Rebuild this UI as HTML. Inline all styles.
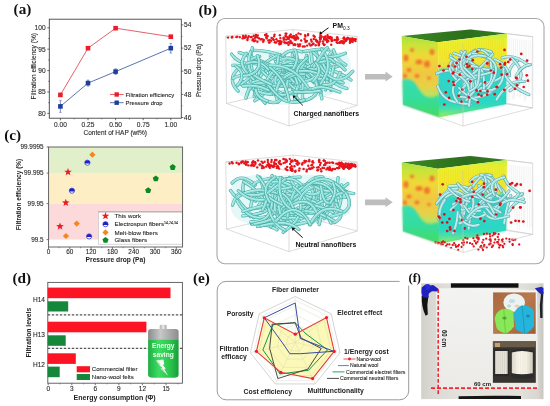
<!DOCTYPE html>
<html><head><meta charset="utf-8"><style>
html,body{margin:0;padding:0;background:#fff;}
svg{display:block;}
</style></head><body>
<svg width="550" height="406" viewBox="0 0 550 406">
<rect width="550" height="406" fill="#fff"/>
<text x="0.0" y="0.0" font-size="14" text-anchor="start" font-weight="700" fill="#111" font-family="'Liberation Serif', 'Times New Roman', serif" transform="translate(13.6,14.2) scale(1.09,1)">(a)</text>
<text x="0.0" y="0.0" font-size="14" text-anchor="start" font-weight="700" fill="#111" font-family="'Liberation Serif', 'Times New Roman', serif" transform="translate(198.5,15.2) scale(1.09,1)">(b)</text>
<text x="0.0" y="0.0" font-size="14" text-anchor="start" font-weight="700" fill="#111" font-family="'Liberation Serif', 'Times New Roman', serif" transform="translate(4.2,139.9) scale(1.09,1)">(c)</text>
<text x="0.0" y="0.0" font-size="14" text-anchor="start" font-weight="700" fill="#111" font-family="'Liberation Serif', 'Times New Roman', serif" transform="translate(12.5,282.6) scale(1.09,1)">(d)</text>
<text x="0.0" y="0.0" font-size="14" text-anchor="start" font-weight="700" fill="#111" font-family="'Liberation Serif', 'Times New Roman', serif" transform="translate(193,282.8) scale(1.09,1)">(e)</text>
<text x="408.5" y="281.6" font-size="12.5" text-anchor="start" font-weight="700" fill="#111" font-family="'Liberation Serif', 'Times New Roman', serif" >(f)</text>
<rect x="49.3" y="19.2" width="132.0" height="99.0" fill="none" stroke="#444" stroke-width="0.9"/>
<line x1="47.3" y1="113.4" x2="49.3" y2="113.4" stroke="#444" stroke-width="0.8" />
<text x="45.6" y="115.7" font-size="6.6" text-anchor="end" font-weight="400" fill="#262626" font-family="'Liberation Sans', Arial, sans-serif" stroke="#262626" stroke-width="0.1" >80</text>
<line x1="47.3" y1="92.0" x2="49.3" y2="92.0" stroke="#444" stroke-width="0.8" />
<text x="45.6" y="94.3" font-size="6.6" text-anchor="end" font-weight="400" fill="#262626" font-family="'Liberation Sans', Arial, sans-serif" stroke="#262626" stroke-width="0.1" >85</text>
<line x1="47.3" y1="70.6" x2="49.3" y2="70.6" stroke="#444" stroke-width="0.8" />
<text x="45.6" y="72.9" font-size="6.6" text-anchor="end" font-weight="400" fill="#262626" font-family="'Liberation Sans', Arial, sans-serif" stroke="#262626" stroke-width="0.1" >90</text>
<line x1="47.3" y1="49.2" x2="49.3" y2="49.2" stroke="#444" stroke-width="0.8" />
<text x="45.6" y="51.5" font-size="6.6" text-anchor="end" font-weight="400" fill="#262626" font-family="'Liberation Sans', Arial, sans-serif" stroke="#262626" stroke-width="0.1" >95</text>
<line x1="47.3" y1="27.8" x2="49.3" y2="27.8" stroke="#444" stroke-width="0.8" />
<text x="45.6" y="30.1" font-size="6.6" text-anchor="end" font-weight="400" fill="#262626" font-family="'Liberation Sans', Arial, sans-serif" stroke="#262626" stroke-width="0.1" >100</text>
<line x1="48.1" y1="102.7" x2="49.3" y2="102.7" stroke="#444" stroke-width="0.6" />
<line x1="48.1" y1="81.3" x2="49.3" y2="81.3" stroke="#444" stroke-width="0.6" />
<line x1="48.1" y1="59.9" x2="49.3" y2="59.9" stroke="#444" stroke-width="0.6" />
<line x1="48.1" y1="38.5" x2="49.3" y2="38.5" stroke="#444" stroke-width="0.6" />
<line x1="181.3" y1="117.5" x2="183.3" y2="117.5" stroke="#444" stroke-width="0.8" />
<text x="184.0" y="119.8" font-size="6.6" text-anchor="start" font-weight="400" fill="#262626" font-family="'Liberation Sans', Arial, sans-serif" stroke="#262626" stroke-width="0.1" >46</text>
<line x1="181.3" y1="94.4" x2="183.3" y2="94.4" stroke="#444" stroke-width="0.8" />
<text x="184.0" y="96.7" font-size="6.6" text-anchor="start" font-weight="400" fill="#262626" font-family="'Liberation Sans', Arial, sans-serif" stroke="#262626" stroke-width="0.1" >48</text>
<line x1="181.3" y1="71.2" x2="183.3" y2="71.2" stroke="#444" stroke-width="0.8" />
<text x="184.0" y="73.5" font-size="6.6" text-anchor="start" font-weight="400" fill="#262626" font-family="'Liberation Sans', Arial, sans-serif" stroke="#262626" stroke-width="0.1" >50</text>
<line x1="181.3" y1="48.1" x2="183.3" y2="48.1" stroke="#444" stroke-width="0.8" />
<text x="184.0" y="50.4" font-size="6.6" text-anchor="start" font-weight="400" fill="#262626" font-family="'Liberation Sans', Arial, sans-serif" stroke="#262626" stroke-width="0.1" >52</text>
<line x1="181.3" y1="24.9" x2="183.3" y2="24.9" stroke="#444" stroke-width="0.8" />
<text x="184.0" y="27.2" font-size="6.6" text-anchor="start" font-weight="400" fill="#262626" font-family="'Liberation Sans', Arial, sans-serif" stroke="#262626" stroke-width="0.1" >54</text>
<line x1="181.3" y1="105.9" x2="182.5" y2="105.9" stroke="#444" stroke-width="0.6" />
<line x1="181.3" y1="82.8" x2="182.5" y2="82.8" stroke="#444" stroke-width="0.6" />
<line x1="181.3" y1="59.6" x2="182.5" y2="59.6" stroke="#444" stroke-width="0.6" />
<line x1="181.3" y1="36.5" x2="182.5" y2="36.5" stroke="#444" stroke-width="0.6" />
<line x1="60.4" y1="118.2" x2="60.4" y2="120.2" stroke="#444" stroke-width="0.8" />
<text x="60.4" y="126.6" font-size="6.6" text-anchor="middle" font-weight="400" fill="#262626" font-family="'Liberation Sans', Arial, sans-serif" stroke="#262626" stroke-width="0.1" >0.00</text>
<line x1="88.0" y1="118.2" x2="88.0" y2="120.2" stroke="#444" stroke-width="0.8" />
<text x="88.0" y="126.6" font-size="6.6" text-anchor="middle" font-weight="400" fill="#262626" font-family="'Liberation Sans', Arial, sans-serif" stroke="#262626" stroke-width="0.1" >0.25</text>
<line x1="115.6" y1="118.2" x2="115.6" y2="120.2" stroke="#444" stroke-width="0.8" />
<text x="115.6" y="126.6" font-size="6.6" text-anchor="middle" font-weight="400" fill="#262626" font-family="'Liberation Sans', Arial, sans-serif" stroke="#262626" stroke-width="0.1" >0.50</text>
<line x1="143.2" y1="118.2" x2="143.2" y2="120.2" stroke="#444" stroke-width="0.8" />
<text x="143.2" y="126.6" font-size="6.6" text-anchor="middle" font-weight="400" fill="#262626" font-family="'Liberation Sans', Arial, sans-serif" stroke="#262626" stroke-width="0.1" >0.75</text>
<line x1="170.8" y1="118.2" x2="170.8" y2="120.2" stroke="#444" stroke-width="0.8" />
<text x="170.8" y="126.6" font-size="6.6" text-anchor="middle" font-weight="400" fill="#262626" font-family="'Liberation Sans', Arial, sans-serif" stroke="#262626" stroke-width="0.1" >1.00</text>
<line x1="74.2" y1="118.2" x2="74.2" y2="119.4" stroke="#444" stroke-width="0.6" />
<line x1="101.8" y1="118.2" x2="101.8" y2="119.4" stroke="#444" stroke-width="0.6" />
<line x1="129.4" y1="118.2" x2="129.4" y2="119.4" stroke="#444" stroke-width="0.6" />
<line x1="157.0" y1="118.2" x2="157.0" y2="119.4" stroke="#444" stroke-width="0.6" />
<line x1="184.6" y1="118.2" x2="184.6" y2="119.4" stroke="#444" stroke-width="0.6" />
<text x="115.3" y="134.8" font-size="6.5" text-anchor="middle" font-weight="400" fill="#262626" font-family="'Liberation Sans', Arial, sans-serif" stroke="#262626" stroke-width="0.1" >Content of HAP (wt%)</text>
<text x="0.0" y="0.0" font-size="6.6" text-anchor="middle" font-weight="400" fill="#262626" font-family="'Liberation Sans', Arial, sans-serif" stroke="#262626" stroke-width="0.1" transform="translate(35.6,66.3) rotate(-90)">Filtration efficiency (%)</text>
<text x="0.0" y="0.0" font-size="6.3" text-anchor="middle" font-weight="400" fill="#262626" font-family="'Liberation Sans', Arial, sans-serif" stroke="#262626" stroke-width="0.1" transform="translate(201.2,70.5) rotate(-90)">Pressure drop (Pa)</text>
<polyline points="60.4,94.9 88.0,48.2 115.6,28.2 170.8,36.7" fill="none" stroke="#e0505a" stroke-width="0.9"/>
<polyline points="60.4,106.4 88.0,83.1 115.6,71.6 170.8,48.2" fill="none" stroke="#4a64a8" stroke-width="0.9"/>
<line x1="60.4" y1="93.3" x2="60.4" y2="96.5" stroke="#e88" stroke-width="0.7" />
<line x1="59.2" y1="93.3" x2="61.6" y2="93.3" stroke="#e88" stroke-width="0.6" />
<line x1="59.2" y1="96.5" x2="61.6" y2="96.5" stroke="#e88" stroke-width="0.6" />
<line x1="88.0" y1="47.4" x2="88.0" y2="49.0" stroke="#e88" stroke-width="0.7" />
<line x1="86.8" y1="47.4" x2="89.2" y2="47.4" stroke="#e88" stroke-width="0.6" />
<line x1="86.8" y1="49.0" x2="89.2" y2="49.0" stroke="#e88" stroke-width="0.6" />
<line x1="115.6" y1="27.7" x2="115.6" y2="28.7" stroke="#e88" stroke-width="0.7" />
<line x1="114.4" y1="27.7" x2="116.8" y2="27.7" stroke="#e88" stroke-width="0.6" />
<line x1="114.4" y1="28.7" x2="116.8" y2="28.7" stroke="#e88" stroke-width="0.6" />
<line x1="170.8" y1="35.9" x2="170.8" y2="37.5" stroke="#e88" stroke-width="0.7" />
<line x1="169.6" y1="35.9" x2="172.0" y2="35.9" stroke="#e88" stroke-width="0.6" />
<line x1="169.6" y1="37.5" x2="172.0" y2="37.5" stroke="#e88" stroke-width="0.6" />
<line x1="60.4" y1="100.4" x2="60.4" y2="112.4" stroke="#4a64a8" stroke-width="0.7" />
<line x1="59.2" y1="100.4" x2="61.6" y2="100.4" stroke="#4a64a8" stroke-width="0.6" />
<line x1="59.2" y1="112.4" x2="61.6" y2="112.4" stroke="#4a64a8" stroke-width="0.6" />
<line x1="88.0" y1="80.1" x2="88.0" y2="86.1" stroke="#4a64a8" stroke-width="0.7" />
<line x1="86.8" y1="80.1" x2="89.2" y2="80.1" stroke="#4a64a8" stroke-width="0.6" />
<line x1="86.8" y1="86.1" x2="89.2" y2="86.1" stroke="#4a64a8" stroke-width="0.6" />
<line x1="115.6" y1="68.8" x2="115.6" y2="74.4" stroke="#4a64a8" stroke-width="0.7" />
<line x1="114.4" y1="68.8" x2="116.8" y2="68.8" stroke="#4a64a8" stroke-width="0.6" />
<line x1="114.4" y1="74.4" x2="116.8" y2="74.4" stroke="#4a64a8" stroke-width="0.6" />
<line x1="170.8" y1="43.4" x2="170.8" y2="53.0" stroke="#4a64a8" stroke-width="0.7" />
<line x1="169.6" y1="43.4" x2="172.0" y2="43.4" stroke="#4a64a8" stroke-width="0.6" />
<line x1="169.6" y1="53.0" x2="172.0" y2="53.0" stroke="#4a64a8" stroke-width="0.6" />
<rect x="58.1" y="92.60000000000001" width="4.6" height="4.6" fill="#ee1c2a"/>
<rect x="85.7" y="45.900000000000006" width="4.6" height="4.6" fill="#ee1c2a"/>
<rect x="113.3" y="25.9" width="4.6" height="4.6" fill="#ee1c2a"/>
<rect x="168.5" y="34.400000000000006" width="4.6" height="4.6" fill="#ee1c2a"/>
<rect x="58.1" y="104.10000000000001" width="4.6" height="4.6" fill="#1f3e9c"/>
<rect x="85.7" y="80.8" width="4.6" height="4.6" fill="#1f3e9c"/>
<rect x="113.3" y="69.3" width="4.6" height="4.6" fill="#1f3e9c"/>
<rect x="168.5" y="45.900000000000006" width="4.6" height="4.6" fill="#1f3e9c"/>
<line x1="110.0" y1="94.5" x2="123.6" y2="94.5" stroke="#e0505a" stroke-width="0.9" />
<rect x="114.5" y="92.3" width="4.4" height="4.4" fill="#ee1c2a"/>
<line x1="110.0" y1="102.7" x2="123.6" y2="102.7" stroke="#4a64a8" stroke-width="0.9" />
<rect x="114.5" y="100.5" width="4.4" height="4.4" fill="#1f3e9c"/>
<text x="125.5" y="96.6" font-size="5.9" text-anchor="start" font-weight="400" fill="#262626" font-family="'Liberation Sans', Arial, sans-serif" stroke="#262626" stroke-width="0.1" >Filtration efficiency</text>
<text x="125.5" y="104.8" font-size="5.9" text-anchor="start" font-weight="400" fill="#262626" font-family="'Liberation Sans', Arial, sans-serif" stroke="#262626" stroke-width="0.1" >Pressure drop</text>
<defs>
<filter id="blur1" x="-20%" y="-20%" width="140%" height="140%"><feGaussianBlur stdDeviation="0.9"/></filter>
<linearGradient id="topg" x1="0" x2="1" y1="0" y2="0"><stop offset="0" stop-color="#3c8a24"/><stop offset="0.6" stop-color="#2c6e1c"/><stop offset="1" stop-color="#367e22"/></linearGradient>
<linearGradient id="leftg" x1="0" x2="0" y1="0" y2="1">
<stop offset="0" stop-color="#a8e040"/><stop offset="0.1" stop-color="#c8e438"/><stop offset="0.25" stop-color="#f0d838"/><stop offset="0.45" stop-color="#f0c840"/><stop offset="0.62" stop-color="#e8d048"/><stop offset="0.72" stop-color="#c0e060"/><stop offset="0.85" stop-color="#40d898"/><stop offset="1" stop-color="#50e060"/></linearGradient>
<linearGradient id="frontg" x1="0" x2="0" y1="0" y2="1">
<stop offset="0" stop-color="#c0f048"/><stop offset="0.08" stop-color="#e8f030"/><stop offset="0.25" stop-color="#f4e828"/><stop offset="0.4" stop-color="#e8e040"/><stop offset="0.52" stop-color="#58d0b0"/><stop offset="0.75" stop-color="#2ec8b8"/><stop offset="0.9" stop-color="#40d890"/><stop offset="1" stop-color="#50e060"/></linearGradient>
<linearGradient id="cyang" x1="0" x2="0" y1="0" y2="1"><stop offset="0" stop-color="#38dcb4"/><stop offset="0.5" stop-color="#34dca0"/><stop offset="1" stop-color="#44dc60"/></linearGradient>
<linearGradient id="cyang2" x1="0" x2="0" y1="0" y2="1"><stop offset="0" stop-color="#30d4cc"/><stop offset="0.75" stop-color="#2cd8c4"/><stop offset="0.9" stop-color="#60e490"/><stop offset="1" stop-color="#a8f050"/></linearGradient>
</defs>
<rect x="217.0" y="18.5" width="327" height="245.2" rx="8" ry="8" fill="#fff" stroke="#a8a8a8" stroke-width="1.1"/>
<g transform="translate(0,0)">
<line x1="225.8" y1="36.2" x2="293.2" y2="29.5" stroke="#c4c4c4" stroke-width="0.6" />
<line x1="293.2" y1="29.5" x2="357.2" y2="36.5" stroke="#c4c4c4" stroke-width="0.6" />
<line x1="293.2" y1="29.5" x2="293.2" y2="88.0" stroke="#c4c4c4" stroke-width="0.6" />
<line x1="226.5" y1="103.5" x2="293.2" y2="88.0" stroke="#c4c4c4" stroke-width="0.6" />
<line x1="293.2" y1="88.0" x2="357.2" y2="105.5" stroke="#c4c4c4" stroke-width="0.6" />
<path d="M231,62 C232,52 250,47 270,51 C290,48 320,48 345,53 C352,57 352,72 350,88 C340,95 320,96 300,101 C290,106 275,106 262,101 C245,99 233,94 231,84 Z" fill="#8adcd6" opacity="0.22"/>
<g fill="none" stroke-linecap="round">
<path d="M286.0,83.8 C295.5,79.2 304.9,74.2 314.4,69.1" stroke="#48a8a2" stroke-width="3.3"/>
<path d="M286.0,83.8 C295.5,79.2 304.9,74.2 314.4,69.1" stroke="#8ce0da" stroke-width="2.2"/>
<path d="M286.0,83.8 C295.5,79.2 304.9,74.2 314.4,69.1" stroke="#d2f8f5" stroke-width="0.6" transform="translate(-0.4,-0.4)"/>
<path d="M293.5,91.1 C290.6,83.2 295.4,76.5 299.1,71.1" stroke="#48a8a2" stroke-width="3.3"/>
<path d="M293.5,91.1 C290.6,83.2 295.4,76.5 299.1,71.1" stroke="#8ce0da" stroke-width="2.2"/>
<path d="M293.5,91.1 C290.6,83.2 295.4,76.5 299.1,71.1" stroke="#d2f8f5" stroke-width="0.6" transform="translate(-0.4,-0.4)"/>
<path d="M253.0,50.4 C263.7,50.1 274.1,52.6 284.3,56.4" stroke="#48a8a2" stroke-width="3.3"/>
<path d="M253.0,50.4 C263.7,50.1 274.1,52.6 284.3,56.4" stroke="#8ce0da" stroke-width="2.2"/>
<path d="M253.0,50.4 C263.7,50.1 274.1,52.6 284.3,56.4" stroke="#d2f8f5" stroke-width="0.6" transform="translate(-0.4,-0.4)"/>
<path d="M309.7,77.5 C297.0,73.0 290.1,64.9 293.1,50.4" stroke="#48a8a2" stroke-width="3.3"/>
<path d="M309.7,77.5 C297.0,73.0 290.1,64.9 293.1,50.4" stroke="#8ce0da" stroke-width="2.2"/>
<path d="M309.7,77.5 C297.0,73.0 290.1,64.9 293.1,50.4" stroke="#d2f8f5" stroke-width="0.6" transform="translate(-0.4,-0.4)"/>
<path d="M238.2,91.1 C227.0,80.3 233.6,71.5 242.9,65.4" stroke="#48a8a2" stroke-width="3.3"/>
<path d="M238.2,91.1 C227.0,80.3 233.6,71.5 242.9,65.4" stroke="#8ce0da" stroke-width="2.2"/>
<path d="M238.2,91.1 C227.0,80.3 233.6,71.5 242.9,65.4" stroke="#d2f8f5" stroke-width="0.6" transform="translate(-0.4,-0.4)"/>
<path d="M270.4,56.1 C275.7,61.0 282.2,63.7 289.0,65.3" stroke="#48a8a2" stroke-width="3.3"/>
<path d="M270.4,56.1 C275.7,61.0 282.2,63.7 289.0,65.3" stroke="#8ce0da" stroke-width="2.2"/>
<path d="M270.4,56.1 C275.7,61.0 282.2,63.7 289.0,65.3" stroke="#d2f8f5" stroke-width="0.6" transform="translate(-0.4,-0.4)"/>
<path d="M275.8,72.6 C287.0,72.7 297.4,68.4 307.3,64.3" stroke="#48a8a2" stroke-width="3.3"/>
<path d="M275.8,72.6 C287.0,72.7 297.4,68.4 307.3,64.3" stroke="#8ce0da" stroke-width="2.2"/>
<path d="M275.8,72.6 C287.0,72.7 297.4,68.4 307.3,64.3" stroke="#d2f8f5" stroke-width="0.6" transform="translate(-0.4,-0.4)"/>
<path d="M332.0,51.2 C317.2,71.4 332.4,84.9 346.9,88.5" stroke="#48a8a2" stroke-width="3.3"/>
<path d="M332.0,51.2 C317.2,71.4 332.4,84.9 346.9,88.5" stroke="#8ce0da" stroke-width="2.2"/>
<path d="M332.0,51.2 C317.2,71.4 332.4,84.9 346.9,88.5" stroke="#d2f8f5" stroke-width="0.6" transform="translate(-0.4,-0.4)"/>
<path d="M257.8,83.7 C257.3,68.4 263.5,61.7 279.6,54.6" stroke="#48a8a2" stroke-width="3.3"/>
<path d="M257.8,83.7 C257.3,68.4 263.5,61.7 279.6,54.6" stroke="#8ce0da" stroke-width="2.2"/>
<path d="M257.8,83.7 C257.3,68.4 263.5,61.7 279.6,54.6" stroke="#d2f8f5" stroke-width="0.6" transform="translate(-0.4,-0.4)"/>
<path d="M251.2,63.7 C243.1,63.8 236.4,61.2 231.5,54.1" stroke="#48a8a2" stroke-width="3.3"/>
<path d="M251.2,63.7 C243.1,63.8 236.4,61.2 231.5,54.1" stroke="#8ce0da" stroke-width="2.2"/>
<path d="M251.2,63.7 C243.1,63.8 236.4,61.2 231.5,54.1" stroke="#d2f8f5" stroke-width="0.6" transform="translate(-0.4,-0.4)"/>
<path d="M311.8,97.6 C299.2,104.6 297.1,102.1 292.6,86.3" stroke="#48a8a2" stroke-width="3.3"/>
<path d="M311.8,97.6 C299.2,104.6 297.1,102.1 292.6,86.3" stroke="#8ce0da" stroke-width="2.2"/>
<path d="M311.8,97.6 C299.2,104.6 297.1,102.1 292.6,86.3" stroke="#d2f8f5" stroke-width="0.6" transform="translate(-0.4,-0.4)"/>
<path d="M321.9,98.9 C318.1,82.3 322.8,67.6 334.1,55.1" stroke="#48a8a2" stroke-width="3.3"/>
<path d="M321.9,98.9 C318.1,82.3 322.8,67.6 334.1,55.1" stroke="#8ce0da" stroke-width="2.2"/>
<path d="M321.9,98.9 C318.1,82.3 322.8,67.6 334.1,55.1" stroke="#d2f8f5" stroke-width="0.6" transform="translate(-0.4,-0.4)"/>
<path d="M277.9,102.2 C275.1,86.1 262.3,81.4 250.7,87.0" stroke="#48a8a2" stroke-width="3.3"/>
<path d="M277.9,102.2 C275.1,86.1 262.3,81.4 250.7,87.0" stroke="#8ce0da" stroke-width="2.2"/>
<path d="M277.9,102.2 C275.1,86.1 262.3,81.4 250.7,87.0" stroke="#d2f8f5" stroke-width="0.6" transform="translate(-0.4,-0.4)"/>
<path d="M339.9,65.4 C326.1,71.2 319.7,67.3 316.1,51.7" stroke="#48a8a2" stroke-width="3.3"/>
<path d="M339.9,65.4 C326.1,71.2 319.7,67.3 316.1,51.7" stroke="#8ce0da" stroke-width="2.2"/>
<path d="M339.9,65.4 C326.1,71.2 319.7,67.3 316.1,51.7" stroke="#d2f8f5" stroke-width="0.6" transform="translate(-0.4,-0.4)"/>
<path d="M250.3,72.3 C251.5,80.7 249.9,88.5 246.5,96.4" stroke="#48a8a2" stroke-width="3.3"/>
<path d="M250.3,72.3 C251.5,80.7 249.9,88.5 246.5,96.4" stroke="#8ce0da" stroke-width="2.2"/>
<path d="M250.3,72.3 C251.5,80.7 249.9,88.5 246.5,96.4" stroke="#d2f8f5" stroke-width="0.6" transform="translate(-0.4,-0.4)"/>
<path d="M333.5,49.9 C335.3,56.8 340.0,61.5 345.8,65.0" stroke="#48a8a2" stroke-width="3.3"/>
<path d="M333.5,49.9 C335.3,56.8 340.0,61.5 345.8,65.0" stroke="#8ce0da" stroke-width="2.2"/>
<path d="M333.5,49.9 C335.3,56.8 340.0,61.5 345.8,65.0" stroke="#d2f8f5" stroke-width="0.6" transform="translate(-0.4,-0.4)"/>
<path d="M254.1,74.9 C257.3,80.1 259.9,85.7 262.1,91.4" stroke="#48a8a2" stroke-width="3.3"/>
<path d="M254.1,74.9 C257.3,80.1 259.9,85.7 262.1,91.4" stroke="#8ce0da" stroke-width="2.2"/>
<path d="M254.1,74.9 C257.3,80.1 259.9,85.7 262.1,91.4" stroke="#d2f8f5" stroke-width="0.6" transform="translate(-0.4,-0.4)"/>
<path d="M276.5,84.7 C301.9,91.4 307.6,80.1 306.9,55.9" stroke="#48a8a2" stroke-width="3.3"/>
<path d="M276.5,84.7 C301.9,91.4 307.6,80.1 306.9,55.9" stroke="#8ce0da" stroke-width="2.2"/>
<path d="M276.5,84.7 C301.9,91.4 307.6,80.1 306.9,55.9" stroke="#d2f8f5" stroke-width="0.6" transform="translate(-0.4,-0.4)"/>
<path d="M254.8,100.8 C268.8,93.7 269.4,82.9 270.3,66.9" stroke="#48a8a2" stroke-width="3.3"/>
<path d="M254.8,100.8 C268.8,93.7 269.4,82.9 270.3,66.9" stroke="#8ce0da" stroke-width="2.2"/>
<path d="M254.8,100.8 C268.8,93.7 269.4,82.9 270.3,66.9" stroke="#d2f8f5" stroke-width="0.6" transform="translate(-0.4,-0.4)"/>
<path d="M294.1,101.0 C318.4,101.3 320.7,92.2 314.8,68.3" stroke="#48a8a2" stroke-width="3.3"/>
<path d="M294.1,101.0 C318.4,101.3 320.7,92.2 314.8,68.3" stroke="#8ce0da" stroke-width="2.2"/>
<path d="M294.1,101.0 C318.4,101.3 320.7,92.2 314.8,68.3" stroke="#d2f8f5" stroke-width="0.6" transform="translate(-0.4,-0.4)"/>
<path d="M320.8,92.1 C307.1,87.0 292.8,86.0 278.0,85.9" stroke="#48a8a2" stroke-width="3.3"/>
<path d="M320.8,92.1 C307.1,87.0 292.8,86.0 278.0,85.9" stroke="#8ce0da" stroke-width="2.2"/>
<path d="M320.8,92.1 C307.1,87.0 292.8,86.0 278.0,85.9" stroke="#d2f8f5" stroke-width="0.6" transform="translate(-0.4,-0.4)"/>
<path d="M351.0,80.0 C344.4,75.6 337.1,72.2 329.5,69.4" stroke="#48a8a2" stroke-width="3.3"/>
<path d="M351.0,80.0 C344.4,75.6 337.1,72.2 329.5,69.4" stroke="#8ce0da" stroke-width="2.2"/>
<path d="M351.0,80.0 C344.4,75.6 337.1,72.2 329.5,69.4" stroke="#d2f8f5" stroke-width="0.6" transform="translate(-0.4,-0.4)"/>
<path d="M345.4,53.3 C338.5,56.2 331.5,57.6 323.9,56.9" stroke="#48a8a2" stroke-width="3.3"/>
<path d="M345.4,53.3 C338.5,56.2 331.5,57.6 323.9,56.9" stroke="#8ce0da" stroke-width="2.2"/>
<path d="M345.4,53.3 C338.5,56.2 331.5,57.6 323.9,56.9" stroke="#d2f8f5" stroke-width="0.6" transform="translate(-0.4,-0.4)"/>
<path d="M289.0,58.3 C276.0,76.3 290.5,87.5 302.2,92.4" stroke="#48a8a2" stroke-width="3.3"/>
<path d="M289.0,58.3 C276.0,76.3 290.5,87.5 302.2,92.4" stroke="#8ce0da" stroke-width="2.2"/>
<path d="M289.0,58.3 C276.0,76.3 290.5,87.5 302.2,92.4" stroke="#d2f8f5" stroke-width="0.6" transform="translate(-0.4,-0.4)"/>
<path d="M293.3,51.3 C299.4,61.1 302.1,71.9 304.3,83.4" stroke="#48a8a2" stroke-width="3.3"/>
<path d="M293.3,51.3 C299.4,61.1 302.1,71.9 304.3,83.4" stroke="#8ce0da" stroke-width="2.2"/>
<path d="M293.3,51.3 C299.4,61.1 302.1,71.9 304.3,83.4" stroke="#d2f8f5" stroke-width="0.6" transform="translate(-0.4,-0.4)"/>
<path d="M254.7,91.3 C258.4,73.5 249.6,64.3 232.9,65.4" stroke="#48a8a2" stroke-width="3.3"/>
<path d="M254.7,91.3 C258.4,73.5 249.6,64.3 232.9,65.4" stroke="#8ce0da" stroke-width="2.2"/>
<path d="M254.7,91.3 C258.4,73.5 249.6,64.3 232.9,65.4" stroke="#d2f8f5" stroke-width="0.6" transform="translate(-0.4,-0.4)"/>
<path d="M254.3,96.7 C256.0,70.0 272.0,62.1 294.3,71.8" stroke="#48a8a2" stroke-width="3.3"/>
<path d="M254.3,96.7 C256.0,70.0 272.0,62.1 294.3,71.8" stroke="#8ce0da" stroke-width="2.2"/>
<path d="M254.3,96.7 C256.0,70.0 272.0,62.1 294.3,71.8" stroke="#d2f8f5" stroke-width="0.6" transform="translate(-0.4,-0.4)"/>
<path d="M298.5,79.1 C288.2,83.7 283.4,81.0 278.2,69.7" stroke="#48a8a2" stroke-width="3.3"/>
<path d="M298.5,79.1 C288.2,83.7 283.4,81.0 278.2,69.7" stroke="#8ce0da" stroke-width="2.2"/>
<path d="M298.5,79.1 C288.2,83.7 283.4,81.0 278.2,69.7" stroke="#d2f8f5" stroke-width="0.6" transform="translate(-0.4,-0.4)"/>
<path d="M287.8,79.1 C286.0,103.2 274.6,109.4 255.2,94.4" stroke="#48a8a2" stroke-width="3.3"/>
<path d="M287.8,79.1 C286.0,103.2 274.6,109.4 255.2,94.4" stroke="#8ce0da" stroke-width="2.2"/>
<path d="M287.8,79.1 C286.0,103.2 274.6,109.4 255.2,94.4" stroke="#d2f8f5" stroke-width="0.6" transform="translate(-0.4,-0.4)"/>
<path d="M272.1,74.2 C281.2,79.6 290.7,77.9 300.7,76.1" stroke="#48a8a2" stroke-width="3.3"/>
<path d="M272.1,74.2 C281.2,79.6 290.7,77.9 300.7,76.1" stroke="#8ce0da" stroke-width="2.2"/>
<path d="M272.1,74.2 C281.2,79.6 290.7,77.9 300.7,76.1" stroke="#d2f8f5" stroke-width="0.6" transform="translate(-0.4,-0.4)"/>
<path d="M271.6,94.3 C259.5,93.6 249.0,88.4 240.8,79.9" stroke="#48a8a2" stroke-width="3.3"/>
<path d="M271.6,94.3 C259.5,93.6 249.0,88.4 240.8,79.9" stroke="#8ce0da" stroke-width="2.2"/>
<path d="M271.6,94.3 C259.5,93.6 249.0,88.4 240.8,79.9" stroke="#d2f8f5" stroke-width="0.6" transform="translate(-0.4,-0.4)"/>
<path d="M261.3,67.2 C269.9,66.2 276.7,70.3 284.0,74.6" stroke="#48a8a2" stroke-width="3.3"/>
<path d="M261.3,67.2 C269.9,66.2 276.7,70.3 284.0,74.6" stroke="#8ce0da" stroke-width="2.2"/>
<path d="M261.3,67.2 C269.9,66.2 276.7,70.3 284.0,74.6" stroke="#d2f8f5" stroke-width="0.6" transform="translate(-0.4,-0.4)"/>
<path d="M343.1,82.8 C327.8,78.2 312.3,77.9 296.2,80.4" stroke="#48a8a2" stroke-width="3.3"/>
<path d="M343.1,82.8 C327.8,78.2 312.3,77.9 296.2,80.4" stroke="#8ce0da" stroke-width="2.2"/>
<path d="M343.1,82.8 C327.8,78.2 312.3,77.9 296.2,80.4" stroke="#d2f8f5" stroke-width="0.6" transform="translate(-0.4,-0.4)"/>
<path d="M249.2,74.5 C250.6,86.1 258.4,95.9 265.1,103.2" stroke="#48a8a2" stroke-width="3.3"/>
<path d="M249.2,74.5 C250.6,86.1 258.4,95.9 265.1,103.2" stroke="#8ce0da" stroke-width="2.2"/>
<path d="M249.2,74.5 C250.6,86.1 258.4,95.9 265.1,103.2" stroke="#d2f8f5" stroke-width="0.6" transform="translate(-0.4,-0.4)"/>
<path d="M282.0,80.3 C269.9,80.9 262.6,74.2 258.3,63.6" stroke="#48a8a2" stroke-width="3.3"/>
<path d="M282.0,80.3 C269.9,80.9 262.6,74.2 258.3,63.6" stroke="#8ce0da" stroke-width="2.2"/>
<path d="M282.0,80.3 C269.9,80.9 262.6,74.2 258.3,63.6" stroke="#d2f8f5" stroke-width="0.6" transform="translate(-0.4,-0.4)"/>
<path d="M283.1,75.1 C291.5,74.4 299.7,73.0 308.1,70.9" stroke="#48a8a2" stroke-width="3.3"/>
<path d="M283.1,75.1 C291.5,74.4 299.7,73.0 308.1,70.9" stroke="#8ce0da" stroke-width="2.2"/>
<path d="M283.1,75.1 C291.5,74.4 299.7,73.0 308.1,70.9" stroke="#d2f8f5" stroke-width="0.6" transform="translate(-0.4,-0.4)"/>
<path d="M307.7,62.7 C303.1,74.9 301.8,87.6 302.6,100.9" stroke="#48a8a2" stroke-width="3.3"/>
<path d="M307.7,62.7 C303.1,74.9 301.8,87.6 302.6,100.9" stroke="#8ce0da" stroke-width="2.2"/>
<path d="M307.7,62.7 C303.1,74.9 301.8,87.6 302.6,100.9" stroke="#d2f8f5" stroke-width="0.6" transform="translate(-0.4,-0.4)"/>
<path d="M263.1,69.6 C258.9,64.0 253.5,59.6 248.1,54.9" stroke="#48a8a2" stroke-width="3.3"/>
<path d="M263.1,69.6 C258.9,64.0 253.5,59.6 248.1,54.9" stroke="#8ce0da" stroke-width="2.2"/>
<path d="M263.1,69.6 C258.9,64.0 253.5,59.6 248.1,54.9" stroke="#d2f8f5" stroke-width="0.6" transform="translate(-0.4,-0.4)"/>
<path d="M314.2,82.8 C307.1,76.3 300.8,69.0 294.4,61.4" stroke="#48a8a2" stroke-width="3.3"/>
<path d="M314.2,82.8 C307.1,76.3 300.8,69.0 294.4,61.4" stroke="#8ce0da" stroke-width="2.2"/>
<path d="M314.2,82.8 C307.1,76.3 300.8,69.0 294.4,61.4" stroke="#d2f8f5" stroke-width="0.6" transform="translate(-0.4,-0.4)"/>
<path d="M331.0,90.5 C329.7,82.2 331.7,74.2 333.8,66.3" stroke="#48a8a2" stroke-width="3.3"/>
<path d="M331.0,90.5 C329.7,82.2 331.7,74.2 333.8,66.3" stroke="#8ce0da" stroke-width="2.2"/>
<path d="M331.0,90.5 C329.7,82.2 331.7,74.2 333.8,66.3" stroke="#d2f8f5" stroke-width="0.6" transform="translate(-0.4,-0.4)"/>
<path d="M275.5,93.6 C284.7,94.6 293.9,94.2 303.2,91.7" stroke="#48a8a2" stroke-width="3.3"/>
<path d="M275.5,93.6 C284.7,94.6 293.9,94.2 303.2,91.7" stroke="#8ce0da" stroke-width="2.2"/>
<path d="M275.5,93.6 C284.7,94.6 293.9,94.2 303.2,91.7" stroke="#d2f8f5" stroke-width="0.6" transform="translate(-0.4,-0.4)"/>
<path d="M282.9,63.8 C307.7,53.8 311.6,65.7 319.2,89.1" stroke="#48a8a2" stroke-width="3.3"/>
<path d="M282.9,63.8 C307.7,53.8 311.6,65.7 319.2,89.1" stroke="#8ce0da" stroke-width="2.2"/>
<path d="M282.9,63.8 C307.7,53.8 311.6,65.7 319.2,89.1" stroke="#d2f8f5" stroke-width="0.6" transform="translate(-0.4,-0.4)"/>
<path d="M267.3,101.1 C253.6,96.8 254.6,88.4 258.1,76.3" stroke="#48a8a2" stroke-width="3.3"/>
<path d="M267.3,101.1 C253.6,96.8 254.6,88.4 258.1,76.3" stroke="#8ce0da" stroke-width="2.2"/>
<path d="M267.3,101.1 C253.6,96.8 254.6,88.4 258.1,76.3" stroke="#d2f8f5" stroke-width="0.6" transform="translate(-0.4,-0.4)"/>
<path d="M260.3,63.0 C256.7,72.5 249.4,78.4 241.1,84.6" stroke="#48a8a2" stroke-width="3.3"/>
<path d="M260.3,63.0 C256.7,72.5 249.4,78.4 241.1,84.6" stroke="#8ce0da" stroke-width="2.2"/>
<path d="M260.3,63.0 C256.7,72.5 249.4,78.4 241.1,84.6" stroke="#d2f8f5" stroke-width="0.6" transform="translate(-0.4,-0.4)"/>
<path d="M294.0,82.1 C283.3,68.0 269.3,66.6 251.1,62.8" stroke="#48a8a2" stroke-width="3.3"/>
<path d="M294.0,82.1 C283.3,68.0 269.3,66.6 251.1,62.8" stroke="#8ce0da" stroke-width="2.2"/>
<path d="M294.0,82.1 C283.3,68.0 269.3,66.6 251.1,62.8" stroke="#d2f8f5" stroke-width="0.6" transform="translate(-0.4,-0.4)"/>
<path d="M310.8,50.8 C312.2,64.3 314.7,77.5 318.3,91.0" stroke="#48a8a2" stroke-width="3.3"/>
<path d="M310.8,50.8 C312.2,64.3 314.7,77.5 318.3,91.0" stroke="#8ce0da" stroke-width="2.2"/>
<path d="M310.8,50.8 C312.2,64.3 314.7,77.5 318.3,91.0" stroke="#d2f8f5" stroke-width="0.6" transform="translate(-0.4,-0.4)"/>
<path d="M313.7,76.8 C303.3,64.2 290.9,64.3 275.2,67.6" stroke="#48a8a2" stroke-width="3.3"/>
<path d="M313.7,76.8 C303.3,64.2 290.9,64.3 275.2,67.6" stroke="#8ce0da" stroke-width="2.2"/>
<path d="M313.7,76.8 C303.3,64.2 290.9,64.3 275.2,67.6" stroke="#d2f8f5" stroke-width="0.6" transform="translate(-0.4,-0.4)"/>
<path d="M295.0,99.6 C295.5,89.0 300.3,79.5 304.9,70.5" stroke="#48a8a2" stroke-width="3.3"/>
<path d="M295.0,99.6 C295.5,89.0 300.3,79.5 304.9,70.5" stroke="#8ce0da" stroke-width="2.2"/>
<path d="M295.0,99.6 C295.5,89.0 300.3,79.5 304.9,70.5" stroke="#d2f8f5" stroke-width="0.6" transform="translate(-0.4,-0.4)"/>
<path d="M282.5,55.7 C288.1,50.0 295.0,49.3 302.0,51.9" stroke="#48a8a2" stroke-width="3.3"/>
<path d="M282.5,55.7 C288.1,50.0 295.0,49.3 302.0,51.9" stroke="#8ce0da" stroke-width="2.2"/>
<path d="M282.5,55.7 C288.1,50.0 295.0,49.3 302.0,51.9" stroke="#d2f8f5" stroke-width="0.6" transform="translate(-0.4,-0.4)"/>
<path d="M252.3,47.8 C249.0,61.2 252.4,74.0 255.9,87.2" stroke="#48a8a2" stroke-width="3.3"/>
<path d="M252.3,47.8 C249.0,61.2 252.4,74.0 255.9,87.2" stroke="#8ce0da" stroke-width="2.2"/>
<path d="M252.3,47.8 C249.0,61.2 252.4,74.0 255.9,87.2" stroke="#d2f8f5" stroke-width="0.6" transform="translate(-0.4,-0.4)"/>
<path d="M272.1,82.5 C279.5,69.1 291.8,64.7 303.4,73.8" stroke="#48a8a2" stroke-width="3.3"/>
<path d="M272.1,82.5 C279.5,69.1 291.8,64.7 303.4,73.8" stroke="#8ce0da" stroke-width="2.2"/>
<path d="M272.1,82.5 C279.5,69.1 291.8,64.7 303.4,73.8" stroke="#d2f8f5" stroke-width="0.6" transform="translate(-0.4,-0.4)"/>
<path d="M330.0,65.4 C317.5,72.4 306.4,69.6 297.0,59.6" stroke="#48a8a2" stroke-width="3.3"/>
<path d="M330.0,65.4 C317.5,72.4 306.4,69.6 297.0,59.6" stroke="#8ce0da" stroke-width="2.2"/>
<path d="M330.0,65.4 C317.5,72.4 306.4,69.6 297.0,59.6" stroke="#d2f8f5" stroke-width="0.6" transform="translate(-0.4,-0.4)"/>
<path d="M294.0,91.9 C302.6,92.6 311.2,92.2 320.0,90.8" stroke="#48a8a2" stroke-width="3.3"/>
<path d="M294.0,91.9 C302.6,92.6 311.2,92.2 320.0,90.8" stroke="#8ce0da" stroke-width="2.2"/>
<path d="M294.0,91.9 C302.6,92.6 311.2,92.2 320.0,90.8" stroke="#d2f8f5" stroke-width="0.6" transform="translate(-0.4,-0.4)"/>
<path d="M289.5,74.2 C305.0,85.6 314.5,82.5 323.7,64.4" stroke="#48a8a2" stroke-width="3.3"/>
<path d="M289.5,74.2 C305.0,85.6 314.5,82.5 323.7,64.4" stroke="#8ce0da" stroke-width="2.2"/>
<path d="M289.5,74.2 C305.0,85.6 314.5,82.5 323.7,64.4" stroke="#d2f8f5" stroke-width="0.6" transform="translate(-0.4,-0.4)"/>
<path d="M255.3,82.1 C249.3,71.9 241.3,74.5 232.8,78.4" stroke="#48a8a2" stroke-width="3.3"/>
<path d="M255.3,82.1 C249.3,71.9 241.3,74.5 232.8,78.4" stroke="#8ce0da" stroke-width="2.2"/>
<path d="M255.3,82.1 C249.3,71.9 241.3,74.5 232.8,78.4" stroke="#d2f8f5" stroke-width="0.6" transform="translate(-0.4,-0.4)"/>
<path d="M306.6,55.5 C304.4,69.3 294.1,75.2 282.3,79.5" stroke="#48a8a2" stroke-width="3.3"/>
<path d="M306.6,55.5 C304.4,69.3 294.1,75.2 282.3,79.5" stroke="#8ce0da" stroke-width="2.2"/>
<path d="M306.6,55.5 C304.4,69.3 294.1,75.2 282.3,79.5" stroke="#d2f8f5" stroke-width="0.6" transform="translate(-0.4,-0.4)"/>
<path d="M313.0,51.9 C324.9,61.9 330.1,75.0 325.4,89.9" stroke="#48a8a2" stroke-width="3.3"/>
<path d="M313.0,51.9 C324.9,61.9 330.1,75.0 325.4,89.9" stroke="#8ce0da" stroke-width="2.2"/>
<path d="M313.0,51.9 C324.9,61.9 330.1,75.0 325.4,89.9" stroke="#d2f8f5" stroke-width="0.6" transform="translate(-0.4,-0.4)"/>
<path d="M345.0,69.8 C333.6,57.0 321.3,60.3 307.7,67.1" stroke="#48a8a2" stroke-width="3.3"/>
<path d="M345.0,69.8 C333.6,57.0 321.3,60.3 307.7,67.1" stroke="#8ce0da" stroke-width="2.2"/>
<path d="M345.0,69.8 C333.6,57.0 321.3,60.3 307.7,67.1" stroke="#d2f8f5" stroke-width="0.6" transform="translate(-0.4,-0.4)"/>
<path d="M270.8,68.3 C279.9,76.4 289.7,77.4 300.6,71.2" stroke="#48a8a2" stroke-width="3.3"/>
<path d="M270.8,68.3 C279.9,76.4 289.7,77.4 300.6,71.2" stroke="#8ce0da" stroke-width="2.2"/>
<path d="M270.8,68.3 C279.9,76.4 289.7,77.4 300.6,71.2" stroke="#d2f8f5" stroke-width="0.6" transform="translate(-0.4,-0.4)"/>
<path d="M312.2,88.9 C322.0,84.7 331.0,89.0 339.9,92.1" stroke="#48a8a2" stroke-width="3.3"/>
<path d="M312.2,88.9 C322.0,84.7 331.0,89.0 339.9,92.1" stroke="#8ce0da" stroke-width="2.2"/>
<path d="M312.2,88.9 C322.0,84.7 331.0,89.0 339.9,92.1" stroke="#d2f8f5" stroke-width="0.6" transform="translate(-0.4,-0.4)"/>
<path d="M298.1,62.0 C290.8,56.3 283.4,57.6 275.8,62.0" stroke="#48a8a2" stroke-width="3.3"/>
<path d="M298.1,62.0 C290.8,56.3 283.4,57.6 275.8,62.0" stroke="#8ce0da" stroke-width="2.2"/>
<path d="M298.1,62.0 C290.8,56.3 283.4,57.6 275.8,62.0" stroke="#d2f8f5" stroke-width="0.6" transform="translate(-0.4,-0.4)"/>
<path d="M297.5,83.9 C294.2,68.9 287.2,65.3 273.4,74.3" stroke="#48a8a2" stroke-width="3.3"/>
<path d="M297.5,83.9 C294.2,68.9 287.2,65.3 273.4,74.3" stroke="#8ce0da" stroke-width="2.2"/>
<path d="M297.5,83.9 C294.2,68.9 287.2,65.3 273.4,74.3" stroke="#d2f8f5" stroke-width="0.6" transform="translate(-0.4,-0.4)"/>
<path d="M252.4,82.5 C261.3,79.0 267.5,80.9 269.2,91.3" stroke="#48a8a2" stroke-width="3.3"/>
<path d="M252.4,82.5 C261.3,79.0 267.5,80.9 269.2,91.3" stroke="#8ce0da" stroke-width="2.2"/>
<path d="M252.4,82.5 C261.3,79.0 267.5,80.9 269.2,91.3" stroke="#d2f8f5" stroke-width="0.6" transform="translate(-0.4,-0.4)"/>
<path d="M277.1,87.1 C272.8,79.2 276.6,74.7 283.2,69.7" stroke="#48a8a2" stroke-width="3.3"/>
<path d="M277.1,87.1 C272.8,79.2 276.6,74.7 283.2,69.7" stroke="#8ce0da" stroke-width="2.2"/>
<path d="M277.1,87.1 C272.8,79.2 276.6,74.7 283.2,69.7" stroke="#d2f8f5" stroke-width="0.6" transform="translate(-0.4,-0.4)"/>
<path d="M304.6,74.3 C289.9,73.7 279.7,80.2 273.4,93.7" stroke="#48a8a2" stroke-width="3.3"/>
<path d="M304.6,74.3 C289.9,73.7 279.7,80.2 273.4,93.7" stroke="#8ce0da" stroke-width="2.2"/>
<path d="M304.6,74.3 C289.9,73.7 279.7,80.2 273.4,93.7" stroke="#d2f8f5" stroke-width="0.6" transform="translate(-0.4,-0.4)"/>
<path d="M280.5,70.6 C267.5,63.3 253.7,57.7 239.2,52.4" stroke="#48a8a2" stroke-width="3.3"/>
<path d="M280.5,70.6 C267.5,63.3 253.7,57.7 239.2,52.4" stroke="#8ce0da" stroke-width="2.2"/>
<path d="M280.5,70.6 C267.5,63.3 253.7,57.7 239.2,52.4" stroke="#d2f8f5" stroke-width="0.6" transform="translate(-0.4,-0.4)"/>
<path d="M267.4,87.3 C274.5,89.1 280.8,92.6 287.1,96.5" stroke="#48a8a2" stroke-width="3.3"/>
<path d="M267.4,87.3 C274.5,89.1 280.8,92.6 287.1,96.5" stroke="#8ce0da" stroke-width="2.2"/>
<path d="M267.4,87.3 C274.5,89.1 280.8,92.6 287.1,96.5" stroke="#d2f8f5" stroke-width="0.6" transform="translate(-0.4,-0.4)"/>
<path d="M295.3,50.1 C300.8,62.6 291.7,72.3 285.0,78.1" stroke="#48a8a2" stroke-width="3.3"/>
<path d="M295.3,50.1 C300.8,62.6 291.7,72.3 285.0,78.1" stroke="#8ce0da" stroke-width="2.2"/>
<path d="M295.3,50.1 C300.8,62.6 291.7,72.3 285.0,78.1" stroke="#d2f8f5" stroke-width="0.6" transform="translate(-0.4,-0.4)"/>
<path d="M323.1,84.5 C332.9,86.6 336.2,81.4 340.3,72.6" stroke="#48a8a2" stroke-width="3.3"/>
<path d="M323.1,84.5 C332.9,86.6 336.2,81.4 340.3,72.6" stroke="#8ce0da" stroke-width="2.2"/>
<path d="M323.1,84.5 C332.9,86.6 336.2,81.4 340.3,72.6" stroke="#d2f8f5" stroke-width="0.6" transform="translate(-0.4,-0.4)"/>
<path d="M259.7,56.4 C248.4,58.0 245.1,65.3 250.7,74.1" stroke="#48a8a2" stroke-width="3.3"/>
<path d="M259.7,56.4 C248.4,58.0 245.1,65.3 250.7,74.1" stroke="#8ce0da" stroke-width="2.2"/>
<path d="M259.7,56.4 C248.4,58.0 245.1,65.3 250.7,74.1" stroke="#d2f8f5" stroke-width="0.6" transform="translate(-0.4,-0.4)"/>
<path d="M273.9,86.5 C277.3,96.9 284.4,96.5 292.1,91.9" stroke="#48a8a2" stroke-width="3.3"/>
<path d="M273.9,86.5 C277.3,96.9 284.4,96.5 292.1,91.9" stroke="#8ce0da" stroke-width="2.2"/>
<path d="M273.9,86.5 C277.3,96.9 284.4,96.5 292.1,91.9" stroke="#d2f8f5" stroke-width="0.6" transform="translate(-0.4,-0.4)"/>
<path d="M334.6,62.2 C325.2,53.1 317.4,59.8 311.8,66.2" stroke="#48a8a2" stroke-width="3.3"/>
<path d="M334.6,62.2 C325.2,53.1 317.4,59.8 311.8,66.2" stroke="#8ce0da" stroke-width="2.2"/>
<path d="M334.6,62.2 C325.2,53.1 317.4,59.8 311.8,66.2" stroke="#d2f8f5" stroke-width="0.6" transform="translate(-0.4,-0.4)"/>
<path d="M246.0,98.1 C249.5,79.5 262.1,81.7 275.0,86.1" stroke="#48a8a2" stroke-width="3.3"/>
<path d="M246.0,98.1 C249.5,79.5 262.1,81.7 275.0,86.1" stroke="#8ce0da" stroke-width="2.2"/>
<path d="M246.0,98.1 C249.5,79.5 262.1,81.7 275.0,86.1" stroke="#d2f8f5" stroke-width="0.6" transform="translate(-0.4,-0.4)"/>
<path d="M275.9,94.5 C277.0,78.0 289.2,69.0 302.6,70.8" stroke="#48a8a2" stroke-width="3.3"/>
<path d="M275.9,94.5 C277.0,78.0 289.2,69.0 302.6,70.8" stroke="#8ce0da" stroke-width="2.2"/>
<path d="M275.9,94.5 C277.0,78.0 289.2,69.0 302.6,70.8" stroke="#d2f8f5" stroke-width="0.6" transform="translate(-0.4,-0.4)"/>
<path d="M352.9,71.2 C338.6,87.5 328.1,77.4 319.5,65.2" stroke="#48a8a2" stroke-width="3.3"/>
<path d="M352.9,71.2 C338.6,87.5 328.1,77.4 319.5,65.2" stroke="#8ce0da" stroke-width="2.2"/>
<path d="M352.9,71.2 C338.6,87.5 328.1,77.4 319.5,65.2" stroke="#d2f8f5" stroke-width="0.6" transform="translate(-0.4,-0.4)"/>
<path d="M327.7,79.3 C313.7,69.2 299.3,67.2 284.3,77.7" stroke="#48a8a2" stroke-width="3.3"/>
<path d="M327.7,79.3 C313.7,69.2 299.3,67.2 284.3,77.7" stroke="#8ce0da" stroke-width="2.2"/>
<path d="M327.7,79.3 C313.7,69.2 299.3,67.2 284.3,77.7" stroke="#d2f8f5" stroke-width="0.6" transform="translate(-0.4,-0.4)"/>
<path d="M328.7,49.8 C320.4,48.0 312.3,50.1 304.1,51.5" stroke="#48a8a2" stroke-width="3.3"/>
<path d="M328.7,49.8 C320.4,48.0 312.3,50.1 304.1,51.5" stroke="#8ce0da" stroke-width="2.2"/>
<path d="M328.7,49.8 C320.4,48.0 312.3,50.1 304.1,51.5" stroke="#d2f8f5" stroke-width="0.6" transform="translate(-0.4,-0.4)"/>
<path d="M304.2,100.0 C283.6,108.8 274.8,92.0 264.5,80.6" stroke="#48a8a2" stroke-width="3.3"/>
<path d="M304.2,100.0 C283.6,108.8 274.8,92.0 264.5,80.6" stroke="#8ce0da" stroke-width="2.2"/>
<path d="M304.2,100.0 C283.6,108.8 274.8,92.0 264.5,80.6" stroke="#d2f8f5" stroke-width="0.6" transform="translate(-0.4,-0.4)"/>
<path d="M291.5,70.6 C280.2,65.0 274.3,67.1 267.3,79.9" stroke="#48a8a2" stroke-width="3.3"/>
<path d="M291.5,70.6 C280.2,65.0 274.3,67.1 267.3,79.9" stroke="#8ce0da" stroke-width="2.2"/>
<path d="M291.5,70.6 C280.2,65.0 274.3,67.1 267.3,79.9" stroke="#d2f8f5" stroke-width="0.6" transform="translate(-0.4,-0.4)"/>
<path d="M300.7,82.0 C292.5,71.3 299.0,65.1 307.2,57.8" stroke="#48a8a2" stroke-width="3.3"/>
<path d="M300.7,82.0 C292.5,71.3 299.0,65.1 307.2,57.8" stroke="#8ce0da" stroke-width="2.2"/>
<path d="M300.7,82.0 C292.5,71.3 299.0,65.1 307.2,57.8" stroke="#d2f8f5" stroke-width="0.6" transform="translate(-0.4,-0.4)"/>
<path d="M268.6,90.2 C260.6,86.1 251.9,84.7 243.0,86.1" stroke="#48a8a2" stroke-width="3.3"/>
<path d="M268.6,90.2 C260.6,86.1 251.9,84.7 243.0,86.1" stroke="#8ce0da" stroke-width="2.2"/>
<path d="M268.6,90.2 C260.6,86.1 251.9,84.7 243.0,86.1" stroke="#d2f8f5" stroke-width="0.6" transform="translate(-0.4,-0.4)"/>
<path d="M250.6,51.8 C244.5,70.8 251.3,76.2 271.4,84.4" stroke="#48a8a2" stroke-width="3.3"/>
<path d="M250.6,51.8 C244.5,70.8 251.3,76.2 271.4,84.4" stroke="#8ce0da" stroke-width="2.2"/>
<path d="M250.6,51.8 C244.5,70.8 251.3,76.2 271.4,84.4" stroke="#d2f8f5" stroke-width="0.6" transform="translate(-0.4,-0.4)"/>
<path d="M247.2,72.8 C241.0,66.7 240.2,60.2 246.6,53.6" stroke="#48a8a2" stroke-width="3.3"/>
<path d="M247.2,72.8 C241.0,66.7 240.2,60.2 246.6,53.6" stroke="#8ce0da" stroke-width="2.2"/>
<path d="M247.2,72.8 C241.0,66.7 240.2,60.2 246.6,53.6" stroke="#d2f8f5" stroke-width="0.6" transform="translate(-0.4,-0.4)"/>
<path d="M278.5,56.3 C277.7,69.4 272.8,72.4 260.5,65.6" stroke="#48a8a2" stroke-width="3.3"/>
<path d="M278.5,56.3 C277.7,69.4 272.8,72.4 260.5,65.6" stroke="#8ce0da" stroke-width="2.2"/>
<path d="M278.5,56.3 C277.7,69.4 272.8,72.4 260.5,65.6" stroke="#d2f8f5" stroke-width="0.6" transform="translate(-0.4,-0.4)"/>
<path d="M321.5,49.1 C332.0,60.8 328.7,72.2 320.8,83.7" stroke="#48a8a2" stroke-width="3.3"/>
<path d="M321.5,49.1 C332.0,60.8 328.7,72.2 320.8,83.7" stroke="#8ce0da" stroke-width="2.2"/>
<path d="M321.5,49.1 C332.0,60.8 328.7,72.2 320.8,83.7" stroke="#d2f8f5" stroke-width="0.6" transform="translate(-0.4,-0.4)"/>
<path d="M327.4,47.6 C321.8,53.2 318.0,59.9 313.9,66.9" stroke="#48a8a2" stroke-width="3.3"/>
<path d="M327.4,47.6 C321.8,53.2 318.0,59.9 313.9,66.9" stroke="#8ce0da" stroke-width="2.2"/>
<path d="M327.4,47.6 C321.8,53.2 318.0,59.9 313.9,66.9" stroke="#d2f8f5" stroke-width="0.6" transform="translate(-0.4,-0.4)"/>
<path d="M316.1,63.1 C322.2,70.2 318.0,75.9 313.3,81.4" stroke="#48a8a2" stroke-width="3.3"/>
<path d="M316.1,63.1 C322.2,70.2 318.0,75.9 313.3,81.4" stroke="#8ce0da" stroke-width="2.2"/>
<path d="M316.1,63.1 C322.2,70.2 318.0,75.9 313.3,81.4" stroke="#d2f8f5" stroke-width="0.6" transform="translate(-0.4,-0.4)"/>
<path d="M262.8,62.9 C277.9,71.0 286.5,83.7 289.1,100.8" stroke="#48a8a2" stroke-width="3.3"/>
<path d="M262.8,62.9 C277.9,71.0 286.5,83.7 289.1,100.8" stroke="#8ce0da" stroke-width="2.2"/>
<path d="M262.8,62.9 C277.9,71.0 286.5,83.7 289.1,100.8" stroke="#d2f8f5" stroke-width="0.6" transform="translate(-0.4,-0.4)"/>
<path d="M269.6,65.4 C287.0,64.6 299.6,73.8 308.1,87.6" stroke="#48a8a2" stroke-width="3.3"/>
<path d="M269.6,65.4 C287.0,64.6 299.6,73.8 308.1,87.6" stroke="#8ce0da" stroke-width="2.2"/>
<path d="M269.6,65.4 C287.0,64.6 299.6,73.8 308.1,87.6" stroke="#d2f8f5" stroke-width="0.6" transform="translate(-0.4,-0.4)"/>
<path d="M235.9,66.4 C244.4,72.1 243.6,78.8 237.3,85.5" stroke="#48a8a2" stroke-width="3.3"/>
<path d="M235.9,66.4 C244.4,72.1 243.6,78.8 237.3,85.5" stroke="#8ce0da" stroke-width="2.2"/>
<path d="M235.9,66.4 C244.4,72.1 243.6,78.8 237.3,85.5" stroke="#d2f8f5" stroke-width="0.6" transform="translate(-0.4,-0.4)"/>
<path d="M268.3,69.5 C262.8,62.3 255.1,60.5 247.1,63.5" stroke="#48a8a2" stroke-width="3.3"/>
<path d="M268.3,69.5 C262.8,62.3 255.1,60.5 247.1,63.5" stroke="#8ce0da" stroke-width="2.2"/>
<path d="M268.3,69.5 C262.8,62.3 255.1,60.5 247.1,63.5" stroke="#d2f8f5" stroke-width="0.6" transform="translate(-0.4,-0.4)"/>
<path d="M257.5,55.7 C264.1,69.9 252.0,75.6 243.7,75.9" stroke="#48a8a2" stroke-width="3.3"/>
<path d="M257.5,55.7 C264.1,69.9 252.0,75.6 243.7,75.9" stroke="#8ce0da" stroke-width="2.2"/>
<path d="M257.5,55.7 C264.1,69.9 252.0,75.6 243.7,75.9" stroke="#d2f8f5" stroke-width="0.6" transform="translate(-0.4,-0.4)"/>
</g>
<line x1="225.8" y1="36.2" x2="226.5" y2="103.5" stroke="#c4c4c4" stroke-width="0.6" />
<line x1="357.2" y1="36.5" x2="357.2" y2="105.5" stroke="#c4c4c4" stroke-width="0.6" />
<line x1="289.0" y1="104.0" x2="289.0" y2="126.0" stroke="#c4c4c4" stroke-width="0.6" />
<line x1="226.5" y1="103.5" x2="289.0" y2="126.0" stroke="#c4c4c4" stroke-width="0.6" />
<line x1="289.0" y1="126.0" x2="357.2" y2="105.5" stroke="#c4c4c4" stroke-width="0.6" />
<line x1="225.8" y1="36.2" x2="289.0" y2="45.0" stroke="#c4c4c4" stroke-width="0.6" />
<line x1="289.0" y1="45.0" x2="357.2" y2="36.5" stroke="#c4c4c4" stroke-width="0.6" />
<g fill="#e8141c"><circle cx="313.6" cy="43.7" r="1.2"/><circle cx="353.8" cy="39.7" r="1.2"/><circle cx="324.5" cy="44.6" r="1.2"/><circle cx="271.2" cy="40.8" r="1.2"/><circle cx="324.1" cy="45.0" r="1.2"/><circle cx="343.9" cy="38.6" r="1.2"/><circle cx="320.6" cy="35.3" r="1.2"/><circle cx="298.2" cy="38.5" r="1.2"/><circle cx="245.0" cy="37.1" r="1.2"/><circle cx="286.1" cy="39.6" r="1.2"/><circle cx="279.9" cy="35.3" r="1.2"/><circle cx="295.2" cy="39.7" r="1.2"/><circle cx="263.8" cy="40.0" r="1.2"/><circle cx="274.5" cy="34.7" r="1.2"/><circle cx="287.9" cy="38.7" r="1.2"/><circle cx="261.3" cy="39.1" r="1.2"/><circle cx="327.6" cy="40.6" r="1.2"/><circle cx="327.5" cy="35.1" r="1.2"/><circle cx="293.9" cy="38.1" r="1.2"/><circle cx="245.6" cy="37.2" r="1.2"/><circle cx="243.9" cy="37.6" r="1.2"/><circle cx="315.7" cy="39.6" r="1.2"/><circle cx="285.8" cy="36.5" r="1.2"/><circle cx="236.3" cy="37.1" r="1.2"/><circle cx="346.1" cy="40.7" r="1.2"/><circle cx="277.5" cy="41.1" r="1.2"/><circle cx="266.7" cy="38.4" r="1.2"/><circle cx="318.8" cy="45.3" r="1.2"/><circle cx="290.4" cy="40.8" r="1.2"/><circle cx="350.8" cy="41.6" r="1.2"/><circle cx="320.1" cy="41.4" r="1.2"/><circle cx="296.2" cy="38.8" r="1.2"/><circle cx="279.4" cy="43.1" r="1.2"/><circle cx="344.9" cy="39.6" r="1.2"/><circle cx="347.7" cy="37.9" r="1.2"/><circle cx="258.9" cy="38.3" r="1.2"/><circle cx="283.6" cy="37.8" r="1.2"/><circle cx="353.9" cy="39.2" r="1.2"/><circle cx="267.7" cy="36.1" r="1.2"/><circle cx="325.5" cy="37.1" r="1.2"/><circle cx="228.0" cy="37.6" r="1.2"/><circle cx="294.2" cy="36.3" r="1.2"/><circle cx="305.7" cy="41.9" r="1.2"/><circle cx="311.7" cy="41.5" r="1.2"/><circle cx="313.0" cy="44.0" r="1.2"/><circle cx="353.2" cy="39.8" r="1.2"/><circle cx="288.5" cy="44.7" r="1.2"/><circle cx="284.3" cy="42.2" r="1.2"/><circle cx="327.0" cy="42.0" r="1.2"/><circle cx="352.7" cy="41.7" r="1.2"/><circle cx="262.7" cy="39.5" r="1.2"/><circle cx="305.4" cy="40.8" r="1.2"/><circle cx="291.3" cy="37.0" r="1.2"/><circle cx="332.4" cy="40.4" r="1.2"/><circle cx="274.1" cy="36.4" r="1.2"/><circle cx="285.7" cy="35.5" r="1.2"/><circle cx="307.9" cy="35.2" r="1.2"/><circle cx="245.7" cy="35.8" r="1.2"/><circle cx="253.1" cy="39.3" r="1.2"/><circle cx="255.0" cy="37.8" r="1.2"/><circle cx="334.6" cy="40.0" r="1.2"/><circle cx="263.2" cy="41.7" r="1.2"/><circle cx="344.0" cy="37.5" r="1.2"/><circle cx="276.4" cy="39.2" r="1.2"/><circle cx="337.0" cy="39.3" r="1.2"/><circle cx="329.1" cy="37.6" r="1.2"/><circle cx="329.1" cy="38.3" r="1.2"/><circle cx="286.9" cy="42.9" r="1.2"/><circle cx="341.4" cy="42.5" r="1.2"/><circle cx="313.8" cy="39.0" r="1.2"/><circle cx="328.2" cy="41.3" r="1.2"/><circle cx="340.3" cy="42.4" r="1.2"/><circle cx="257.1" cy="37.3" r="1.2"/><circle cx="324.4" cy="37.0" r="1.2"/><circle cx="266.5" cy="34.1" r="1.2"/><circle cx="315.7" cy="45.3" r="1.2"/><circle cx="353.3" cy="39.1" r="1.2"/><circle cx="326.2" cy="39.2" r="1.2"/><circle cx="320.5" cy="38.8" r="1.2"/><circle cx="349.9" cy="42.7" r="1.2"/><circle cx="242.6" cy="38.4" r="1.2"/><circle cx="256.0" cy="35.0" r="1.2"/><circle cx="280.7" cy="42.0" r="1.2"/><circle cx="355.4" cy="39.3" r="1.2"/><circle cx="286.4" cy="33.6" r="1.2"/><circle cx="311.1" cy="39.8" r="1.2"/><circle cx="291.7" cy="37.3" r="1.2"/><circle cx="337.4" cy="42.9" r="1.2"/><circle cx="280.4" cy="38.1" r="1.2"/><circle cx="319.1" cy="43.1" r="1.2"/><circle cx="354.3" cy="40.1" r="1.2"/><circle cx="326.9" cy="40.5" r="1.2"/><circle cx="337.4" cy="37.4" r="1.2"/><circle cx="265.1" cy="35.0" r="1.2"/><circle cx="349.9" cy="39.2" r="1.2"/><circle cx="305.1" cy="35.1" r="1.2"/><circle cx="285.6" cy="33.6" r="1.2"/><circle cx="313.6" cy="35.7" r="1.2"/><circle cx="319.9" cy="37.4" r="1.2"/><circle cx="272.8" cy="38.8" r="1.2"/><circle cx="290.8" cy="36.6" r="1.2"/><circle cx="243.1" cy="36.0" r="1.2"/><circle cx="346.1" cy="39.3" r="1.2"/><circle cx="248.7" cy="36.2" r="1.2"/><circle cx="304.6" cy="46.5" r="1.2"/><circle cx="269.1" cy="42.4" r="1.2"/><circle cx="304.6" cy="38.9" r="1.2"/><circle cx="338.0" cy="39.4" r="1.2"/><circle cx="244.5" cy="37.8" r="1.2"/><circle cx="323.1" cy="41.4" r="1.2"/><circle cx="279.5" cy="44.3" r="1.2"/><circle cx="343.5" cy="43.4" r="1.2"/><circle cx="300.0" cy="44.5" r="1.2"/><circle cx="330.0" cy="36.9" r="1.2"/><circle cx="237.2" cy="36.6" r="1.2"/><circle cx="256.0" cy="35.2" r="1.2"/><circle cx="290.0" cy="43.1" r="1.2"/><circle cx="283.8" cy="39.7" r="1.2"/><circle cx="232.3" cy="36.9" r="1.2"/><circle cx="352.3" cy="38.5" r="1.2"/><circle cx="309.4" cy="43.9" r="1.2"/><circle cx="336.6" cy="42.1" r="1.2"/><circle cx="294.8" cy="44.2" r="1.2"/><circle cx="340.0" cy="42.2" r="1.2"/><circle cx="354.7" cy="39.1" r="1.2"/><circle cx="351.5" cy="40.0" r="1.2"/><circle cx="328.0" cy="37.5" r="1.2"/><circle cx="347.7" cy="37.9" r="1.2"/><circle cx="314.8" cy="36.7" r="1.2"/><circle cx="293.5" cy="38.1" r="1.2"/><circle cx="323.1" cy="43.5" r="1.2"/><circle cx="290.7" cy="41.6" r="1.2"/><circle cx="289.4" cy="36.8" r="1.2"/><circle cx="347.3" cy="39.4" r="1.2"/><circle cx="251.7" cy="37.0" r="1.2"/><circle cx="331.6" cy="37.4" r="1.2"/><circle cx="331.8" cy="40.5" r="1.2"/><circle cx="325.5" cy="36.5" r="1.2"/><circle cx="253.8" cy="35.8" r="1.2"/><circle cx="288.9" cy="38.8" r="1.2"/><circle cx="231.9" cy="37.5" r="1.2"/><circle cx="295.3" cy="37.5" r="1.2"/><circle cx="310.5" cy="45.6" r="1.2"/><circle cx="269.5" cy="42.6" r="1.2"/><circle cx="285.2" cy="42.7" r="1.2"/><circle cx="254.2" cy="41.2" r="1.2"/><circle cx="298.5" cy="46.3" r="1.2"/><circle cx="271.6" cy="38.0" r="1.2"/><circle cx="328.1" cy="36.8" r="1.2"/><circle cx="279.0" cy="41.3" r="1.2"/><circle cx="351.2" cy="39.7" r="1.2"/><circle cx="266.4" cy="37.3" r="1.2"/><circle cx="355.0" cy="39.3" r="1.2"/><circle cx="320.8" cy="38.6" r="1.2"/><circle cx="321.8" cy="36.7" r="1.2"/><circle cx="318.9" cy="44.5" r="1.2"/><circle cx="342.7" cy="41.1" r="1.2"/><circle cx="306.9" cy="40.9" r="1.2"/><circle cx="255.2" cy="40.4" r="1.2"/><circle cx="326.5" cy="39.5" r="1.2"/><circle cx="324.0" cy="39.1" r="1.2"/><circle cx="293.1" cy="36.2" r="1.2"/><circle cx="317.3" cy="40.9" r="1.2"/><circle cx="308.1" cy="34.1" r="1.2"/><circle cx="320.1" cy="39.4" r="1.2"/><circle cx="316.5" cy="41.1" r="1.2"/><circle cx="349.8" cy="38.8" r="1.2"/><circle cx="302.9" cy="46.5" r="1.2"/><circle cx="331.3" cy="38.3" r="1.2"/><circle cx="331.2" cy="44.7" r="1.2"/><circle cx="295.2" cy="45.1" r="1.2"/><circle cx="257.4" cy="41.8" r="1.2"/><circle cx="305.4" cy="36.6" r="1.2"/><circle cx="341.2" cy="41.3" r="1.2"/><circle cx="350.3" cy="41.9" r="1.2"/><circle cx="337.1" cy="40.3" r="1.2"/><circle cx="355.4" cy="39.1" r="1.2"/><circle cx="344.0" cy="41.6" r="1.2"/><circle cx="276.0" cy="42.5" r="1.2"/><circle cx="301.2" cy="40.5" r="1.2"/><circle cx="343.6" cy="38.4" r="1.2"/><circle cx="279.9" cy="41.0" r="1.2"/><circle cx="247.8" cy="38.0" r="1.2"/><circle cx="336.1" cy="40.1" r="1.2"/><circle cx="274.8" cy="42.3" r="1.2"/><circle cx="342.6" cy="42.1" r="1.2"/><circle cx="311.8" cy="45.0" r="1.2"/><circle cx="337.0" cy="37.4" r="1.2"/><circle cx="290.8" cy="34.5" r="1.2"/><circle cx="239.8" cy="37.1" r="1.2"/><circle cx="343.5" cy="42.4" r="1.2"/><circle cx="255.8" cy="36.0" r="1.2"/><circle cx="293.6" cy="44.7" r="1.2"/><circle cx="319.0" cy="44.7" r="1.2"/><circle cx="247.4" cy="40.0" r="1.2"/><circle cx="269.8" cy="40.1" r="1.2"/><circle cx="344.6" cy="41.7" r="1.2"/><circle cx="268.4" cy="40.4" r="1.2"/><circle cx="298.5" cy="33.4" r="1.2"/><circle cx="287.6" cy="37.3" r="1.2"/><circle cx="320.3" cy="37.5" r="1.2"/><circle cx="317.5" cy="42.3" r="1.2"/><circle cx="265.9" cy="35.2" r="1.2"/><circle cx="326.9" cy="39.7" r="1.2"/><circle cx="257.8" cy="35.4" r="1.2"/><circle cx="350.6" cy="40.9" r="1.2"/><circle cx="289.8" cy="35.8" r="1.2"/><circle cx="355.5" cy="41.1" r="1.2"/><circle cx="331.1" cy="38.8" r="1.2"/><circle cx="283.9" cy="38.4" r="1.2"/><circle cx="260.6" cy="39.4" r="1.2"/><circle cx="297.8" cy="44.4" r="1.2"/><circle cx="296.0" cy="39.4" r="1.2"/><circle cx="307.1" cy="45.6" r="1.2"/><circle cx="288.4" cy="42.3" r="1.2"/><circle cx="273.8" cy="39.9" r="1.2"/><circle cx="280.6" cy="43.7" r="1.2"/><circle cx="280.8" cy="43.5" r="1.2"/><circle cx="325.1" cy="39.5" r="1.2"/><circle cx="350.0" cy="39.9" r="1.2"/><circle cx="331.8" cy="41.1" r="1.2"/><circle cx="300.6" cy="34.1" r="1.2"/><circle cx="297.2" cy="37.0" r="1.2"/><circle cx="299.7" cy="46.1" r="1.2"/><circle cx="281.6" cy="41.7" r="1.2"/><circle cx="324.7" cy="37.2" r="1.2"/><circle cx="296.3" cy="34.9" r="1.2"/><circle cx="346.4" cy="38.9" r="1.2"/><circle cx="297.4" cy="37.8" r="1.2"/><circle cx="339.3" cy="42.8" r="1.2"/><circle cx="316.2" cy="40.5" r="1.2"/><circle cx="252.6" cy="40.4" r="1.2"/><circle cx="250.6" cy="37.1" r="1.2"/><circle cx="291.9" cy="42.9" r="1.2"/><circle cx="324.4" cy="38.3" r="1.2"/></g>
</g>
<g transform="translate(0,125.6)">
<line x1="225.8" y1="36.2" x2="293.2" y2="29.5" stroke="#c4c4c4" stroke-width="0.6" />
<line x1="293.2" y1="29.5" x2="357.2" y2="36.5" stroke="#c4c4c4" stroke-width="0.6" />
<line x1="293.2" y1="29.5" x2="293.2" y2="88.0" stroke="#c4c4c4" stroke-width="0.6" />
<line x1="226.5" y1="103.5" x2="293.2" y2="88.0" stroke="#c4c4c4" stroke-width="0.6" />
<line x1="293.2" y1="88.0" x2="357.2" y2="105.5" stroke="#c4c4c4" stroke-width="0.6" />
<path d="M231,62 C232,52 250,47 270,51 C290,48 320,48 345,53 C352,57 352,72 350,88 C340,95 320,96 300,101 C290,106 275,106 262,101 C245,99 233,94 231,84 Z" fill="#8adcd6" opacity="0.22"/>
<g fill="none" stroke-linecap="round">
<path d="M288.8,94.0 C273.8,94.2 274.2,84.9 277.6,74.8" stroke="#48a8a2" stroke-width="3.3"/>
<path d="M288.8,94.0 C273.8,94.2 274.2,84.9 277.6,74.8" stroke="#8ce0da" stroke-width="2.2"/>
<path d="M288.8,94.0 C273.8,94.2 274.2,84.9 277.6,74.8" stroke="#d2f8f5" stroke-width="0.6" transform="translate(-0.4,-0.4)"/>
<path d="M331.1,97.5 C325.9,85.3 314.4,80.1 303.2,76.8" stroke="#48a8a2" stroke-width="3.3"/>
<path d="M331.1,97.5 C325.9,85.3 314.4,80.1 303.2,76.8" stroke="#8ce0da" stroke-width="2.2"/>
<path d="M331.1,97.5 C325.9,85.3 314.4,80.1 303.2,76.8" stroke="#d2f8f5" stroke-width="0.6" transform="translate(-0.4,-0.4)"/>
<path d="M271.5,67.5 C266.6,57.0 269.0,53.2 281.6,52.0" stroke="#48a8a2" stroke-width="3.3"/>
<path d="M271.5,67.5 C266.6,57.0 269.0,53.2 281.6,52.0" stroke="#8ce0da" stroke-width="2.2"/>
<path d="M271.5,67.5 C266.6,57.0 269.0,53.2 281.6,52.0" stroke="#d2f8f5" stroke-width="0.6" transform="translate(-0.4,-0.4)"/>
<path d="M331.8,67.1 C321.9,73.7 311.4,78.9 300.5,84.6" stroke="#48a8a2" stroke-width="3.3"/>
<path d="M331.8,67.1 C321.9,73.7 311.4,78.9 300.5,84.6" stroke="#8ce0da" stroke-width="2.2"/>
<path d="M331.8,67.1 C321.9,73.7 311.4,78.9 300.5,84.6" stroke="#d2f8f5" stroke-width="0.6" transform="translate(-0.4,-0.4)"/>
<path d="M251.4,98.1 C261.0,95.3 269.3,100.4 277.0,104.1" stroke="#48a8a2" stroke-width="3.3"/>
<path d="M251.4,98.1 C261.0,95.3 269.3,100.4 277.0,104.1" stroke="#8ce0da" stroke-width="2.2"/>
<path d="M251.4,98.1 C261.0,95.3 269.3,100.4 277.0,104.1" stroke="#d2f8f5" stroke-width="0.6" transform="translate(-0.4,-0.4)"/>
<path d="M264.5,75.0 C279.4,89.4 287.3,88.9 295.9,66.7" stroke="#48a8a2" stroke-width="3.3"/>
<path d="M264.5,75.0 C279.4,89.4 287.3,88.9 295.9,66.7" stroke="#8ce0da" stroke-width="2.2"/>
<path d="M264.5,75.0 C279.4,89.4 287.3,88.9 295.9,66.7" stroke="#d2f8f5" stroke-width="0.6" transform="translate(-0.4,-0.4)"/>
<path d="M326.1,60.9 C336.5,66.4 335.4,72.3 327.1,79.1" stroke="#48a8a2" stroke-width="3.3"/>
<path d="M326.1,60.9 C336.5,66.4 335.4,72.3 327.1,79.1" stroke="#8ce0da" stroke-width="2.2"/>
<path d="M326.1,60.9 C336.5,66.4 335.4,72.3 327.1,79.1" stroke="#d2f8f5" stroke-width="0.6" transform="translate(-0.4,-0.4)"/>
<path d="M295.4,75.1 C299.4,59.3 294.5,58.6 277.4,56.6" stroke="#48a8a2" stroke-width="3.3"/>
<path d="M295.4,75.1 C299.4,59.3 294.5,58.6 277.4,56.6" stroke="#8ce0da" stroke-width="2.2"/>
<path d="M295.4,75.1 C299.4,59.3 294.5,58.6 277.4,56.6" stroke="#d2f8f5" stroke-width="0.6" transform="translate(-0.4,-0.4)"/>
<path d="M293.9,98.1 C285.6,92.1 286.2,84.2 287.1,74.6" stroke="#48a8a2" stroke-width="3.3"/>
<path d="M293.9,98.1 C285.6,92.1 286.2,84.2 287.1,74.6" stroke="#8ce0da" stroke-width="2.2"/>
<path d="M293.9,98.1 C285.6,92.1 286.2,84.2 287.1,74.6" stroke="#d2f8f5" stroke-width="0.6" transform="translate(-0.4,-0.4)"/>
<path d="M317.3,66.4 C323.9,76.2 323.7,86.2 318.1,96.6" stroke="#48a8a2" stroke-width="3.3"/>
<path d="M317.3,66.4 C323.9,76.2 323.7,86.2 318.1,96.6" stroke="#8ce0da" stroke-width="2.2"/>
<path d="M317.3,66.4 C323.9,76.2 323.7,86.2 318.1,96.6" stroke="#d2f8f5" stroke-width="0.6" transform="translate(-0.4,-0.4)"/>
<path d="M272.0,50.0 C289.0,76.3 272.8,84.1 250.3,91.0" stroke="#48a8a2" stroke-width="3.3"/>
<path d="M272.0,50.0 C289.0,76.3 272.8,84.1 250.3,91.0" stroke="#8ce0da" stroke-width="2.2"/>
<path d="M272.0,50.0 C289.0,76.3 272.8,84.1 250.3,91.0" stroke="#d2f8f5" stroke-width="0.6" transform="translate(-0.4,-0.4)"/>
<path d="M257.7,81.5 C264.6,72.1 264.6,62.3 259.8,51.7" stroke="#48a8a2" stroke-width="3.3"/>
<path d="M257.7,81.5 C264.6,72.1 264.6,62.3 259.8,51.7" stroke="#8ce0da" stroke-width="2.2"/>
<path d="M257.7,81.5 C264.6,72.1 264.6,62.3 259.8,51.7" stroke="#d2f8f5" stroke-width="0.6" transform="translate(-0.4,-0.4)"/>
<path d="M269.6,77.5 C273.0,92.0 262.7,97.3 252.1,98.4" stroke="#48a8a2" stroke-width="3.3"/>
<path d="M269.6,77.5 C273.0,92.0 262.7,97.3 252.1,98.4" stroke="#8ce0da" stroke-width="2.2"/>
<path d="M269.6,77.5 C273.0,92.0 262.7,97.3 252.1,98.4" stroke="#d2f8f5" stroke-width="0.6" transform="translate(-0.4,-0.4)"/>
<path d="M335.2,88.9 C341.5,80.0 341.7,69.9 341.7,59.2" stroke="#48a8a2" stroke-width="3.3"/>
<path d="M335.2,88.9 C341.5,80.0 341.7,69.9 341.7,59.2" stroke="#8ce0da" stroke-width="2.2"/>
<path d="M335.2,88.9 C341.5,80.0 341.7,69.9 341.7,59.2" stroke="#d2f8f5" stroke-width="0.6" transform="translate(-0.4,-0.4)"/>
<path d="M276.8,65.4 C275.5,87.1 259.1,89.0 242.8,90.3" stroke="#48a8a2" stroke-width="3.3"/>
<path d="M276.8,65.4 C275.5,87.1 259.1,89.0 242.8,90.3" stroke="#8ce0da" stroke-width="2.2"/>
<path d="M276.8,65.4 C275.5,87.1 259.1,89.0 242.8,90.3" stroke="#d2f8f5" stroke-width="0.6" transform="translate(-0.4,-0.4)"/>
<path d="M232.1,57.4 C240.5,48.7 248.0,53.3 255.2,59.3" stroke="#48a8a2" stroke-width="3.3"/>
<path d="M232.1,57.4 C240.5,48.7 248.0,53.3 255.2,59.3" stroke="#8ce0da" stroke-width="2.2"/>
<path d="M232.1,57.4 C240.5,48.7 248.0,53.3 255.2,59.3" stroke="#d2f8f5" stroke-width="0.6" transform="translate(-0.4,-0.4)"/>
<path d="M315.3,81.3 C302.8,79.0 292.1,84.0 283.2,92.1" stroke="#48a8a2" stroke-width="3.3"/>
<path d="M315.3,81.3 C302.8,79.0 292.1,84.0 283.2,92.1" stroke="#8ce0da" stroke-width="2.2"/>
<path d="M315.3,81.3 C302.8,79.0 292.1,84.0 283.2,92.1" stroke="#d2f8f5" stroke-width="0.6" transform="translate(-0.4,-0.4)"/>
<path d="M309.1,74.1 C300.3,68.8 294.3,61.4 289.3,51.9" stroke="#48a8a2" stroke-width="3.3"/>
<path d="M309.1,74.1 C300.3,68.8 294.3,61.4 289.3,51.9" stroke="#8ce0da" stroke-width="2.2"/>
<path d="M309.1,74.1 C300.3,68.8 294.3,61.4 289.3,51.9" stroke="#d2f8f5" stroke-width="0.6" transform="translate(-0.4,-0.4)"/>
<path d="M315.0,69.8 C298.9,67.3 288.6,79.3 284.9,90.0" stroke="#48a8a2" stroke-width="3.3"/>
<path d="M315.0,69.8 C298.9,67.3 288.6,79.3 284.9,90.0" stroke="#8ce0da" stroke-width="2.2"/>
<path d="M315.0,69.8 C298.9,67.3 288.6,79.3 284.9,90.0" stroke="#d2f8f5" stroke-width="0.6" transform="translate(-0.4,-0.4)"/>
<path d="M324.4,69.5 C313.3,75.3 306.0,71.6 297.9,62.1" stroke="#48a8a2" stroke-width="3.3"/>
<path d="M324.4,69.5 C313.3,75.3 306.0,71.6 297.9,62.1" stroke="#8ce0da" stroke-width="2.2"/>
<path d="M324.4,69.5 C313.3,75.3 306.0,71.6 297.9,62.1" stroke="#d2f8f5" stroke-width="0.6" transform="translate(-0.4,-0.4)"/>
<path d="M324.4,60.7 C296.3,51.5 290.3,71.3 292.1,90.4" stroke="#48a8a2" stroke-width="3.3"/>
<path d="M324.4,60.7 C296.3,51.5 290.3,71.3 292.1,90.4" stroke="#8ce0da" stroke-width="2.2"/>
<path d="M324.4,60.7 C296.3,51.5 290.3,71.3 292.1,90.4" stroke="#d2f8f5" stroke-width="0.6" transform="translate(-0.4,-0.4)"/>
<path d="M307.7,81.3 C305.0,89.8 299.3,94.7 291.6,100.3" stroke="#48a8a2" stroke-width="3.3"/>
<path d="M307.7,81.3 C305.0,89.8 299.3,94.7 291.6,100.3" stroke="#8ce0da" stroke-width="2.2"/>
<path d="M307.7,81.3 C305.0,89.8 299.3,94.7 291.6,100.3" stroke="#d2f8f5" stroke-width="0.6" transform="translate(-0.4,-0.4)"/>
<path d="M322.9,51.5 C313.9,49.7 308.2,55.9 304.5,61.8" stroke="#48a8a2" stroke-width="3.3"/>
<path d="M322.9,51.5 C313.9,49.7 308.2,55.9 304.5,61.8" stroke="#8ce0da" stroke-width="2.2"/>
<path d="M322.9,51.5 C313.9,49.7 308.2,55.9 304.5,61.8" stroke="#d2f8f5" stroke-width="0.6" transform="translate(-0.4,-0.4)"/>
<path d="M298.1,87.6 C286.4,89.0 279.0,85.6 272.1,73.9" stroke="#48a8a2" stroke-width="3.3"/>
<path d="M298.1,87.6 C286.4,89.0 279.0,85.6 272.1,73.9" stroke="#8ce0da" stroke-width="2.2"/>
<path d="M298.1,87.6 C286.4,89.0 279.0,85.6 272.1,73.9" stroke="#d2f8f5" stroke-width="0.6" transform="translate(-0.4,-0.4)"/>
<path d="M270.6,77.8 C263.9,82.4 256.1,83.2 248.2,83.5" stroke="#48a8a2" stroke-width="3.3"/>
<path d="M270.6,77.8 C263.9,82.4 256.1,83.2 248.2,83.5" stroke="#8ce0da" stroke-width="2.2"/>
<path d="M270.6,77.8 C263.9,82.4 256.1,83.2 248.2,83.5" stroke="#d2f8f5" stroke-width="0.6" transform="translate(-0.4,-0.4)"/>
<path d="M275.3,61.7 C281.4,53.4 289.8,51.7 300.1,51.5" stroke="#48a8a2" stroke-width="3.3"/>
<path d="M275.3,61.7 C281.4,53.4 289.8,51.7 300.1,51.5" stroke="#8ce0da" stroke-width="2.2"/>
<path d="M275.3,61.7 C281.4,53.4 289.8,51.7 300.1,51.5" stroke="#d2f8f5" stroke-width="0.6" transform="translate(-0.4,-0.4)"/>
<path d="M253.7,92.0 C245.4,83.6 237.6,74.5 230.5,64.9" stroke="#48a8a2" stroke-width="3.3"/>
<path d="M253.7,92.0 C245.4,83.6 237.6,74.5 230.5,64.9" stroke="#8ce0da" stroke-width="2.2"/>
<path d="M253.7,92.0 C245.4,83.6 237.6,74.5 230.5,64.9" stroke="#d2f8f5" stroke-width="0.6" transform="translate(-0.4,-0.4)"/>
<path d="M347.1,66.1 C336.2,60.9 327.0,66.5 319.0,72.3" stroke="#48a8a2" stroke-width="3.3"/>
<path d="M347.1,66.1 C336.2,60.9 327.0,66.5 319.0,72.3" stroke="#8ce0da" stroke-width="2.2"/>
<path d="M347.1,66.1 C336.2,60.9 327.0,66.5 319.0,72.3" stroke="#d2f8f5" stroke-width="0.6" transform="translate(-0.4,-0.4)"/>
<path d="M295.3,101.3 C282.8,95.9 270.3,97.8 257.4,100.9" stroke="#48a8a2" stroke-width="3.3"/>
<path d="M295.3,101.3 C282.8,95.9 270.3,97.8 257.4,100.9" stroke="#8ce0da" stroke-width="2.2"/>
<path d="M295.3,101.3 C282.8,95.9 270.3,97.8 257.4,100.9" stroke="#d2f8f5" stroke-width="0.6" transform="translate(-0.4,-0.4)"/>
<path d="M334.4,69.2 C333.5,78.1 328.6,85.2 324.3,92.9" stroke="#48a8a2" stroke-width="3.3"/>
<path d="M334.4,69.2 C333.5,78.1 328.6,85.2 324.3,92.9" stroke="#8ce0da" stroke-width="2.2"/>
<path d="M334.4,69.2 C333.5,78.1 328.6,85.2 324.3,92.9" stroke="#d2f8f5" stroke-width="0.6" transform="translate(-0.4,-0.4)"/>
<path d="M243.7,57.3 C240.4,68.0 246.9,72.7 255.5,75.4" stroke="#48a8a2" stroke-width="3.3"/>
<path d="M243.7,57.3 C240.4,68.0 246.9,72.7 255.5,75.4" stroke="#8ce0da" stroke-width="2.2"/>
<path d="M243.7,57.3 C240.4,68.0 246.9,72.7 255.5,75.4" stroke="#d2f8f5" stroke-width="0.6" transform="translate(-0.4,-0.4)"/>
<path d="M261.9,81.0 C269.3,79.6 274.3,75.9 279.5,69.3" stroke="#48a8a2" stroke-width="3.3"/>
<path d="M261.9,81.0 C269.3,79.6 274.3,75.9 279.5,69.3" stroke="#8ce0da" stroke-width="2.2"/>
<path d="M261.9,81.0 C269.3,79.6 274.3,75.9 279.5,69.3" stroke="#d2f8f5" stroke-width="0.6" transform="translate(-0.4,-0.4)"/>
<path d="M291.3,62.7 C279.8,58.4 275.8,63.9 274.8,74.7" stroke="#48a8a2" stroke-width="3.3"/>
<path d="M291.3,62.7 C279.8,58.4 275.8,63.9 274.8,74.7" stroke="#8ce0da" stroke-width="2.2"/>
<path d="M291.3,62.7 C279.8,58.4 275.8,63.9 274.8,74.7" stroke="#d2f8f5" stroke-width="0.6" transform="translate(-0.4,-0.4)"/>
<path d="M298.3,82.1 C315.3,82.3 313.0,74.5 315.0,58.2" stroke="#48a8a2" stroke-width="3.3"/>
<path d="M298.3,82.1 C315.3,82.3 313.0,74.5 315.0,58.2" stroke="#8ce0da" stroke-width="2.2"/>
<path d="M298.3,82.1 C315.3,82.3 313.0,74.5 315.0,58.2" stroke="#d2f8f5" stroke-width="0.6" transform="translate(-0.4,-0.4)"/>
<path d="M295.5,90.4 C303.4,87.1 311.5,86.7 320.0,88.9" stroke="#48a8a2" stroke-width="3.3"/>
<path d="M295.5,90.4 C303.4,87.1 311.5,86.7 320.0,88.9" stroke="#8ce0da" stroke-width="2.2"/>
<path d="M295.5,90.4 C303.4,87.1 311.5,86.7 320.0,88.9" stroke="#d2f8f5" stroke-width="0.6" transform="translate(-0.4,-0.4)"/>
<path d="M310.9,63.1 C318.4,71.8 310.9,78.8 306.2,83.1" stroke="#48a8a2" stroke-width="3.3"/>
<path d="M310.9,63.1 C318.4,71.8 310.9,78.8 306.2,83.1" stroke="#8ce0da" stroke-width="2.2"/>
<path d="M310.9,63.1 C318.4,71.8 310.9,78.8 306.2,83.1" stroke="#d2f8f5" stroke-width="0.6" transform="translate(-0.4,-0.4)"/>
<path d="M290.7,68.6 C284.0,78.1 279.1,88.2 274.8,99.7" stroke="#48a8a2" stroke-width="3.3"/>
<path d="M290.7,68.6 C284.0,78.1 279.1,88.2 274.8,99.7" stroke="#8ce0da" stroke-width="2.2"/>
<path d="M290.7,68.6 C284.0,78.1 279.1,88.2 274.8,99.7" stroke="#d2f8f5" stroke-width="0.6" transform="translate(-0.4,-0.4)"/>
<path d="M312.2,75.4 C326.7,79.5 321.5,88.3 319.2,99.0" stroke="#48a8a2" stroke-width="3.3"/>
<path d="M312.2,75.4 C326.7,79.5 321.5,88.3 319.2,99.0" stroke="#8ce0da" stroke-width="2.2"/>
<path d="M312.2,75.4 C326.7,79.5 321.5,88.3 319.2,99.0" stroke="#d2f8f5" stroke-width="0.6" transform="translate(-0.4,-0.4)"/>
<path d="M335.6,96.2 C328.7,92.8 322.4,88.3 316.1,83.8" stroke="#48a8a2" stroke-width="3.3"/>
<path d="M335.6,96.2 C328.7,92.8 322.4,88.3 316.1,83.8" stroke="#8ce0da" stroke-width="2.2"/>
<path d="M335.6,96.2 C328.7,92.8 322.4,88.3 316.1,83.8" stroke="#d2f8f5" stroke-width="0.6" transform="translate(-0.4,-0.4)"/>
<path d="M254.4,68.2 C266.6,75.6 273.4,86.7 270.9,101.0" stroke="#48a8a2" stroke-width="3.3"/>
<path d="M254.4,68.2 C266.6,75.6 273.4,86.7 270.9,101.0" stroke="#8ce0da" stroke-width="2.2"/>
<path d="M254.4,68.2 C266.6,75.6 273.4,86.7 270.9,101.0" stroke="#d2f8f5" stroke-width="0.6" transform="translate(-0.4,-0.4)"/>
<path d="M294.1,70.6 C279.5,65.2 272.4,71.4 275.4,85.7" stroke="#48a8a2" stroke-width="3.3"/>
<path d="M294.1,70.6 C279.5,65.2 272.4,71.4 275.4,85.7" stroke="#8ce0da" stroke-width="2.2"/>
<path d="M294.1,70.6 C279.5,65.2 272.4,71.4 275.4,85.7" stroke="#d2f8f5" stroke-width="0.6" transform="translate(-0.4,-0.4)"/>
<path d="M321.0,75.9 C319.6,62.4 324.4,59.0 338.6,61.3" stroke="#48a8a2" stroke-width="3.3"/>
<path d="M321.0,75.9 C319.6,62.4 324.4,59.0 338.6,61.3" stroke="#8ce0da" stroke-width="2.2"/>
<path d="M321.0,75.9 C319.6,62.4 324.4,59.0 338.6,61.3" stroke="#d2f8f5" stroke-width="0.6" transform="translate(-0.4,-0.4)"/>
<path d="M254.2,70.7 C249.9,56.8 253.8,56.4 269.5,52.8" stroke="#48a8a2" stroke-width="3.3"/>
<path d="M254.2,70.7 C249.9,56.8 253.8,56.4 269.5,52.8" stroke="#8ce0da" stroke-width="2.2"/>
<path d="M254.2,70.7 C249.9,56.8 253.8,56.4 269.5,52.8" stroke="#d2f8f5" stroke-width="0.6" transform="translate(-0.4,-0.4)"/>
<path d="M285.1,97.2 C275.0,83.4 278.7,69.3 283.7,54.4" stroke="#48a8a2" stroke-width="3.3"/>
<path d="M285.1,97.2 C275.0,83.4 278.7,69.3 283.7,54.4" stroke="#8ce0da" stroke-width="2.2"/>
<path d="M285.1,97.2 C275.0,83.4 278.7,69.3 283.7,54.4" stroke="#d2f8f5" stroke-width="0.6" transform="translate(-0.4,-0.4)"/>
<path d="M282.4,53.0 C285.0,66.2 292.0,70.8 302.9,61.0" stroke="#48a8a2" stroke-width="3.3"/>
<path d="M282.4,53.0 C285.0,66.2 292.0,70.8 302.9,61.0" stroke="#8ce0da" stroke-width="2.2"/>
<path d="M282.4,53.0 C285.0,66.2 292.0,70.8 302.9,61.0" stroke="#d2f8f5" stroke-width="0.6" transform="translate(-0.4,-0.4)"/>
<path d="M323.6,62.0 C317.5,71.4 310.0,69.8 301.7,65.0" stroke="#48a8a2" stroke-width="3.3"/>
<path d="M323.6,62.0 C317.5,71.4 310.0,69.8 301.7,65.0" stroke="#8ce0da" stroke-width="2.2"/>
<path d="M323.6,62.0 C317.5,71.4 310.0,69.8 301.7,65.0" stroke="#d2f8f5" stroke-width="0.6" transform="translate(-0.4,-0.4)"/>
<path d="M236.8,74.7 C245.3,91.1 258.1,97.2 274.8,87.4" stroke="#48a8a2" stroke-width="3.3"/>
<path d="M236.8,74.7 C245.3,91.1 258.1,97.2 274.8,87.4" stroke="#8ce0da" stroke-width="2.2"/>
<path d="M236.8,74.7 C245.3,91.1 258.1,97.2 274.8,87.4" stroke="#d2f8f5" stroke-width="0.6" transform="translate(-0.4,-0.4)"/>
<path d="M249.9,69.3 C239.7,65.2 236.9,67.2 232.5,79.6" stroke="#48a8a2" stroke-width="3.3"/>
<path d="M249.9,69.3 C239.7,65.2 236.9,67.2 232.5,79.6" stroke="#8ce0da" stroke-width="2.2"/>
<path d="M249.9,69.3 C239.7,65.2 236.9,67.2 232.5,79.6" stroke="#d2f8f5" stroke-width="0.6" transform="translate(-0.4,-0.4)"/>
<path d="M302.1,93.1 C287.3,90.6 273.1,93.6 258.8,98.0" stroke="#48a8a2" stroke-width="3.3"/>
<path d="M302.1,93.1 C287.3,90.6 273.1,93.6 258.8,98.0" stroke="#8ce0da" stroke-width="2.2"/>
<path d="M302.1,93.1 C287.3,90.6 273.1,93.6 258.8,98.0" stroke="#d2f8f5" stroke-width="0.6" transform="translate(-0.4,-0.4)"/>
<path d="M308.2,86.6 C317.7,73.8 330.5,72.6 346.5,71.5" stroke="#48a8a2" stroke-width="3.3"/>
<path d="M308.2,86.6 C317.7,73.8 330.5,72.6 346.5,71.5" stroke="#8ce0da" stroke-width="2.2"/>
<path d="M308.2,86.6 C317.7,73.8 330.5,72.6 346.5,71.5" stroke="#d2f8f5" stroke-width="0.6" transform="translate(-0.4,-0.4)"/>
<path d="M289.7,80.2 C280.2,74.9 283.8,68.1 286.8,60.3" stroke="#48a8a2" stroke-width="3.3"/>
<path d="M289.7,80.2 C280.2,74.9 283.8,68.1 286.8,60.3" stroke="#8ce0da" stroke-width="2.2"/>
<path d="M289.7,80.2 C280.2,74.9 283.8,68.1 286.8,60.3" stroke="#d2f8f5" stroke-width="0.6" transform="translate(-0.4,-0.4)"/>
<path d="M250.5,83.8 C251.0,69.3 259.7,64.9 273.2,62.9" stroke="#48a8a2" stroke-width="3.3"/>
<path d="M250.5,83.8 C251.0,69.3 259.7,64.9 273.2,62.9" stroke="#8ce0da" stroke-width="2.2"/>
<path d="M250.5,83.8 C251.0,69.3 259.7,64.9 273.2,62.9" stroke="#d2f8f5" stroke-width="0.6" transform="translate(-0.4,-0.4)"/>
<path d="M315.0,61.2 C326.5,67.4 337.4,67.7 347.8,58.2" stroke="#48a8a2" stroke-width="3.3"/>
<path d="M315.0,61.2 C326.5,67.4 337.4,67.7 347.8,58.2" stroke="#8ce0da" stroke-width="2.2"/>
<path d="M315.0,61.2 C326.5,67.4 337.4,67.7 347.8,58.2" stroke="#d2f8f5" stroke-width="0.6" transform="translate(-0.4,-0.4)"/>
<path d="M309.5,99.0 C318.3,91.8 325.1,82.8 332.3,73.7" stroke="#48a8a2" stroke-width="3.3"/>
<path d="M309.5,99.0 C318.3,91.8 325.1,82.8 332.3,73.7" stroke="#8ce0da" stroke-width="2.2"/>
<path d="M309.5,99.0 C318.3,91.8 325.1,82.8 332.3,73.7" stroke="#d2f8f5" stroke-width="0.6" transform="translate(-0.4,-0.4)"/>
<path d="M277.4,90.3 C285.5,103.3 296.4,99.3 308.3,96.2" stroke="#48a8a2" stroke-width="3.3"/>
<path d="M277.4,90.3 C285.5,103.3 296.4,99.3 308.3,96.2" stroke="#8ce0da" stroke-width="2.2"/>
<path d="M277.4,90.3 C285.5,103.3 296.4,99.3 308.3,96.2" stroke="#d2f8f5" stroke-width="0.6" transform="translate(-0.4,-0.4)"/>
<path d="M325.2,90.8 C319.1,87.3 312.3,85.6 305.2,85.5" stroke="#48a8a2" stroke-width="3.3"/>
<path d="M325.2,90.8 C319.1,87.3 312.3,85.6 305.2,85.5" stroke="#8ce0da" stroke-width="2.2"/>
<path d="M325.2,90.8 C319.1,87.3 312.3,85.6 305.2,85.5" stroke="#d2f8f5" stroke-width="0.6" transform="translate(-0.4,-0.4)"/>
<path d="M336.8,79.0 C322.2,78.8 323.2,72.7 320.4,57.3" stroke="#48a8a2" stroke-width="3.3"/>
<path d="M336.8,79.0 C322.2,78.8 323.2,72.7 320.4,57.3" stroke="#8ce0da" stroke-width="2.2"/>
<path d="M336.8,79.0 C322.2,78.8 323.2,72.7 320.4,57.3" stroke="#d2f8f5" stroke-width="0.6" transform="translate(-0.4,-0.4)"/>
<path d="M341.2,71.9 C337.0,59.6 325.8,53.4 315.3,52.6" stroke="#48a8a2" stroke-width="3.3"/>
<path d="M341.2,71.9 C337.0,59.6 325.8,53.4 315.3,52.6" stroke="#8ce0da" stroke-width="2.2"/>
<path d="M341.2,71.9 C337.0,59.6 325.8,53.4 315.3,52.6" stroke="#d2f8f5" stroke-width="0.6" transform="translate(-0.4,-0.4)"/>
<path d="M243.8,56.2 C257.1,63.3 264.7,74.2 272.0,88.5" stroke="#48a8a2" stroke-width="3.3"/>
<path d="M243.8,56.2 C257.1,63.3 264.7,74.2 272.0,88.5" stroke="#8ce0da" stroke-width="2.2"/>
<path d="M243.8,56.2 C257.1,63.3 264.7,74.2 272.0,88.5" stroke="#d2f8f5" stroke-width="0.6" transform="translate(-0.4,-0.4)"/>
<path d="M242.9,85.9 C251.1,83.1 259.4,81.0 268.1,79.3" stroke="#48a8a2" stroke-width="3.3"/>
<path d="M242.9,85.9 C251.1,83.1 259.4,81.0 268.1,79.3" stroke="#8ce0da" stroke-width="2.2"/>
<path d="M242.9,85.9 C251.1,83.1 259.4,81.0 268.1,79.3" stroke="#d2f8f5" stroke-width="0.6" transform="translate(-0.4,-0.4)"/>
<path d="M250.9,96.4 C271.7,97.0 272.5,83.0 272.5,67.5" stroke="#48a8a2" stroke-width="3.3"/>
<path d="M250.9,96.4 C271.7,97.0 272.5,83.0 272.5,67.5" stroke="#8ce0da" stroke-width="2.2"/>
<path d="M250.9,96.4 C271.7,97.0 272.5,83.0 272.5,67.5" stroke="#d2f8f5" stroke-width="0.6" transform="translate(-0.4,-0.4)"/>
<path d="M338.1,52.0 C335.9,64.4 340.8,66.0 353.8,68.0" stroke="#48a8a2" stroke-width="3.3"/>
<path d="M338.1,52.0 C335.9,64.4 340.8,66.0 353.8,68.0" stroke="#8ce0da" stroke-width="2.2"/>
<path d="M338.1,52.0 C335.9,64.4 340.8,66.0 353.8,68.0" stroke="#d2f8f5" stroke-width="0.6" transform="translate(-0.4,-0.4)"/>
<path d="M301.6,59.1 C289.8,48.7 281.5,52.7 275.1,65.6" stroke="#48a8a2" stroke-width="3.3"/>
<path d="M301.6,59.1 C289.8,48.7 281.5,52.7 275.1,65.6" stroke="#8ce0da" stroke-width="2.2"/>
<path d="M301.6,59.1 C289.8,48.7 281.5,52.7 275.1,65.6" stroke="#d2f8f5" stroke-width="0.6" transform="translate(-0.4,-0.4)"/>
<path d="M285.2,61.1 C278.3,56.6 271.1,57.5 263.4,59.4" stroke="#48a8a2" stroke-width="3.3"/>
<path d="M285.2,61.1 C278.3,56.6 271.1,57.5 263.4,59.4" stroke="#8ce0da" stroke-width="2.2"/>
<path d="M285.2,61.1 C278.3,56.6 271.1,57.5 263.4,59.4" stroke="#d2f8f5" stroke-width="0.6" transform="translate(-0.4,-0.4)"/>
<path d="M307.1,58.4 C323.3,54.7 333.7,61.5 336.8,77.4" stroke="#48a8a2" stroke-width="3.3"/>
<path d="M307.1,58.4 C323.3,54.7 333.7,61.5 336.8,77.4" stroke="#8ce0da" stroke-width="2.2"/>
<path d="M307.1,58.4 C323.3,54.7 333.7,61.5 336.8,77.4" stroke="#d2f8f5" stroke-width="0.6" transform="translate(-0.4,-0.4)"/>
<path d="M263.9,67.7 C270.0,73.5 276.9,77.2 285.0,80.6" stroke="#48a8a2" stroke-width="3.3"/>
<path d="M263.9,67.7 C270.0,73.5 276.9,77.2 285.0,80.6" stroke="#8ce0da" stroke-width="2.2"/>
<path d="M263.9,67.7 C270.0,73.5 276.9,77.2 285.0,80.6" stroke="#d2f8f5" stroke-width="0.6" transform="translate(-0.4,-0.4)"/>
<path d="M276.6,54.4 C269.5,70.0 255.7,72.3 242.4,66.9" stroke="#48a8a2" stroke-width="3.3"/>
<path d="M276.6,54.4 C269.5,70.0 255.7,72.3 242.4,66.9" stroke="#8ce0da" stroke-width="2.2"/>
<path d="M276.6,54.4 C269.5,70.0 255.7,72.3 242.4,66.9" stroke="#d2f8f5" stroke-width="0.6" transform="translate(-0.4,-0.4)"/>
<path d="M283.2,81.9 C288.6,77.0 294.0,72.3 299.7,67.4" stroke="#48a8a2" stroke-width="3.3"/>
<path d="M283.2,81.9 C288.6,77.0 294.0,72.3 299.7,67.4" stroke="#8ce0da" stroke-width="2.2"/>
<path d="M283.2,81.9 C288.6,77.0 294.0,72.3 299.7,67.4" stroke="#d2f8f5" stroke-width="0.6" transform="translate(-0.4,-0.4)"/>
<path d="M257.4,50.3 C267.3,60.4 270.1,71.7 262.4,84.7" stroke="#48a8a2" stroke-width="3.3"/>
<path d="M257.4,50.3 C267.3,60.4 270.1,71.7 262.4,84.7" stroke="#8ce0da" stroke-width="2.2"/>
<path d="M257.4,50.3 C267.3,60.4 270.1,71.7 262.4,84.7" stroke="#d2f8f5" stroke-width="0.6" transform="translate(-0.4,-0.4)"/>
<path d="M342.9,67.5 C331.9,67.9 332.4,76.5 332.6,83.4" stroke="#48a8a2" stroke-width="3.3"/>
<path d="M342.9,67.5 C331.9,67.9 332.4,76.5 332.6,83.4" stroke="#8ce0da" stroke-width="2.2"/>
<path d="M342.9,67.5 C331.9,67.9 332.4,76.5 332.6,83.4" stroke="#d2f8f5" stroke-width="0.6" transform="translate(-0.4,-0.4)"/>
<path d="M334.3,96.8 C345.9,91.8 338.9,85.3 336.3,78.2" stroke="#48a8a2" stroke-width="3.3"/>
<path d="M334.3,96.8 C345.9,91.8 338.9,85.3 336.3,78.2" stroke="#8ce0da" stroke-width="2.2"/>
<path d="M334.3,96.8 C345.9,91.8 338.9,85.3 336.3,78.2" stroke="#d2f8f5" stroke-width="0.6" transform="translate(-0.4,-0.4)"/>
<path d="M300.8,78.6 C301.2,91.8 294.7,98.5 283.1,106.8" stroke="#48a8a2" stroke-width="3.3"/>
<path d="M300.8,78.6 C301.2,91.8 294.7,98.5 283.1,106.8" stroke="#8ce0da" stroke-width="2.2"/>
<path d="M300.8,78.6 C301.2,91.8 294.7,98.5 283.1,106.8" stroke="#d2f8f5" stroke-width="0.6" transform="translate(-0.4,-0.4)"/>
<path d="M272.4,93.4 C266.8,95.9 260.9,97.4 254.5,98.4" stroke="#48a8a2" stroke-width="3.3"/>
<path d="M272.4,93.4 C266.8,95.9 260.9,97.4 254.5,98.4" stroke="#8ce0da" stroke-width="2.2"/>
<path d="M272.4,93.4 C266.8,95.9 260.9,97.4 254.5,98.4" stroke="#d2f8f5" stroke-width="0.6" transform="translate(-0.4,-0.4)"/>
<path d="M331.1,90.7 C349.1,87.6 355.5,79.2 342.7,63.3" stroke="#48a8a2" stroke-width="3.3"/>
<path d="M331.1,90.7 C349.1,87.6 355.5,79.2 342.7,63.3" stroke="#8ce0da" stroke-width="2.2"/>
<path d="M331.1,90.7 C349.1,87.6 355.5,79.2 342.7,63.3" stroke="#d2f8f5" stroke-width="0.6" transform="translate(-0.4,-0.4)"/>
<path d="M333.0,87.1 C327.9,83.6 321.9,81.7 316.0,80.3" stroke="#48a8a2" stroke-width="3.3"/>
<path d="M333.0,87.1 C327.9,83.6 321.9,81.7 316.0,80.3" stroke="#8ce0da" stroke-width="2.2"/>
<path d="M333.0,87.1 C327.9,83.6 321.9,81.7 316.0,80.3" stroke="#d2f8f5" stroke-width="0.6" transform="translate(-0.4,-0.4)"/>
<path d="M287.5,91.1 C288.0,79.8 292.0,69.9 297.8,59.7" stroke="#48a8a2" stroke-width="3.3"/>
<path d="M287.5,91.1 C288.0,79.8 292.0,69.9 297.8,59.7" stroke="#8ce0da" stroke-width="2.2"/>
<path d="M287.5,91.1 C288.0,79.8 292.0,69.9 297.8,59.7" stroke="#d2f8f5" stroke-width="0.6" transform="translate(-0.4,-0.4)"/>
<path d="M344.0,66.0 C329.6,48.8 315.3,50.0 300.8,66.3" stroke="#48a8a2" stroke-width="3.3"/>
<path d="M344.0,66.0 C329.6,48.8 315.3,50.0 300.8,66.3" stroke="#8ce0da" stroke-width="2.2"/>
<path d="M344.0,66.0 C329.6,48.8 315.3,50.0 300.8,66.3" stroke="#d2f8f5" stroke-width="0.6" transform="translate(-0.4,-0.4)"/>
<path d="M272.0,56.3 C290.1,53.9 299.9,66.0 308.6,78.9" stroke="#48a8a2" stroke-width="3.3"/>
<path d="M272.0,56.3 C290.1,53.9 299.9,66.0 308.6,78.9" stroke="#8ce0da" stroke-width="2.2"/>
<path d="M272.0,56.3 C290.1,53.9 299.9,66.0 308.6,78.9" stroke="#d2f8f5" stroke-width="0.6" transform="translate(-0.4,-0.4)"/>
<path d="M299.1,76.9 C300.8,69.3 305.1,64.3 312.8,61.7" stroke="#48a8a2" stroke-width="3.3"/>
<path d="M299.1,76.9 C300.8,69.3 305.1,64.3 312.8,61.7" stroke="#8ce0da" stroke-width="2.2"/>
<path d="M299.1,76.9 C300.8,69.3 305.1,64.3 312.8,61.7" stroke="#d2f8f5" stroke-width="0.6" transform="translate(-0.4,-0.4)"/>
<path d="M237.1,71.9 C252.2,60.9 267.9,64.3 284.4,69.8" stroke="#48a8a2" stroke-width="3.3"/>
<path d="M237.1,71.9 C252.2,60.9 267.9,64.3 284.4,69.8" stroke="#8ce0da" stroke-width="2.2"/>
<path d="M237.1,71.9 C252.2,60.9 267.9,64.3 284.4,69.8" stroke="#d2f8f5" stroke-width="0.6" transform="translate(-0.4,-0.4)"/>
<path d="M238.3,65.1 C245.3,72.1 254.5,75.1 263.9,74.1" stroke="#48a8a2" stroke-width="3.3"/>
<path d="M238.3,65.1 C245.3,72.1 254.5,75.1 263.9,74.1" stroke="#8ce0da" stroke-width="2.2"/>
<path d="M238.3,65.1 C245.3,72.1 254.5,75.1 263.9,74.1" stroke="#d2f8f5" stroke-width="0.6" transform="translate(-0.4,-0.4)"/>
<path d="M299.0,103.8 C287.3,94.1 274.3,97.4 261.1,100.2" stroke="#48a8a2" stroke-width="3.3"/>
<path d="M299.0,103.8 C287.3,94.1 274.3,97.4 261.1,100.2" stroke="#8ce0da" stroke-width="2.2"/>
<path d="M299.0,103.8 C287.3,94.1 274.3,97.4 261.1,100.2" stroke="#d2f8f5" stroke-width="0.6" transform="translate(-0.4,-0.4)"/>
<path d="M269.8,76.6 C263.5,66.6 263.8,59.1 275.1,51.5" stroke="#48a8a2" stroke-width="3.3"/>
<path d="M269.8,76.6 C263.5,66.6 263.8,59.1 275.1,51.5" stroke="#8ce0da" stroke-width="2.2"/>
<path d="M269.8,76.6 C263.5,66.6 263.8,59.1 275.1,51.5" stroke="#d2f8f5" stroke-width="0.6" transform="translate(-0.4,-0.4)"/>
<path d="M269.5,60.8 C276.6,63.8 283.8,64.2 291.3,61.4" stroke="#48a8a2" stroke-width="3.3"/>
<path d="M269.5,60.8 C276.6,63.8 283.8,64.2 291.3,61.4" stroke="#8ce0da" stroke-width="2.2"/>
<path d="M269.5,60.8 C276.6,63.8 283.8,64.2 291.3,61.4" stroke="#d2f8f5" stroke-width="0.6" transform="translate(-0.4,-0.4)"/>
<path d="M285.1,53.5 C279.7,58.5 273.9,62.8 267.7,67.3" stroke="#48a8a2" stroke-width="3.3"/>
<path d="M285.1,53.5 C279.7,58.5 273.9,62.8 267.7,67.3" stroke="#8ce0da" stroke-width="2.2"/>
<path d="M285.1,53.5 C279.7,58.5 273.9,62.8 267.7,67.3" stroke="#d2f8f5" stroke-width="0.6" transform="translate(-0.4,-0.4)"/>
<path d="M318.1,90.6 C313.7,76.3 304.0,72.3 291.7,79.8" stroke="#48a8a2" stroke-width="3.3"/>
<path d="M318.1,90.6 C313.7,76.3 304.0,72.3 291.7,79.8" stroke="#8ce0da" stroke-width="2.2"/>
<path d="M318.1,90.6 C313.7,76.3 304.0,72.3 291.7,79.8" stroke="#d2f8f5" stroke-width="0.6" transform="translate(-0.4,-0.4)"/>
<path d="M278.0,66.4 C286.7,68.3 290.9,75.7 293.3,82.6" stroke="#48a8a2" stroke-width="3.3"/>
<path d="M278.0,66.4 C286.7,68.3 290.9,75.7 293.3,82.6" stroke="#8ce0da" stroke-width="2.2"/>
<path d="M278.0,66.4 C286.7,68.3 290.9,75.7 293.3,82.6" stroke="#d2f8f5" stroke-width="0.6" transform="translate(-0.4,-0.4)"/>
<path d="M333.1,57.6 C336.9,64.8 334.9,71.2 330.4,77.6" stroke="#48a8a2" stroke-width="3.3"/>
<path d="M333.1,57.6 C336.9,64.8 334.9,71.2 330.4,77.6" stroke="#8ce0da" stroke-width="2.2"/>
<path d="M333.1,57.6 C336.9,64.8 334.9,71.2 330.4,77.6" stroke="#d2f8f5" stroke-width="0.6" transform="translate(-0.4,-0.4)"/>
<path d="M310.4,98.6 C317.0,85.1 327.4,79.6 341.7,85.7" stroke="#48a8a2" stroke-width="3.3"/>
<path d="M310.4,98.6 C317.0,85.1 327.4,79.6 341.7,85.7" stroke="#8ce0da" stroke-width="2.2"/>
<path d="M310.4,98.6 C317.0,85.1 327.4,79.6 341.7,85.7" stroke="#d2f8f5" stroke-width="0.6" transform="translate(-0.4,-0.4)"/>
<path d="M280.5,52.0 C276.0,73.4 285.5,82.7 305.8,92.5" stroke="#48a8a2" stroke-width="3.3"/>
<path d="M280.5,52.0 C276.0,73.4 285.5,82.7 305.8,92.5" stroke="#8ce0da" stroke-width="2.2"/>
<path d="M280.5,52.0 C276.0,73.4 285.5,82.7 305.8,92.5" stroke="#d2f8f5" stroke-width="0.6" transform="translate(-0.4,-0.4)"/>
<path d="M284.8,104.4 C275.8,100.3 270.5,91.5 268.9,83.4" stroke="#48a8a2" stroke-width="3.3"/>
<path d="M284.8,104.4 C275.8,100.3 270.5,91.5 268.9,83.4" stroke="#8ce0da" stroke-width="2.2"/>
<path d="M284.8,104.4 C275.8,100.3 270.5,91.5 268.9,83.4" stroke="#d2f8f5" stroke-width="0.6" transform="translate(-0.4,-0.4)"/>
<path d="M310.5,99.1 C301.0,80.4 288.9,79.7 276.1,95.6" stroke="#48a8a2" stroke-width="3.3"/>
<path d="M310.5,99.1 C301.0,80.4 288.9,79.7 276.1,95.6" stroke="#8ce0da" stroke-width="2.2"/>
<path d="M310.5,99.1 C301.0,80.4 288.9,79.7 276.1,95.6" stroke="#d2f8f5" stroke-width="0.6" transform="translate(-0.4,-0.4)"/>
</g>
<line x1="225.8" y1="36.2" x2="226.5" y2="103.5" stroke="#c4c4c4" stroke-width="0.6" />
<line x1="357.2" y1="36.5" x2="357.2" y2="105.5" stroke="#c4c4c4" stroke-width="0.6" />
<line x1="289.0" y1="104.0" x2="289.0" y2="126.0" stroke="#c4c4c4" stroke-width="0.6" />
<line x1="226.5" y1="103.5" x2="289.0" y2="126.0" stroke="#c4c4c4" stroke-width="0.6" />
<line x1="289.0" y1="126.0" x2="357.2" y2="105.5" stroke="#c4c4c4" stroke-width="0.6" />
<line x1="225.8" y1="36.2" x2="289.0" y2="45.0" stroke="#c4c4c4" stroke-width="0.6" />
<line x1="289.0" y1="45.0" x2="357.2" y2="36.5" stroke="#c4c4c4" stroke-width="0.6" />
<g fill="#e8141c"><circle cx="329.8" cy="42.4" r="1.2"/><circle cx="246.5" cy="38.5" r="1.2"/><circle cx="292.0" cy="34.9" r="1.2"/><circle cx="347.6" cy="39.1" r="1.2"/><circle cx="302.6" cy="37.4" r="1.2"/><circle cx="254.9" cy="36.7" r="1.2"/><circle cx="318.6" cy="41.6" r="1.2"/><circle cx="332.2" cy="36.9" r="1.2"/><circle cx="279.1" cy="43.0" r="1.2"/><circle cx="309.1" cy="43.0" r="1.2"/><circle cx="302.1" cy="38.9" r="1.2"/><circle cx="238.9" cy="38.7" r="1.2"/><circle cx="347.3" cy="41.5" r="1.2"/><circle cx="271.1" cy="40.2" r="1.2"/><circle cx="325.5" cy="37.6" r="1.2"/><circle cx="292.1" cy="45.1" r="1.2"/><circle cx="277.6" cy="40.4" r="1.2"/><circle cx="242.2" cy="35.9" r="1.2"/><circle cx="241.3" cy="36.9" r="1.2"/><circle cx="349.6" cy="40.8" r="1.2"/><circle cx="304.6" cy="35.4" r="1.2"/><circle cx="312.7" cy="35.5" r="1.2"/><circle cx="246.4" cy="36.9" r="1.2"/><circle cx="276.9" cy="42.3" r="1.2"/><circle cx="313.4" cy="41.7" r="1.2"/><circle cx="279.7" cy="38.0" r="1.2"/><circle cx="255.2" cy="36.7" r="1.2"/><circle cx="355.4" cy="41.0" r="1.2"/><circle cx="287.2" cy="41.3" r="1.2"/><circle cx="347.8" cy="42.0" r="1.2"/><circle cx="309.2" cy="35.7" r="1.2"/><circle cx="243.3" cy="36.0" r="1.2"/><circle cx="339.3" cy="42.3" r="1.2"/><circle cx="327.5" cy="42.4" r="1.2"/><circle cx="259.6" cy="39.0" r="1.2"/><circle cx="231.9" cy="36.5" r="1.2"/><circle cx="319.3" cy="34.3" r="1.2"/><circle cx="296.5" cy="38.0" r="1.2"/><circle cx="344.0" cy="39.4" r="1.2"/><circle cx="269.6" cy="40.6" r="1.2"/><circle cx="261.9" cy="42.5" r="1.2"/><circle cx="348.9" cy="42.8" r="1.2"/><circle cx="319.2" cy="36.3" r="1.2"/><circle cx="269.0" cy="40.9" r="1.2"/><circle cx="299.5" cy="42.8" r="1.2"/><circle cx="270.1" cy="39.5" r="1.2"/><circle cx="342.6" cy="38.9" r="1.2"/><circle cx="340.6" cy="37.7" r="1.2"/><circle cx="324.0" cy="34.9" r="1.2"/><circle cx="275.0" cy="34.4" r="1.2"/><circle cx="268.4" cy="39.0" r="1.2"/><circle cx="338.5" cy="42.6" r="1.2"/><circle cx="348.1" cy="39.1" r="1.2"/><circle cx="350.3" cy="40.1" r="1.2"/><circle cx="324.1" cy="42.5" r="1.2"/><circle cx="278.9" cy="36.7" r="1.2"/><circle cx="299.2" cy="37.8" r="1.2"/><circle cx="330.4" cy="43.6" r="1.2"/><circle cx="323.6" cy="35.0" r="1.2"/><circle cx="337.1" cy="42.3" r="1.2"/><circle cx="354.5" cy="39.4" r="1.2"/><circle cx="349.9" cy="39.9" r="1.2"/><circle cx="312.4" cy="36.4" r="1.2"/><circle cx="276.1" cy="38.3" r="1.2"/><circle cx="313.3" cy="37.0" r="1.2"/><circle cx="312.2" cy="39.1" r="1.2"/><circle cx="271.6" cy="40.4" r="1.2"/><circle cx="285.0" cy="33.8" r="1.2"/><circle cx="274.7" cy="38.2" r="1.2"/><circle cx="319.0" cy="35.0" r="1.2"/><circle cx="345.8" cy="37.9" r="1.2"/><circle cx="351.1" cy="38.4" r="1.2"/><circle cx="283.5" cy="37.5" r="1.2"/><circle cx="324.9" cy="35.5" r="1.2"/><circle cx="269.9" cy="42.1" r="1.2"/><circle cx="348.5" cy="38.1" r="1.2"/><circle cx="252.5" cy="37.0" r="1.2"/><circle cx="290.3" cy="42.1" r="1.2"/><circle cx="350.7" cy="41.0" r="1.2"/><circle cx="286.6" cy="36.1" r="1.2"/><circle cx="245.7" cy="35.8" r="1.2"/><circle cx="343.3" cy="42.6" r="1.2"/><circle cx="291.3" cy="36.1" r="1.2"/><circle cx="343.3" cy="38.6" r="1.2"/><circle cx="295.5" cy="45.4" r="1.2"/><circle cx="236.6" cy="37.1" r="1.2"/><circle cx="268.7" cy="38.3" r="1.2"/><circle cx="350.1" cy="42.5" r="1.2"/><circle cx="332.8" cy="43.3" r="1.2"/><circle cx="292.1" cy="43.1" r="1.2"/><circle cx="330.5" cy="44.0" r="1.2"/><circle cx="290.7" cy="44.4" r="1.2"/><circle cx="267.3" cy="39.5" r="1.2"/><circle cx="351.3" cy="41.5" r="1.2"/><circle cx="333.2" cy="37.3" r="1.2"/><circle cx="291.6" cy="40.7" r="1.2"/><circle cx="337.8" cy="38.2" r="1.2"/><circle cx="310.8" cy="43.0" r="1.2"/><circle cx="326.4" cy="37.4" r="1.2"/><circle cx="252.6" cy="37.1" r="1.2"/><circle cx="267.9" cy="39.3" r="1.2"/><circle cx="309.3" cy="34.3" r="1.2"/><circle cx="350.2" cy="42.3" r="1.2"/><circle cx="267.9" cy="36.5" r="1.2"/><circle cx="352.2" cy="38.5" r="1.2"/><circle cx="262.8" cy="37.3" r="1.2"/><circle cx="341.5" cy="37.2" r="1.2"/><circle cx="309.5" cy="43.2" r="1.2"/><circle cx="320.0" cy="39.3" r="1.2"/><circle cx="322.5" cy="42.4" r="1.2"/><circle cx="304.6" cy="37.0" r="1.2"/><circle cx="320.6" cy="43.5" r="1.2"/><circle cx="252.2" cy="38.8" r="1.2"/><circle cx="297.2" cy="35.3" r="1.2"/><circle cx="286.1" cy="34.2" r="1.2"/><circle cx="339.6" cy="40.7" r="1.2"/><circle cx="299.1" cy="45.0" r="1.2"/><circle cx="340.1" cy="39.5" r="1.2"/><circle cx="238.9" cy="37.8" r="1.2"/><circle cx="273.5" cy="40.1" r="1.2"/><circle cx="252.6" cy="39.8" r="1.2"/><circle cx="342.3" cy="38.2" r="1.2"/><circle cx="339.2" cy="37.2" r="1.2"/><circle cx="260.1" cy="38.9" r="1.2"/><circle cx="274.3" cy="37.9" r="1.2"/><circle cx="291.3" cy="43.3" r="1.2"/><circle cx="335.0" cy="43.4" r="1.2"/><circle cx="274.3" cy="36.5" r="1.2"/><circle cx="340.4" cy="39.5" r="1.2"/><circle cx="255.4" cy="38.1" r="1.2"/><circle cx="274.3" cy="40.5" r="1.2"/><circle cx="295.5" cy="35.3" r="1.2"/><circle cx="332.6" cy="43.7" r="1.2"/><circle cx="261.6" cy="36.0" r="1.2"/><circle cx="306.4" cy="35.7" r="1.2"/><circle cx="352.5" cy="40.2" r="1.2"/><circle cx="247.8" cy="36.3" r="1.2"/><circle cx="271.4" cy="36.4" r="1.2"/><circle cx="318.1" cy="44.4" r="1.2"/><circle cx="294.5" cy="40.7" r="1.2"/><circle cx="352.1" cy="40.4" r="1.2"/><circle cx="292.5" cy="44.9" r="1.2"/><circle cx="325.3" cy="39.1" r="1.2"/><circle cx="338.8" cy="38.3" r="1.2"/><circle cx="252.8" cy="36.4" r="1.2"/><circle cx="286.7" cy="44.1" r="1.2"/><circle cx="276.4" cy="34.4" r="1.2"/><circle cx="254.3" cy="40.0" r="1.2"/><circle cx="306.6" cy="45.8" r="1.2"/><circle cx="286.9" cy="35.1" r="1.2"/><circle cx="266.1" cy="41.0" r="1.2"/><circle cx="306.8" cy="44.4" r="1.2"/><circle cx="351.3" cy="40.4" r="1.2"/><circle cx="251.1" cy="39.9" r="1.2"/><circle cx="345.2" cy="40.8" r="1.2"/><circle cx="309.9" cy="43.5" r="1.2"/><circle cx="289.8" cy="33.4" r="1.2"/><circle cx="352.1" cy="40.3" r="1.2"/><circle cx="287.5" cy="44.5" r="1.2"/><circle cx="347.4" cy="40.0" r="1.2"/><circle cx="331.7" cy="44.8" r="1.2"/><circle cx="308.3" cy="40.1" r="1.2"/><circle cx="350.4" cy="38.8" r="1.2"/><circle cx="327.8" cy="37.0" r="1.2"/><circle cx="285.6" cy="43.1" r="1.2"/><circle cx="248.4" cy="39.8" r="1.2"/><circle cx="329.3" cy="44.3" r="1.2"/><circle cx="341.8" cy="40.9" r="1.2"/><circle cx="295.1" cy="34.4" r="1.2"/><circle cx="348.0" cy="41.8" r="1.2"/><circle cx="285.1" cy="36.9" r="1.2"/><circle cx="352.9" cy="39.8" r="1.2"/><circle cx="264.6" cy="36.1" r="1.2"/><circle cx="328.3" cy="43.2" r="1.2"/><circle cx="278.3" cy="41.3" r="1.2"/><circle cx="317.1" cy="42.0" r="1.2"/><circle cx="263.2" cy="41.0" r="1.2"/><circle cx="253.3" cy="35.6" r="1.2"/><circle cx="317.4" cy="44.7" r="1.2"/><circle cx="326.5" cy="43.8" r="1.2"/><circle cx="342.6" cy="41.4" r="1.2"/><circle cx="349.0" cy="42.7" r="1.2"/><circle cx="340.9" cy="37.8" r="1.2"/><circle cx="280.9" cy="38.7" r="1.2"/><circle cx="311.5" cy="39.6" r="1.2"/><circle cx="346.0" cy="41.2" r="1.2"/><circle cx="348.9" cy="42.8" r="1.2"/><circle cx="241.3" cy="36.8" r="1.2"/><circle cx="354.5" cy="39.1" r="1.2"/><circle cx="292.6" cy="35.4" r="1.2"/><circle cx="324.0" cy="39.5" r="1.2"/><circle cx="343.8" cy="43.2" r="1.2"/><circle cx="345.3" cy="39.2" r="1.2"/><circle cx="321.3" cy="45.6" r="1.2"/><circle cx="297.6" cy="39.1" r="1.2"/><circle cx="355.1" cy="40.7" r="1.2"/><circle cx="232.6" cy="37.7" r="1.2"/><circle cx="258.0" cy="34.8" r="1.2"/><circle cx="344.8" cy="41.9" r="1.2"/><circle cx="295.2" cy="46.1" r="1.2"/><circle cx="271.6" cy="34.3" r="1.2"/><circle cx="244.4" cy="37.6" r="1.2"/><circle cx="276.9" cy="41.0" r="1.2"/><circle cx="353.2" cy="40.4" r="1.2"/><circle cx="340.6" cy="37.5" r="1.2"/><circle cx="329.7" cy="37.2" r="1.2"/><circle cx="342.7" cy="40.6" r="1.2"/><circle cx="290.1" cy="38.3" r="1.2"/><circle cx="273.1" cy="41.3" r="1.2"/><circle cx="304.8" cy="35.3" r="1.2"/><circle cx="279.7" cy="37.9" r="1.2"/><circle cx="279.8" cy="35.4" r="1.2"/><circle cx="311.9" cy="42.6" r="1.2"/><circle cx="229.6" cy="37.9" r="1.2"/><circle cx="268.6" cy="38.8" r="1.2"/><circle cx="338.2" cy="38.6" r="1.2"/><circle cx="341.2" cy="37.4" r="1.2"/><circle cx="283.4" cy="33.4" r="1.2"/><circle cx="262.0" cy="40.1" r="1.2"/><circle cx="349.2" cy="41.7" r="1.2"/><circle cx="271.5" cy="40.0" r="1.2"/><circle cx="320.7" cy="37.4" r="1.2"/><circle cx="246.0" cy="39.2" r="1.2"/><circle cx="349.7" cy="39.6" r="1.2"/><circle cx="253.7" cy="39.9" r="1.2"/><circle cx="267.8" cy="34.4" r="1.2"/><circle cx="355.2" cy="39.5" r="1.2"/><circle cx="274.3" cy="40.7" r="1.2"/><circle cx="329.6" cy="41.5" r="1.2"/><circle cx="263.8" cy="42.1" r="1.2"/><circle cx="291.0" cy="35.9" r="1.2"/><circle cx="336.3" cy="38.0" r="1.2"/><circle cx="297.7" cy="36.7" r="1.2"/><circle cx="303.6" cy="43.4" r="1.2"/><circle cx="257.2" cy="41.8" r="1.2"/></g>
</g>
<g transform="translate(0,0)">
<line x1="470.0" y1="29.6" x2="532.7" y2="36.7" stroke="#c8c8c8" stroke-width="0.6" />
<line x1="532.7" y1="36.7" x2="532.7" y2="107.9" stroke="#c8c8c8" stroke-width="0.6" />
<line x1="403.0" y1="104.8" x2="470.0" y2="97.0" stroke="#c8c8c8" stroke-width="0.6" />
<line x1="470.0" y1="97.0" x2="532.7" y2="107.9" stroke="#c8c8c8" stroke-width="0.6" />
<line x1="470.0" y1="29.6" x2="470.0" y2="97.0" stroke="#c8c8c8" stroke-width="0.6" />
<line x1="506.0" y1="38.0" x2="505.3" y2="101.5" stroke="#dcdcdc" stroke-width="0.35" />
<line x1="507.9" y1="38.2" x2="508.2" y2="99.8" stroke="#dcdcdc" stroke-width="0.35" />
<line x1="509.8" y1="38.4" x2="509.2" y2="102.3" stroke="#dcdcdc" stroke-width="0.35" />
<line x1="511.7" y1="38.6" x2="512.3" y2="100.1" stroke="#dcdcdc" stroke-width="0.35" />
<line x1="513.6" y1="38.8" x2="513.6" y2="97.9" stroke="#dcdcdc" stroke-width="0.35" />
<line x1="515.5" y1="39.0" x2="514.5" y2="99.0" stroke="#dcdcdc" stroke-width="0.35" />
<line x1="517.4" y1="39.2" x2="517.6" y2="96.6" stroke="#dcdcdc" stroke-width="0.35" />
<line x1="519.3" y1="39.4" x2="519.9" y2="97.9" stroke="#dcdcdc" stroke-width="0.35" />
<line x1="521.2" y1="39.6" x2="520.7" y2="96.3" stroke="#dcdcdc" stroke-width="0.35" />
<line x1="523.1" y1="39.8" x2="524.1" y2="101.9" stroke="#dcdcdc" stroke-width="0.35" />
<line x1="525.0" y1="40.0" x2="525.8" y2="100.9" stroke="#dcdcdc" stroke-width="0.35" />
<line x1="526.9" y1="40.2" x2="526.0" y2="98.6" stroke="#dcdcdc" stroke-width="0.35" />
<line x1="528.8" y1="40.4" x2="528.8" y2="96.9" stroke="#dcdcdc" stroke-width="0.35" />
<line x1="530.7" y1="40.6" x2="531.6" y2="98.9" stroke="#dcdcdc" stroke-width="0.35" />
<polygon points="401.7,36.1 470,29.6 507,33.6 437.9,42.2" fill="url(#topg)"/>
<polygon points="401.7,36.1 437.9,42.2 439.4,117 403.1,104.8" fill="url(#leftg)"/>
<polygon points="437.9,42.2 507,33.6 506,104 439.4,117" fill="url(#frontg)"/>
<g filter="url(#blur1)">
<ellipse cx="406" cy="58" rx="2.5" ry="3.5" fill="#f06a2a" opacity="0.85"/>
<ellipse cx="412" cy="50" rx="2" ry="2" fill="#f06a2a" opacity="0.85"/>
<ellipse cx="419" cy="62" rx="3.5" ry="2.5" fill="#f06a2a" opacity="0.85"/>
<ellipse cx="409" cy="70" rx="2.5" ry="2" fill="#f06a2a" opacity="0.85"/>
<ellipse cx="427" cy="64" rx="3" ry="3.5" fill="#f06a2a" opacity="0.85"/>
<ellipse cx="432" cy="52" rx="2.5" ry="3" fill="#f06a2a" opacity="0.85"/>
<ellipse cx="417" cy="76" rx="2.5" ry="2" fill="#f06a2a" opacity="0.85"/>
<ellipse cx="405" cy="76" rx="2" ry="2.5" fill="#f06a2a" opacity="0.85"/>
<ellipse cx="429" cy="78" rx="2" ry="1.6" fill="#f06a2a" opacity="0.85"/>
<ellipse cx="452" cy="66" rx="4" ry="3" fill="#f06a2a" opacity="0.85"/>
<ellipse cx="470" cy="62" rx="3" ry="2.5" fill="#f06a2a" opacity="0.85"/>
<ellipse cx="490" cy="64" rx="3" ry="3" fill="#f06a2a" opacity="0.85"/>
</g>
<path filter="url(#blur1)" d="M402.4,80 C406,78 410,79 414,82 C418,86 420,93 426,97 C430,99 434,98 438.8,95 L439.4,117 L403.1,104.8 Z" fill="url(#cyang)"/>
<path filter="url(#blur1)" d="M439,70 C450,66 460,74 470,68 C480,64 492,72 506,66 L506,104 L439.4,117 Z" fill="url(#cyang2)"/>
<line x1="440.0" y1="44.0" x2="440.0" y2="55.9" stroke="#e8d020" stroke-width="0.4" opacity="0.7"/>
<line x1="442.2" y1="43.7" x2="442.2" y2="59.9" stroke="#e8d020" stroke-width="0.4" opacity="0.7"/>
<line x1="444.4" y1="43.5" x2="444.4" y2="55.7" stroke="#e8d020" stroke-width="0.4" opacity="0.7"/>
<line x1="446.6" y1="43.2" x2="446.6" y2="60.6" stroke="#e8d020" stroke-width="0.4" opacity="0.7"/>
<line x1="448.8" y1="42.9" x2="448.8" y2="57.7" stroke="#e8d020" stroke-width="0.4" opacity="0.7"/>
<line x1="451.0" y1="42.6" x2="451.0" y2="58.3" stroke="#e8d020" stroke-width="0.4" opacity="0.7"/>
<line x1="453.2" y1="42.4" x2="453.2" y2="57.1" stroke="#e8d020" stroke-width="0.4" opacity="0.7"/>
<line x1="455.4" y1="42.1" x2="455.4" y2="57.9" stroke="#e8d020" stroke-width="0.4" opacity="0.7"/>
<line x1="457.6" y1="41.8" x2="457.6" y2="56.1" stroke="#e8d020" stroke-width="0.4" opacity="0.7"/>
<line x1="459.8" y1="41.6" x2="459.8" y2="55.2" stroke="#e8d020" stroke-width="0.4" opacity="0.7"/>
<line x1="462.0" y1="41.3" x2="462.0" y2="60.2" stroke="#e8d020" stroke-width="0.4" opacity="0.7"/>
<line x1="464.2" y1="41.0" x2="464.2" y2="56.4" stroke="#e8d020" stroke-width="0.4" opacity="0.7"/>
<line x1="466.4" y1="40.8" x2="466.4" y2="59.7" stroke="#e8d020" stroke-width="0.4" opacity="0.7"/>
<line x1="468.6" y1="40.5" x2="468.6" y2="56.3" stroke="#e8d020" stroke-width="0.4" opacity="0.7"/>
<line x1="470.8" y1="40.2" x2="470.8" y2="60.8" stroke="#e8d020" stroke-width="0.4" opacity="0.7"/>
<line x1="473.0" y1="40.0" x2="473.0" y2="60.4" stroke="#e8d020" stroke-width="0.4" opacity="0.7"/>
<line x1="475.2" y1="39.7" x2="475.2" y2="59.5" stroke="#e8d020" stroke-width="0.4" opacity="0.7"/>
<line x1="477.4" y1="39.4" x2="477.4" y2="59.6" stroke="#e8d020" stroke-width="0.4" opacity="0.7"/>
<line x1="479.6" y1="39.1" x2="479.6" y2="58.5" stroke="#e8d020" stroke-width="0.4" opacity="0.7"/>
<line x1="481.8" y1="38.9" x2="481.8" y2="59.4" stroke="#e8d020" stroke-width="0.4" opacity="0.7"/>
<line x1="484.0" y1="38.6" x2="484.0" y2="55.7" stroke="#e8d020" stroke-width="0.4" opacity="0.7"/>
<line x1="486.2" y1="38.3" x2="486.2" y2="57.9" stroke="#e8d020" stroke-width="0.4" opacity="0.7"/>
<line x1="488.4" y1="38.1" x2="488.4" y2="60.0" stroke="#e8d020" stroke-width="0.4" opacity="0.7"/>
<line x1="490.6" y1="37.8" x2="490.6" y2="56.2" stroke="#e8d020" stroke-width="0.4" opacity="0.7"/>
<line x1="492.8" y1="37.5" x2="492.8" y2="60.5" stroke="#e8d020" stroke-width="0.4" opacity="0.7"/>
<line x1="495.0" y1="37.2" x2="495.0" y2="60.3" stroke="#e8d020" stroke-width="0.4" opacity="0.7"/>
<line x1="497.2" y1="37.0" x2="497.2" y2="57.5" stroke="#e8d020" stroke-width="0.4" opacity="0.7"/>
<line x1="499.4" y1="36.7" x2="499.4" y2="57.2" stroke="#e8d020" stroke-width="0.4" opacity="0.7"/>
<line x1="501.6" y1="36.4" x2="501.6" y2="57.7" stroke="#e8d020" stroke-width="0.4" opacity="0.7"/>
<line x1="503.8" y1="36.2" x2="503.8" y2="57.3" stroke="#e8d020" stroke-width="0.4" opacity="0.7"/>
<g fill="none" stroke-linecap="round">
<path d="M483.1,76.6 C468.7,84.0 458.5,78.3 450.4,65.9" stroke="#58a8a8" stroke-width="3.1"/>
<path d="M483.1,76.6 C468.7,84.0 458.5,78.3 450.4,65.9" stroke="#a8e6e6" stroke-width="2.0"/>
<path d="M483.1,76.6 C468.7,84.0 458.5,78.3 450.4,65.9" stroke="#e4fafa" stroke-width="0.6" transform="translate(-0.4,-0.4)"/>
<path d="M452.2,61.6 C461.1,60.5 468.1,55.1 475.1,50.2" stroke="#58a8a8" stroke-width="3.1"/>
<path d="M452.2,61.6 C461.1,60.5 468.1,55.1 475.1,50.2" stroke="#a8e6e6" stroke-width="2.0"/>
<path d="M452.2,61.6 C461.1,60.5 468.1,55.1 475.1,50.2" stroke="#e4fafa" stroke-width="0.6" transform="translate(-0.4,-0.4)"/>
<path d="M509.5,75.7 C508.1,67.4 513.4,63.0 519.5,59.4" stroke="#58a8a8" stroke-width="3.1"/>
<path d="M509.5,75.7 C508.1,67.4 513.4,63.0 519.5,59.4" stroke="#a8e6e6" stroke-width="2.0"/>
<path d="M509.5,75.7 C508.1,67.4 513.4,63.0 519.5,59.4" stroke="#e4fafa" stroke-width="0.6" transform="translate(-0.4,-0.4)"/>
<path d="M493.1,69.7 C478.4,71.2 468.8,62.0 461.1,51.8" stroke="#58a8a8" stroke-width="3.1"/>
<path d="M493.1,69.7 C478.4,71.2 468.8,62.0 461.1,51.8" stroke="#a8e6e6" stroke-width="2.0"/>
<path d="M493.1,69.7 C478.4,71.2 468.8,62.0 461.1,51.8" stroke="#e4fafa" stroke-width="0.6" transform="translate(-0.4,-0.4)"/>
<path d="M491.5,52.0 C470.2,43.4 465.6,60.3 459.1,73.9" stroke="#58a8a8" stroke-width="3.1"/>
<path d="M491.5,52.0 C470.2,43.4 465.6,60.3 459.1,73.9" stroke="#a8e6e6" stroke-width="2.0"/>
<path d="M491.5,52.0 C470.2,43.4 465.6,60.3 459.1,73.9" stroke="#e4fafa" stroke-width="0.6" transform="translate(-0.4,-0.4)"/>
<path d="M466.8,76.9 C476.2,82.3 474.7,89.4 470.9,98.1" stroke="#58a8a8" stroke-width="3.1"/>
<path d="M466.8,76.9 C476.2,82.3 474.7,89.4 470.9,98.1" stroke="#a8e6e6" stroke-width="2.0"/>
<path d="M466.8,76.9 C476.2,82.3 474.7,89.4 470.9,98.1" stroke="#e4fafa" stroke-width="0.6" transform="translate(-0.4,-0.4)"/>
<path d="M436.7,73.7 C452.6,65.7 462.9,76.0 468.8,87.2" stroke="#58a8a8" stroke-width="3.1"/>
<path d="M436.7,73.7 C452.6,65.7 462.9,76.0 468.8,87.2" stroke="#a8e6e6" stroke-width="2.0"/>
<path d="M436.7,73.7 C452.6,65.7 462.9,76.0 468.8,87.2" stroke="#e4fafa" stroke-width="0.6" transform="translate(-0.4,-0.4)"/>
<path d="M502.2,57.9 C512.2,54.3 520.9,59.2 527.8,64.8" stroke="#58a8a8" stroke-width="3.1"/>
<path d="M502.2,57.9 C512.2,54.3 520.9,59.2 527.8,64.8" stroke="#a8e6e6" stroke-width="2.0"/>
<path d="M502.2,57.9 C512.2,54.3 520.9,59.2 527.8,64.8" stroke="#e4fafa" stroke-width="0.6" transform="translate(-0.4,-0.4)"/>
<path d="M483.8,82.7 C490.9,82.9 497.0,80.7 502.9,76.2" stroke="#58a8a8" stroke-width="3.1"/>
<path d="M483.8,82.7 C490.9,82.9 497.0,80.7 502.9,76.2" stroke="#a8e6e6" stroke-width="2.0"/>
<path d="M483.8,82.7 C490.9,82.9 497.0,80.7 502.9,76.2" stroke="#e4fafa" stroke-width="0.6" transform="translate(-0.4,-0.4)"/>
<path d="M469.7,58.4 C476.0,47.8 483.0,47.1 490.1,57.5" stroke="#58a8a8" stroke-width="3.1"/>
<path d="M469.7,58.4 C476.0,47.8 483.0,47.1 490.1,57.5" stroke="#a8e6e6" stroke-width="2.0"/>
<path d="M469.7,58.4 C476.0,47.8 483.0,47.1 490.1,57.5" stroke="#e4fafa" stroke-width="0.6" transform="translate(-0.4,-0.4)"/>
<path d="M508.2,72.0 C506.0,65.5 500.9,61.9 494.9,59.3" stroke="#58a8a8" stroke-width="3.1"/>
<path d="M508.2,72.0 C506.0,65.5 500.9,61.9 494.9,59.3" stroke="#a8e6e6" stroke-width="2.0"/>
<path d="M508.2,72.0 C506.0,65.5 500.9,61.9 494.9,59.3" stroke="#e4fafa" stroke-width="0.6" transform="translate(-0.4,-0.4)"/>
<path d="M473.0,67.2 C475.5,73.1 475.7,79.4 475.9,86.0" stroke="#58a8a8" stroke-width="3.1"/>
<path d="M473.0,67.2 C475.5,73.1 475.7,79.4 475.9,86.0" stroke="#a8e6e6" stroke-width="2.0"/>
<path d="M473.0,67.2 C475.5,73.1 475.7,79.4 475.9,86.0" stroke="#e4fafa" stroke-width="0.6" transform="translate(-0.4,-0.4)"/>
<path d="M479.3,49.8 C469.2,52.7 461.6,61.0 457.7,68.8" stroke="#58a8a8" stroke-width="3.1"/>
<path d="M479.3,49.8 C469.2,52.7 461.6,61.0 457.7,68.8" stroke="#a8e6e6" stroke-width="2.0"/>
<path d="M479.3,49.8 C469.2,52.7 461.6,61.0 457.7,68.8" stroke="#e4fafa" stroke-width="0.6" transform="translate(-0.4,-0.4)"/>
<path d="M510.1,90.8 C524.7,80.8 524.3,70.0 511.8,58.2" stroke="#58a8a8" stroke-width="3.1"/>
<path d="M510.1,90.8 C524.7,80.8 524.3,70.0 511.8,58.2" stroke="#a8e6e6" stroke-width="2.0"/>
<path d="M510.1,90.8 C524.7,80.8 524.3,70.0 511.8,58.2" stroke="#e4fafa" stroke-width="0.6" transform="translate(-0.4,-0.4)"/>
<path d="M472.7,89.5 C499.0,88.4 490.7,72.5 490.4,54.6" stroke="#58a8a8" stroke-width="3.1"/>
<path d="M472.7,89.5 C499.0,88.4 490.7,72.5 490.4,54.6" stroke="#a8e6e6" stroke-width="2.0"/>
<path d="M472.7,89.5 C499.0,88.4 490.7,72.5 490.4,54.6" stroke="#e4fafa" stroke-width="0.6" transform="translate(-0.4,-0.4)"/>
<path d="M465.6,66.1 C483.8,64.7 484.7,71.2 484.0,90.0" stroke="#58a8a8" stroke-width="3.1"/>
<path d="M465.6,66.1 C483.8,64.7 484.7,71.2 484.0,90.0" stroke="#a8e6e6" stroke-width="2.0"/>
<path d="M465.6,66.1 C483.8,64.7 484.7,71.2 484.0,90.0" stroke="#e4fafa" stroke-width="0.6" transform="translate(-0.4,-0.4)"/>
<path d="M467.9,92.4 C476.3,79.9 468.2,75.3 458.0,70.8" stroke="#58a8a8" stroke-width="3.1"/>
<path d="M467.9,92.4 C476.3,79.9 468.2,75.3 458.0,70.8" stroke="#a8e6e6" stroke-width="2.0"/>
<path d="M467.9,92.4 C476.3,79.9 468.2,75.3 458.0,70.8" stroke="#e4fafa" stroke-width="0.6" transform="translate(-0.4,-0.4)"/>
<path d="M492.8,54.1 C484.6,64.0 475.0,72.7 464.8,80.8" stroke="#58a8a8" stroke-width="3.1"/>
<path d="M492.8,54.1 C484.6,64.0 475.0,72.7 464.8,80.8" stroke="#a8e6e6" stroke-width="2.0"/>
<path d="M492.8,54.1 C484.6,64.0 475.0,72.7 464.8,80.8" stroke="#e4fafa" stroke-width="0.6" transform="translate(-0.4,-0.4)"/>
<path d="M472.5,53.6 C497.7,57.3 503.1,68.1 487.3,89.8" stroke="#58a8a8" stroke-width="3.1"/>
<path d="M472.5,53.6 C497.7,57.3 503.1,68.1 487.3,89.8" stroke="#a8e6e6" stroke-width="2.0"/>
<path d="M472.5,53.6 C497.7,57.3 503.1,68.1 487.3,89.8" stroke="#e4fafa" stroke-width="0.6" transform="translate(-0.4,-0.4)"/>
<path d="M465.4,72.7 C465.1,58.3 471.8,52.7 486.0,56.6" stroke="#58a8a8" stroke-width="3.1"/>
<path d="M465.4,72.7 C465.1,58.3 471.8,52.7 486.0,56.6" stroke="#a8e6e6" stroke-width="2.0"/>
<path d="M465.4,72.7 C465.1,58.3 471.8,52.7 486.0,56.6" stroke="#e4fafa" stroke-width="0.6" transform="translate(-0.4,-0.4)"/>
<path d="M437.7,86.1 C443.2,102.0 454.2,102.8 470.7,104.4" stroke="#58a8a8" stroke-width="3.1"/>
<path d="M437.7,86.1 C443.2,102.0 454.2,102.8 470.7,104.4" stroke="#a8e6e6" stroke-width="2.0"/>
<path d="M437.7,86.1 C443.2,102.0 454.2,102.8 470.7,104.4" stroke="#e4fafa" stroke-width="0.6" transform="translate(-0.4,-0.4)"/>
<path d="M493.6,90.1 C483.3,99.1 471.2,98.6 458.6,96.6" stroke="#58a8a8" stroke-width="3.1"/>
<path d="M493.6,90.1 C483.3,99.1 471.2,98.6 458.6,96.6" stroke="#a8e6e6" stroke-width="2.0"/>
<path d="M493.6,90.1 C483.3,99.1 471.2,98.6 458.6,96.6" stroke="#e4fafa" stroke-width="0.6" transform="translate(-0.4,-0.4)"/>
<path d="M464.3,90.8 C462.8,78.9 469.3,75.5 479.4,78.4" stroke="#58a8a8" stroke-width="3.1"/>
<path d="M464.3,90.8 C462.8,78.9 469.3,75.5 479.4,78.4" stroke="#a8e6e6" stroke-width="2.0"/>
<path d="M464.3,90.8 C462.8,78.9 469.3,75.5 479.4,78.4" stroke="#e4fafa" stroke-width="0.6" transform="translate(-0.4,-0.4)"/>
<path d="M454.0,53.3 C459.9,55.5 465.6,57.7 471.6,60.1" stroke="#58a8a8" stroke-width="3.1"/>
<path d="M454.0,53.3 C459.9,55.5 465.6,57.7 471.6,60.1" stroke="#a8e6e6" stroke-width="2.0"/>
<path d="M454.0,53.3 C459.9,55.5 465.6,57.7 471.6,60.1" stroke="#e4fafa" stroke-width="0.6" transform="translate(-0.4,-0.4)"/>
<path d="M524.4,81.5 C510.3,79.9 502.2,90.7 496.6,99.6" stroke="#58a8a8" stroke-width="3.1"/>
<path d="M524.4,81.5 C510.3,79.9 502.2,90.7 496.6,99.6" stroke="#a8e6e6" stroke-width="2.0"/>
<path d="M524.4,81.5 C510.3,79.9 502.2,90.7 496.6,99.6" stroke="#e4fafa" stroke-width="0.6" transform="translate(-0.4,-0.4)"/>
<path d="M471.9,76.4 C472.4,86.3 470.5,96.2 469.0,106.1" stroke="#58a8a8" stroke-width="3.1"/>
<path d="M471.9,76.4 C472.4,86.3 470.5,96.2 469.0,106.1" stroke="#a8e6e6" stroke-width="2.0"/>
<path d="M471.9,76.4 C472.4,86.3 470.5,96.2 469.0,106.1" stroke="#e4fafa" stroke-width="0.6" transform="translate(-0.4,-0.4)"/>
<path d="M530.4,64.6 C523.5,65.5 519.2,69.7 516.2,75.8" stroke="#58a8a8" stroke-width="3.1"/>
<path d="M530.4,64.6 C523.5,65.5 519.2,69.7 516.2,75.8" stroke="#a8e6e6" stroke-width="2.0"/>
<path d="M530.4,64.6 C523.5,65.5 519.2,69.7 516.2,75.8" stroke="#e4fafa" stroke-width="0.6" transform="translate(-0.4,-0.4)"/>
<path d="M457.6,102.1 C447.1,87.5 455.9,78.5 468.5,75.6" stroke="#58a8a8" stroke-width="3.1"/>
<path d="M457.6,102.1 C447.1,87.5 455.9,78.5 468.5,75.6" stroke="#a8e6e6" stroke-width="2.0"/>
<path d="M457.6,102.1 C447.1,87.5 455.9,78.5 468.5,75.6" stroke="#e4fafa" stroke-width="0.6" transform="translate(-0.4,-0.4)"/>
<path d="M483.5,73.5 C473.0,77.3 465.1,83.8 459.0,93.8" stroke="#58a8a8" stroke-width="3.1"/>
<path d="M483.5,73.5 C473.0,77.3 465.1,83.8 459.0,93.8" stroke="#a8e6e6" stroke-width="2.0"/>
<path d="M483.5,73.5 C473.0,77.3 465.1,83.8 459.0,93.8" stroke="#e4fafa" stroke-width="0.6" transform="translate(-0.4,-0.4)"/>
<path d="M455.7,77.2 C458.9,68.8 455.2,61.6 450.4,55.1" stroke="#58a8a8" stroke-width="3.1"/>
<path d="M455.7,77.2 C458.9,68.8 455.2,61.6 450.4,55.1" stroke="#a8e6e6" stroke-width="2.0"/>
<path d="M455.7,77.2 C458.9,68.8 455.2,61.6 450.4,55.1" stroke="#e4fafa" stroke-width="0.6" transform="translate(-0.4,-0.4)"/>
<path d="M502.2,68.4 C506.1,82.0 518.2,90.4 528.9,94.6" stroke="#58a8a8" stroke-width="3.1"/>
<path d="M502.2,68.4 C506.1,82.0 518.2,90.4 528.9,94.6" stroke="#a8e6e6" stroke-width="2.0"/>
<path d="M502.2,68.4 C506.1,82.0 518.2,90.4 528.9,94.6" stroke="#e4fafa" stroke-width="0.6" transform="translate(-0.4,-0.4)"/>
<path d="M492.5,71.6 C479.5,77.5 466.6,76.7 453.3,71.4" stroke="#58a8a8" stroke-width="3.1"/>
<path d="M492.5,71.6 C479.5,77.5 466.6,76.7 453.3,71.4" stroke="#a8e6e6" stroke-width="2.0"/>
<path d="M492.5,71.6 C479.5,77.5 466.6,76.7 453.3,71.4" stroke="#e4fafa" stroke-width="0.6" transform="translate(-0.4,-0.4)"/>
<path d="M459.0,87.9 C464.0,93.9 470.0,97.7 477.5,100.7" stroke="#58a8a8" stroke-width="3.1"/>
<path d="M459.0,87.9 C464.0,93.9 470.0,97.7 477.5,100.7" stroke="#a8e6e6" stroke-width="2.0"/>
<path d="M459.0,87.9 C464.0,93.9 470.0,97.7 477.5,100.7" stroke="#e4fafa" stroke-width="0.6" transform="translate(-0.4,-0.4)"/>
<path d="M468.4,94.7 C471.5,82.1 461.4,77.2 453.6,72.7" stroke="#58a8a8" stroke-width="3.1"/>
<path d="M468.4,94.7 C471.5,82.1 461.4,77.2 453.6,72.7" stroke="#a8e6e6" stroke-width="2.0"/>
<path d="M468.4,94.7 C471.5,82.1 461.4,77.2 453.6,72.7" stroke="#e4fafa" stroke-width="0.6" transform="translate(-0.4,-0.4)"/>
<path d="M450.2,57.4 C459.8,62.6 467.3,70.2 475.0,78.5" stroke="#58a8a8" stroke-width="3.1"/>
<path d="M450.2,57.4 C459.8,62.6 467.3,70.2 475.0,78.5" stroke="#a8e6e6" stroke-width="2.0"/>
<path d="M450.2,57.4 C459.8,62.6 467.3,70.2 475.0,78.5" stroke="#e4fafa" stroke-width="0.6" transform="translate(-0.4,-0.4)"/>
<path d="M481.0,83.4 C476.3,89.1 471.4,94.6 466.3,100.3" stroke="#58a8a8" stroke-width="3.1"/>
<path d="M481.0,83.4 C476.3,89.1 471.4,94.6 466.3,100.3" stroke="#a8e6e6" stroke-width="2.0"/>
<path d="M481.0,83.4 C476.3,89.1 471.4,94.6 466.3,100.3" stroke="#e4fafa" stroke-width="0.6" transform="translate(-0.4,-0.4)"/>
<path d="M503.6,68.4 C504.8,87.7 492.2,93.9 477.2,89.8" stroke="#58a8a8" stroke-width="3.1"/>
<path d="M503.6,68.4 C504.8,87.7 492.2,93.9 477.2,89.8" stroke="#a8e6e6" stroke-width="2.0"/>
<path d="M503.6,68.4 C504.8,87.7 492.2,93.9 477.2,89.8" stroke="#e4fafa" stroke-width="0.6" transform="translate(-0.4,-0.4)"/>
<path d="M469.5,91.4 C480.3,87.6 478.4,79.0 479.5,69.4" stroke="#58a8a8" stroke-width="3.1"/>
<path d="M469.5,91.4 C480.3,87.6 478.4,79.0 479.5,69.4" stroke="#a8e6e6" stroke-width="2.0"/>
<path d="M469.5,91.4 C480.3,87.6 478.4,79.0 479.5,69.4" stroke="#e4fafa" stroke-width="0.6" transform="translate(-0.4,-0.4)"/>
<path d="M451.9,61.3 C446.7,68.8 451.7,74.5 456.1,79.4" stroke="#58a8a8" stroke-width="3.1"/>
<path d="M451.9,61.3 C446.7,68.8 451.7,74.5 456.1,79.4" stroke="#a8e6e6" stroke-width="2.0"/>
<path d="M451.9,61.3 C446.7,68.8 451.7,74.5 456.1,79.4" stroke="#e4fafa" stroke-width="0.6" transform="translate(-0.4,-0.4)"/>
<path d="M465.3,51.5 C458.0,62.1 459.2,70.7 470.9,77.7" stroke="#58a8a8" stroke-width="3.1"/>
<path d="M465.3,51.5 C458.0,62.1 459.2,70.7 470.9,77.7" stroke="#a8e6e6" stroke-width="2.0"/>
<path d="M465.3,51.5 C458.0,62.1 459.2,70.7 470.9,77.7" stroke="#e4fafa" stroke-width="0.6" transform="translate(-0.4,-0.4)"/>
</g>
<g fill="#d8141c"><circle cx="505.1" cy="63.1" r="1.35"/><circle cx="467.5" cy="66.9" r="1.35"/><circle cx="477.9" cy="102.2" r="1.35"/><circle cx="480.4" cy="91.0" r="1.35"/><circle cx="510.2" cy="59.6" r="1.35"/><circle cx="445.8" cy="92.3" r="1.35"/><circle cx="453.4" cy="82.0" r="1.35"/><circle cx="449.1" cy="97.9" r="1.35"/><circle cx="504.5" cy="49.9" r="1.35"/><circle cx="466.5" cy="56.8" r="1.35"/><circle cx="496.5" cy="87.1" r="1.35"/><circle cx="526.8" cy="75.3" r="1.35"/><circle cx="490.8" cy="70.5" r="1.35"/><circle cx="493.8" cy="72.7" r="1.35"/><circle cx="478.5" cy="94.5" r="1.35"/><circle cx="455.2" cy="66.5" r="1.35"/><circle cx="508.3" cy="61.9" r="1.35"/><circle cx="444.3" cy="104.5" r="1.35"/><circle cx="452.7" cy="73.5" r="1.35"/><circle cx="466.8" cy="64.2" r="1.35"/><circle cx="470.4" cy="81.3" r="1.35"/><circle cx="448.7" cy="81.1" r="1.35"/><circle cx="456.6" cy="62.9" r="1.35"/><circle cx="469.4" cy="66.1" r="1.35"/><circle cx="515.0" cy="88.8" r="1.35"/><circle cx="481.5" cy="95.8" r="1.35"/><circle cx="501.1" cy="67.6" r="1.35"/><circle cx="494.7" cy="94.2" r="1.35"/><circle cx="487.2" cy="94.7" r="1.35"/><circle cx="462.3" cy="89.6" r="1.35"/><circle cx="527.9" cy="80.7" r="1.35"/><circle cx="521.3" cy="53.9" r="1.35"/><circle cx="504.6" cy="64.5" r="1.35"/><circle cx="507.0" cy="74.3" r="1.35"/><circle cx="487.2" cy="63.4" r="1.35"/><circle cx="461.6" cy="101.7" r="1.35"/><circle cx="497.2" cy="87.0" r="1.35"/><circle cx="448.6" cy="66.2" r="1.35"/><circle cx="527.1" cy="60.6" r="1.35"/><circle cx="487.5" cy="91.2" r="1.35"/><circle cx="485.0" cy="82.4" r="1.35"/><circle cx="459.8" cy="74.7" r="1.35"/><circle cx="476.6" cy="90.4" r="1.35"/><circle cx="500.1" cy="64.2" r="1.35"/><circle cx="501.7" cy="74.7" r="1.35"/><circle cx="439.4" cy="66.1" r="1.35"/><circle cx="472.7" cy="60.2" r="1.35"/><circle cx="523.7" cy="87.0" r="1.35"/><circle cx="516.9" cy="78.5" r="1.35"/><circle cx="443.5" cy="70.5" r="1.35"/><circle cx="472.4" cy="69.1" r="1.35"/><circle cx="477.4" cy="51.5" r="1.35"/><circle cx="459.5" cy="59.5" r="1.35"/><circle cx="468.8" cy="97.4" r="1.35"/><circle cx="458.8" cy="95.8" r="1.35"/><circle cx="453.9" cy="84.9" r="1.35"/><circle cx="504.3" cy="89.8" r="1.35"/><circle cx="516.0" cy="77.8" r="1.35"/><circle cx="517.1" cy="85.3" r="1.35"/><circle cx="453.5" cy="72.6" r="1.35"/></g>
<line x1="403.1" y1="104.8" x2="463.0" y2="126.0" stroke="#c8c8c8" stroke-width="0.6" />
<line x1="463.0" y1="126.0" x2="532.7" y2="107.9" stroke="#c8c8c8" stroke-width="0.6" />
<line x1="463.0" y1="44.0" x2="463.0" y2="126.0" stroke="#c8c8c8" stroke-width="0.6" />
<line x1="507.0" y1="33.6" x2="532.7" y2="36.7" stroke="#c8c8c8" stroke-width="0.6" />
<line x1="506.0" y1="104.0" x2="532.7" y2="107.9" stroke="#c8c8c8" stroke-width="0.6" />
</g>
<g transform="translate(0,126.5)">
<line x1="470.0" y1="29.6" x2="532.7" y2="36.7" stroke="#c8c8c8" stroke-width="0.6" />
<line x1="532.7" y1="36.7" x2="532.7" y2="107.9" stroke="#c8c8c8" stroke-width="0.6" />
<line x1="403.0" y1="104.8" x2="470.0" y2="97.0" stroke="#c8c8c8" stroke-width="0.6" />
<line x1="470.0" y1="97.0" x2="532.7" y2="107.9" stroke="#c8c8c8" stroke-width="0.6" />
<line x1="470.0" y1="29.6" x2="470.0" y2="97.0" stroke="#c8c8c8" stroke-width="0.6" />
<line x1="506.0" y1="38.0" x2="506.9" y2="97.1" stroke="#dcdcdc" stroke-width="0.35" />
<line x1="507.9" y1="38.2" x2="506.9" y2="104.0" stroke="#dcdcdc" stroke-width="0.35" />
<line x1="509.8" y1="38.4" x2="509.2" y2="97.0" stroke="#dcdcdc" stroke-width="0.35" />
<line x1="511.7" y1="38.6" x2="512.0" y2="98.8" stroke="#dcdcdc" stroke-width="0.35" />
<line x1="513.6" y1="38.8" x2="514.4" y2="97.9" stroke="#dcdcdc" stroke-width="0.35" />
<line x1="515.5" y1="39.0" x2="516.4" y2="98.6" stroke="#dcdcdc" stroke-width="0.35" />
<line x1="517.4" y1="39.2" x2="517.6" y2="103.5" stroke="#dcdcdc" stroke-width="0.35" />
<line x1="519.3" y1="39.4" x2="519.7" y2="103.4" stroke="#dcdcdc" stroke-width="0.35" />
<line x1="521.2" y1="39.6" x2="521.6" y2="96.4" stroke="#dcdcdc" stroke-width="0.35" />
<line x1="523.1" y1="39.8" x2="523.9" y2="100.7" stroke="#dcdcdc" stroke-width="0.35" />
<line x1="525.0" y1="40.0" x2="524.6" y2="97.5" stroke="#dcdcdc" stroke-width="0.35" />
<line x1="526.9" y1="40.2" x2="527.6" y2="100.7" stroke="#dcdcdc" stroke-width="0.35" />
<line x1="528.8" y1="40.4" x2="529.7" y2="102.2" stroke="#dcdcdc" stroke-width="0.35" />
<line x1="530.7" y1="40.6" x2="531.6" y2="100.5" stroke="#dcdcdc" stroke-width="0.35" />
<polygon points="401.7,36.1 470,29.6 507,33.6 437.9,42.2" fill="url(#topg)"/>
<polygon points="401.7,36.1 437.9,42.2 439.4,117 403.1,104.8" fill="url(#leftg)"/>
<polygon points="437.9,42.2 507,33.6 506,104 439.4,117" fill="url(#frontg)"/>
<g filter="url(#blur1)">
<ellipse cx="406" cy="58" rx="2.5" ry="3.5" fill="#f06a2a" opacity="0.85"/>
<ellipse cx="412" cy="50" rx="2" ry="2" fill="#f06a2a" opacity="0.85"/>
<ellipse cx="419" cy="62" rx="3.5" ry="2.5" fill="#f06a2a" opacity="0.85"/>
<ellipse cx="409" cy="70" rx="2.5" ry="2" fill="#f06a2a" opacity="0.85"/>
<ellipse cx="427" cy="64" rx="3" ry="3.5" fill="#f06a2a" opacity="0.85"/>
<ellipse cx="432" cy="52" rx="2.5" ry="3" fill="#f06a2a" opacity="0.85"/>
<ellipse cx="417" cy="76" rx="2.5" ry="2" fill="#f06a2a" opacity="0.85"/>
<ellipse cx="405" cy="76" rx="2" ry="2.5" fill="#f06a2a" opacity="0.85"/>
<ellipse cx="429" cy="78" rx="2" ry="1.6" fill="#f06a2a" opacity="0.85"/>
<ellipse cx="452" cy="66" rx="4" ry="3" fill="#f06a2a" opacity="0.85"/>
<ellipse cx="470" cy="62" rx="3" ry="2.5" fill="#f06a2a" opacity="0.85"/>
<ellipse cx="490" cy="64" rx="3" ry="3" fill="#f06a2a" opacity="0.85"/>
</g>
<path filter="url(#blur1)" d="M402.4,80 C406,78 410,79 414,82 C418,86 420,93 426,97 C430,99 434,98 438.8,95 L439.4,117 L403.1,104.8 Z" fill="url(#cyang)"/>
<path filter="url(#blur1)" d="M439,70 C450,66 460,74 470,68 C480,64 492,72 506,66 L506,104 L439.4,117 Z" fill="url(#cyang2)"/>
<line x1="440.0" y1="44.0" x2="440.0" y2="59.2" stroke="#e8d020" stroke-width="0.4" opacity="0.7"/>
<line x1="442.2" y1="43.7" x2="442.2" y2="58.7" stroke="#e8d020" stroke-width="0.4" opacity="0.7"/>
<line x1="444.4" y1="43.5" x2="444.4" y2="56.6" stroke="#e8d020" stroke-width="0.4" opacity="0.7"/>
<line x1="446.6" y1="43.2" x2="446.6" y2="60.7" stroke="#e8d020" stroke-width="0.4" opacity="0.7"/>
<line x1="448.8" y1="42.9" x2="448.8" y2="56.9" stroke="#e8d020" stroke-width="0.4" opacity="0.7"/>
<line x1="451.0" y1="42.6" x2="451.0" y2="59.7" stroke="#e8d020" stroke-width="0.4" opacity="0.7"/>
<line x1="453.2" y1="42.4" x2="453.2" y2="60.7" stroke="#e8d020" stroke-width="0.4" opacity="0.7"/>
<line x1="455.4" y1="42.1" x2="455.4" y2="58.9" stroke="#e8d020" stroke-width="0.4" opacity="0.7"/>
<line x1="457.6" y1="41.8" x2="457.6" y2="55.9" stroke="#e8d020" stroke-width="0.4" opacity="0.7"/>
<line x1="459.8" y1="41.6" x2="459.8" y2="60.0" stroke="#e8d020" stroke-width="0.4" opacity="0.7"/>
<line x1="462.0" y1="41.3" x2="462.0" y2="59.0" stroke="#e8d020" stroke-width="0.4" opacity="0.7"/>
<line x1="464.2" y1="41.0" x2="464.2" y2="56.1" stroke="#e8d020" stroke-width="0.4" opacity="0.7"/>
<line x1="466.4" y1="40.8" x2="466.4" y2="55.3" stroke="#e8d020" stroke-width="0.4" opacity="0.7"/>
<line x1="468.6" y1="40.5" x2="468.6" y2="58.2" stroke="#e8d020" stroke-width="0.4" opacity="0.7"/>
<line x1="470.8" y1="40.2" x2="470.8" y2="55.2" stroke="#e8d020" stroke-width="0.4" opacity="0.7"/>
<line x1="473.0" y1="40.0" x2="473.0" y2="60.6" stroke="#e8d020" stroke-width="0.4" opacity="0.7"/>
<line x1="475.2" y1="39.7" x2="475.2" y2="58.0" stroke="#e8d020" stroke-width="0.4" opacity="0.7"/>
<line x1="477.4" y1="39.4" x2="477.4" y2="58.1" stroke="#e8d020" stroke-width="0.4" opacity="0.7"/>
<line x1="479.6" y1="39.1" x2="479.6" y2="57.5" stroke="#e8d020" stroke-width="0.4" opacity="0.7"/>
<line x1="481.8" y1="38.9" x2="481.8" y2="59.0" stroke="#e8d020" stroke-width="0.4" opacity="0.7"/>
<line x1="484.0" y1="38.6" x2="484.0" y2="60.5" stroke="#e8d020" stroke-width="0.4" opacity="0.7"/>
<line x1="486.2" y1="38.3" x2="486.2" y2="56.8" stroke="#e8d020" stroke-width="0.4" opacity="0.7"/>
<line x1="488.4" y1="38.1" x2="488.4" y2="57.2" stroke="#e8d020" stroke-width="0.4" opacity="0.7"/>
<line x1="490.6" y1="37.8" x2="490.6" y2="58.5" stroke="#e8d020" stroke-width="0.4" opacity="0.7"/>
<line x1="492.8" y1="37.5" x2="492.8" y2="56.8" stroke="#e8d020" stroke-width="0.4" opacity="0.7"/>
<line x1="495.0" y1="37.2" x2="495.0" y2="58.6" stroke="#e8d020" stroke-width="0.4" opacity="0.7"/>
<line x1="497.2" y1="37.0" x2="497.2" y2="58.3" stroke="#e8d020" stroke-width="0.4" opacity="0.7"/>
<line x1="499.4" y1="36.7" x2="499.4" y2="57.6" stroke="#e8d020" stroke-width="0.4" opacity="0.7"/>
<line x1="501.6" y1="36.4" x2="501.6" y2="59.0" stroke="#e8d020" stroke-width="0.4" opacity="0.7"/>
<line x1="503.8" y1="36.2" x2="503.8" y2="58.2" stroke="#e8d020" stroke-width="0.4" opacity="0.7"/>
<g fill="none" stroke-linecap="round">
<path d="M469.8,70.3 C447.4,60.5 439.9,73.6 438.3,92.4" stroke="#58a8a8" stroke-width="3.1"/>
<path d="M469.8,70.3 C447.4,60.5 439.9,73.6 438.3,92.4" stroke="#a8e6e6" stroke-width="2.0"/>
<path d="M469.8,70.3 C447.4,60.5 439.9,73.6 438.3,92.4" stroke="#e4fafa" stroke-width="0.6" transform="translate(-0.4,-0.4)"/>
<path d="M483.4,80.0 C477.9,63.3 465.0,57.1 449.0,59.8" stroke="#58a8a8" stroke-width="3.1"/>
<path d="M483.4,80.0 C477.9,63.3 465.0,57.1 449.0,59.8" stroke="#a8e6e6" stroke-width="2.0"/>
<path d="M483.4,80.0 C477.9,63.3 465.0,57.1 449.0,59.8" stroke="#e4fafa" stroke-width="0.6" transform="translate(-0.4,-0.4)"/>
<path d="M468.7,102.2 C470.2,78.8 484.2,72.2 501.1,85.7" stroke="#58a8a8" stroke-width="3.1"/>
<path d="M468.7,102.2 C470.2,78.8 484.2,72.2 501.1,85.7" stroke="#a8e6e6" stroke-width="2.0"/>
<path d="M468.7,102.2 C470.2,78.8 484.2,72.2 501.1,85.7" stroke="#e4fafa" stroke-width="0.6" transform="translate(-0.4,-0.4)"/>
<path d="M480.1,51.1 C493.4,57.5 493.1,66.1 483.0,74.8" stroke="#58a8a8" stroke-width="3.1"/>
<path d="M480.1,51.1 C493.4,57.5 493.1,66.1 483.0,74.8" stroke="#a8e6e6" stroke-width="2.0"/>
<path d="M480.1,51.1 C493.4,57.5 493.1,66.1 483.0,74.8" stroke="#e4fafa" stroke-width="0.6" transform="translate(-0.4,-0.4)"/>
<path d="M450.5,83.6 C458.1,76.5 464.8,68.3 471.1,60.1" stroke="#58a8a8" stroke-width="3.1"/>
<path d="M450.5,83.6 C458.1,76.5 464.8,68.3 471.1,60.1" stroke="#a8e6e6" stroke-width="2.0"/>
<path d="M450.5,83.6 C458.1,76.5 464.8,68.3 471.1,60.1" stroke="#e4fafa" stroke-width="0.6" transform="translate(-0.4,-0.4)"/>
<path d="M452.9,78.0 C463.0,69.5 474.9,64.9 488.1,63.6" stroke="#58a8a8" stroke-width="3.1"/>
<path d="M452.9,78.0 C463.0,69.5 474.9,64.9 488.1,63.6" stroke="#a8e6e6" stroke-width="2.0"/>
<path d="M452.9,78.0 C463.0,69.5 474.9,64.9 488.1,63.6" stroke="#e4fafa" stroke-width="0.6" transform="translate(-0.4,-0.4)"/>
<path d="M498.0,58.7 C508.6,68.7 508.7,75.2 493.4,81.5" stroke="#58a8a8" stroke-width="3.1"/>
<path d="M498.0,58.7 C508.6,68.7 508.7,75.2 493.4,81.5" stroke="#a8e6e6" stroke-width="2.0"/>
<path d="M498.0,58.7 C508.6,68.7 508.7,75.2 493.4,81.5" stroke="#e4fafa" stroke-width="0.6" transform="translate(-0.4,-0.4)"/>
<path d="M481.3,68.6 C480.7,83.0 472.1,92.9 459.5,97.0" stroke="#58a8a8" stroke-width="3.1"/>
<path d="M481.3,68.6 C480.7,83.0 472.1,92.9 459.5,97.0" stroke="#a8e6e6" stroke-width="2.0"/>
<path d="M481.3,68.6 C480.7,83.0 472.1,92.9 459.5,97.0" stroke="#e4fafa" stroke-width="0.6" transform="translate(-0.4,-0.4)"/>
<path d="M484.8,47.8 C494.0,49.7 497.1,57.7 501.0,64.6" stroke="#58a8a8" stroke-width="3.1"/>
<path d="M484.8,47.8 C494.0,49.7 497.1,57.7 501.0,64.6" stroke="#a8e6e6" stroke-width="2.0"/>
<path d="M484.8,47.8 C494.0,49.7 497.1,57.7 501.0,64.6" stroke="#e4fafa" stroke-width="0.6" transform="translate(-0.4,-0.4)"/>
<path d="M491.4,73.2 C490.2,65.7 486.0,61.4 478.4,59.2" stroke="#58a8a8" stroke-width="3.1"/>
<path d="M491.4,73.2 C490.2,65.7 486.0,61.4 478.4,59.2" stroke="#a8e6e6" stroke-width="2.0"/>
<path d="M491.4,73.2 C490.2,65.7 486.0,61.4 478.4,59.2" stroke="#e4fafa" stroke-width="0.6" transform="translate(-0.4,-0.4)"/>
<path d="M470.3,55.0 C477.3,47.3 483.7,47.7 490.0,56.3" stroke="#58a8a8" stroke-width="3.1"/>
<path d="M470.3,55.0 C477.3,47.3 483.7,47.7 490.0,56.3" stroke="#a8e6e6" stroke-width="2.0"/>
<path d="M470.3,55.0 C477.3,47.3 483.7,47.7 490.0,56.3" stroke="#e4fafa" stroke-width="0.6" transform="translate(-0.4,-0.4)"/>
<path d="M491.6,56.8 C475.2,68.9 482.7,79.4 493.8,89.9" stroke="#58a8a8" stroke-width="3.1"/>
<path d="M491.6,56.8 C475.2,68.9 482.7,79.4 493.8,89.9" stroke="#a8e6e6" stroke-width="2.0"/>
<path d="M491.6,56.8 C475.2,68.9 482.7,79.4 493.8,89.9" stroke="#e4fafa" stroke-width="0.6" transform="translate(-0.4,-0.4)"/>
<path d="M491.1,48.9 C482.2,47.3 478.3,51.6 473.2,59.4" stroke="#58a8a8" stroke-width="3.1"/>
<path d="M491.1,48.9 C482.2,47.3 478.3,51.6 473.2,59.4" stroke="#a8e6e6" stroke-width="2.0"/>
<path d="M491.1,48.9 C482.2,47.3 478.3,51.6 473.2,59.4" stroke="#e4fafa" stroke-width="0.6" transform="translate(-0.4,-0.4)"/>
<path d="M503.8,49.5 C506.3,59.0 513.8,63.1 521.7,68.6" stroke="#58a8a8" stroke-width="3.1"/>
<path d="M503.8,49.5 C506.3,59.0 513.8,63.1 521.7,68.6" stroke="#a8e6e6" stroke-width="2.0"/>
<path d="M503.8,49.5 C506.3,59.0 513.8,63.1 521.7,68.6" stroke="#e4fafa" stroke-width="0.6" transform="translate(-0.4,-0.4)"/>
<path d="M478.8,98.2 C468.0,102.5 460.9,93.8 458.5,87.4" stroke="#58a8a8" stroke-width="3.1"/>
<path d="M478.8,98.2 C468.0,102.5 460.9,93.8 458.5,87.4" stroke="#a8e6e6" stroke-width="2.0"/>
<path d="M478.8,98.2 C468.0,102.5 460.9,93.8 458.5,87.4" stroke="#e4fafa" stroke-width="0.6" transform="translate(-0.4,-0.4)"/>
<path d="M523.4,72.5 C516.7,74.6 511.7,79.7 508.7,85.4" stroke="#58a8a8" stroke-width="3.1"/>
<path d="M523.4,72.5 C516.7,74.6 511.7,79.7 508.7,85.4" stroke="#a8e6e6" stroke-width="2.0"/>
<path d="M523.4,72.5 C516.7,74.6 511.7,79.7 508.7,85.4" stroke="#e4fafa" stroke-width="0.6" transform="translate(-0.4,-0.4)"/>
<path d="M463.4,89.4 C459.9,80.9 462.5,75.0 469.3,68.4" stroke="#58a8a8" stroke-width="3.1"/>
<path d="M463.4,89.4 C459.9,80.9 462.5,75.0 469.3,68.4" stroke="#a8e6e6" stroke-width="2.0"/>
<path d="M463.4,89.4 C459.9,80.9 462.5,75.0 469.3,68.4" stroke="#e4fafa" stroke-width="0.6" transform="translate(-0.4,-0.4)"/>
<path d="M480.5,48.3 C496.4,51.3 501.1,61.8 490.5,73.0" stroke="#58a8a8" stroke-width="3.1"/>
<path d="M480.5,48.3 C496.4,51.3 501.1,61.8 490.5,73.0" stroke="#a8e6e6" stroke-width="2.0"/>
<path d="M480.5,48.3 C496.4,51.3 501.1,61.8 490.5,73.0" stroke="#e4fafa" stroke-width="0.6" transform="translate(-0.4,-0.4)"/>
<path d="M457.7,62.0 C449.6,62.1 444.6,65.4 439.4,72.9" stroke="#58a8a8" stroke-width="3.1"/>
<path d="M457.7,62.0 C449.6,62.1 444.6,65.4 439.4,72.9" stroke="#a8e6e6" stroke-width="2.0"/>
<path d="M457.7,62.0 C449.6,62.1 444.6,65.4 439.4,72.9" stroke="#e4fafa" stroke-width="0.6" transform="translate(-0.4,-0.4)"/>
<path d="M504.3,96.9 C505.2,87.4 507.6,78.3 510.8,69.0" stroke="#58a8a8" stroke-width="3.1"/>
<path d="M504.3,96.9 C505.2,87.4 507.6,78.3 510.8,69.0" stroke="#a8e6e6" stroke-width="2.0"/>
<path d="M504.3,96.9 C505.2,87.4 507.6,78.3 510.8,69.0" stroke="#e4fafa" stroke-width="0.6" transform="translate(-0.4,-0.4)"/>
<path d="M484.8,50.1 C489.1,59.2 481.9,64.1 476.6,67.3" stroke="#58a8a8" stroke-width="3.1"/>
<path d="M484.8,50.1 C489.1,59.2 481.9,64.1 476.6,67.3" stroke="#a8e6e6" stroke-width="2.0"/>
<path d="M484.8,50.1 C489.1,59.2 481.9,64.1 476.6,67.3" stroke="#e4fafa" stroke-width="0.6" transform="translate(-0.4,-0.4)"/>
<path d="M484.2,85.9 C490.9,96.0 499.5,91.9 508.7,89.7" stroke="#58a8a8" stroke-width="3.1"/>
<path d="M484.2,85.9 C490.9,96.0 499.5,91.9 508.7,89.7" stroke="#a8e6e6" stroke-width="2.0"/>
<path d="M484.2,85.9 C490.9,96.0 499.5,91.9 508.7,89.7" stroke="#e4fafa" stroke-width="0.6" transform="translate(-0.4,-0.4)"/>
<path d="M464.1,87.8 C464.9,73.4 474.9,65.2 485.7,57.9" stroke="#58a8a8" stroke-width="3.1"/>
<path d="M464.1,87.8 C464.9,73.4 474.9,65.2 485.7,57.9" stroke="#a8e6e6" stroke-width="2.0"/>
<path d="M464.1,87.8 C464.9,73.4 474.9,65.2 485.7,57.9" stroke="#e4fafa" stroke-width="0.6" transform="translate(-0.4,-0.4)"/>
<path d="M458.3,70.2 C460.4,83.3 469.1,86.0 480.6,84.2" stroke="#58a8a8" stroke-width="3.1"/>
<path d="M458.3,70.2 C460.4,83.3 469.1,86.0 480.6,84.2" stroke="#a8e6e6" stroke-width="2.0"/>
<path d="M458.3,70.2 C460.4,83.3 469.1,86.0 480.6,84.2" stroke="#e4fafa" stroke-width="0.6" transform="translate(-0.4,-0.4)"/>
<path d="M469.6,75.8 C458.0,58.9 447.1,62.9 436.6,77.0" stroke="#58a8a8" stroke-width="3.1"/>
<path d="M469.6,75.8 C458.0,58.9 447.1,62.9 436.6,77.0" stroke="#a8e6e6" stroke-width="2.0"/>
<path d="M469.6,75.8 C458.0,58.9 447.1,62.9 436.6,77.0" stroke="#e4fafa" stroke-width="0.6" transform="translate(-0.4,-0.4)"/>
<path d="M492.4,66.6 C485.0,76.8 475.2,82.2 462.0,83.5" stroke="#58a8a8" stroke-width="3.1"/>
<path d="M492.4,66.6 C485.0,76.8 475.2,82.2 462.0,83.5" stroke="#a8e6e6" stroke-width="2.0"/>
<path d="M492.4,66.6 C485.0,76.8 475.2,82.2 462.0,83.5" stroke="#e4fafa" stroke-width="0.6" transform="translate(-0.4,-0.4)"/>
<path d="M490.1,63.5 C499.7,74.5 510.4,75.5 522.5,67.2" stroke="#58a8a8" stroke-width="3.1"/>
<path d="M490.1,63.5 C499.7,74.5 510.4,75.5 522.5,67.2" stroke="#a8e6e6" stroke-width="2.0"/>
<path d="M490.1,63.5 C499.7,74.5 510.4,75.5 522.5,67.2" stroke="#e4fafa" stroke-width="0.6" transform="translate(-0.4,-0.4)"/>
<path d="M518.5,67.5 C513.8,76.0 506.9,73.7 499.8,71.5" stroke="#58a8a8" stroke-width="3.1"/>
<path d="M518.5,67.5 C513.8,76.0 506.9,73.7 499.8,71.5" stroke="#a8e6e6" stroke-width="2.0"/>
<path d="M518.5,67.5 C513.8,76.0 506.9,73.7 499.8,71.5" stroke="#e4fafa" stroke-width="0.6" transform="translate(-0.4,-0.4)"/>
<path d="M457.8,85.6 C457.6,93.0 456.1,100.0 453.1,107.1" stroke="#58a8a8" stroke-width="3.1"/>
<path d="M457.8,85.6 C457.6,93.0 456.1,100.0 453.1,107.1" stroke="#a8e6e6" stroke-width="2.0"/>
<path d="M457.8,85.6 C457.6,93.0 456.1,100.0 453.1,107.1" stroke="#e4fafa" stroke-width="0.6" transform="translate(-0.4,-0.4)"/>
<path d="M470.1,66.9 C477.0,76.1 472.4,84.1 466.7,91.5" stroke="#58a8a8" stroke-width="3.1"/>
<path d="M470.1,66.9 C477.0,76.1 472.4,84.1 466.7,91.5" stroke="#a8e6e6" stroke-width="2.0"/>
<path d="M470.1,66.9 C477.0,76.1 472.4,84.1 466.7,91.5" stroke="#e4fafa" stroke-width="0.6" transform="translate(-0.4,-0.4)"/>
<path d="M495.4,90.8 C498.3,73.0 510.1,70.9 524.4,75.8" stroke="#58a8a8" stroke-width="3.1"/>
<path d="M495.4,90.8 C498.3,73.0 510.1,70.9 524.4,75.8" stroke="#a8e6e6" stroke-width="2.0"/>
<path d="M495.4,90.8 C498.3,73.0 510.1,70.9 524.4,75.8" stroke="#e4fafa" stroke-width="0.6" transform="translate(-0.4,-0.4)"/>
<path d="M485.7,87.7 C474.4,95.4 470.2,88.1 464.2,79.2" stroke="#58a8a8" stroke-width="3.1"/>
<path d="M485.7,87.7 C474.4,95.4 470.2,88.1 464.2,79.2" stroke="#a8e6e6" stroke-width="2.0"/>
<path d="M485.7,87.7 C474.4,95.4 470.2,88.1 464.2,79.2" stroke="#e4fafa" stroke-width="0.6" transform="translate(-0.4,-0.4)"/>
<path d="M491.5,71.2 C477.6,73.3 468.0,69.4 457.8,57.3" stroke="#58a8a8" stroke-width="3.1"/>
<path d="M491.5,71.2 C477.6,73.3 468.0,69.4 457.8,57.3" stroke="#a8e6e6" stroke-width="2.0"/>
<path d="M491.5,71.2 C477.6,73.3 468.0,69.4 457.8,57.3" stroke="#e4fafa" stroke-width="0.6" transform="translate(-0.4,-0.4)"/>
<path d="M495.9,64.7 C489.6,67.3 484.2,71.5 479.6,76.6" stroke="#58a8a8" stroke-width="3.1"/>
<path d="M495.9,64.7 C489.6,67.3 484.2,71.5 479.6,76.6" stroke="#a8e6e6" stroke-width="2.0"/>
<path d="M495.9,64.7 C489.6,67.3 484.2,71.5 479.6,76.6" stroke="#e4fafa" stroke-width="0.6" transform="translate(-0.4,-0.4)"/>
<path d="M467.4,92.0 C476.2,77.4 487.4,77.0 500.7,86.1" stroke="#58a8a8" stroke-width="3.1"/>
<path d="M467.4,92.0 C476.2,77.4 487.4,77.0 500.7,86.1" stroke="#a8e6e6" stroke-width="2.0"/>
<path d="M467.4,92.0 C476.2,77.4 487.4,77.0 500.7,86.1" stroke="#e4fafa" stroke-width="0.6" transform="translate(-0.4,-0.4)"/>
<path d="M455.9,75.4 C473.8,61.1 484.7,67.4 494.0,86.5" stroke="#58a8a8" stroke-width="3.1"/>
<path d="M455.9,75.4 C473.8,61.1 484.7,67.4 494.0,86.5" stroke="#a8e6e6" stroke-width="2.0"/>
<path d="M455.9,75.4 C473.8,61.1 484.7,67.4 494.0,86.5" stroke="#e4fafa" stroke-width="0.6" transform="translate(-0.4,-0.4)"/>
<path d="M494.2,68.4 C488.9,57.6 492.9,53.8 504.3,50.8" stroke="#58a8a8" stroke-width="3.1"/>
<path d="M494.2,68.4 C488.9,57.6 492.9,53.8 504.3,50.8" stroke="#a8e6e6" stroke-width="2.0"/>
<path d="M494.2,68.4 C488.9,57.6 492.9,53.8 504.3,50.8" stroke="#e4fafa" stroke-width="0.6" transform="translate(-0.4,-0.4)"/>
<path d="M477.3,67.4 C488.9,79.1 499.4,79.0 508.9,64.5" stroke="#58a8a8" stroke-width="3.1"/>
<path d="M477.3,67.4 C488.9,79.1 499.4,79.0 508.9,64.5" stroke="#a8e6e6" stroke-width="2.0"/>
<path d="M477.3,67.4 C488.9,79.1 499.4,79.0 508.9,64.5" stroke="#e4fafa" stroke-width="0.6" transform="translate(-0.4,-0.4)"/>
<path d="M439.8,91.5 C438.9,84.8 440.9,78.9 445.0,73.3" stroke="#58a8a8" stroke-width="3.1"/>
<path d="M439.8,91.5 C438.9,84.8 440.9,78.9 445.0,73.3" stroke="#a8e6e6" stroke-width="2.0"/>
<path d="M439.8,91.5 C438.9,84.8 440.9,78.9 445.0,73.3" stroke="#e4fafa" stroke-width="0.6" transform="translate(-0.4,-0.4)"/>
<path d="M469.2,75.3 C461.1,73.1 454.7,69.0 448.8,62.3" stroke="#58a8a8" stroke-width="3.1"/>
<path d="M469.2,75.3 C461.1,73.1 454.7,69.0 448.8,62.3" stroke="#a8e6e6" stroke-width="2.0"/>
<path d="M469.2,75.3 C461.1,73.1 454.7,69.0 448.8,62.3" stroke="#e4fafa" stroke-width="0.6" transform="translate(-0.4,-0.4)"/>
</g>
<g fill="#d8141c"><circle cx="515.5" cy="59.0" r="1.35"/><circle cx="484.3" cy="94.6" r="1.35"/><circle cx="520.5" cy="80.9" r="1.35"/><circle cx="496.1" cy="88.0" r="1.35"/><circle cx="449.5" cy="92.4" r="1.35"/><circle cx="473.7" cy="65.3" r="1.35"/><circle cx="447.2" cy="104.5" r="1.35"/><circle cx="520.2" cy="80.8" r="1.35"/><circle cx="483.8" cy="60.7" r="1.35"/><circle cx="523.3" cy="95.0" r="1.35"/><circle cx="453.4" cy="83.6" r="1.35"/><circle cx="529.6" cy="64.3" r="1.35"/><circle cx="472.3" cy="70.5" r="1.35"/><circle cx="472.2" cy="55.3" r="1.35"/><circle cx="495.8" cy="63.2" r="1.35"/><circle cx="500.6" cy="77.0" r="1.35"/><circle cx="515.5" cy="94.3" r="1.35"/><circle cx="517.0" cy="57.6" r="1.35"/><circle cx="511.1" cy="96.0" r="1.35"/><circle cx="447.1" cy="95.9" r="1.35"/><circle cx="460.4" cy="72.9" r="1.35"/><circle cx="444.3" cy="87.8" r="1.35"/><circle cx="454.4" cy="104.4" r="1.35"/><circle cx="510.3" cy="57.7" r="1.35"/><circle cx="518.9" cy="94.6" r="1.35"/><circle cx="513.1" cy="81.1" r="1.35"/><circle cx="438.8" cy="90.1" r="1.35"/><circle cx="484.0" cy="57.2" r="1.35"/><circle cx="450.3" cy="102.9" r="1.35"/><circle cx="439.7" cy="91.3" r="1.35"/><circle cx="464.8" cy="101.9" r="1.35"/><circle cx="480.5" cy="92.2" r="1.35"/><circle cx="442.3" cy="96.1" r="1.35"/><circle cx="456.4" cy="74.6" r="1.35"/><circle cx="482.7" cy="68.1" r="1.35"/><circle cx="460.4" cy="75.8" r="1.35"/><circle cx="442.7" cy="57.8" r="1.35"/><circle cx="450.0" cy="100.9" r="1.35"/><circle cx="520.8" cy="58.2" r="1.35"/><circle cx="478.7" cy="78.0" r="1.35"/><circle cx="500.0" cy="78.4" r="1.35"/><circle cx="462.2" cy="93.4" r="1.35"/><circle cx="458.2" cy="71.8" r="1.35"/><circle cx="440.1" cy="68.1" r="1.35"/><circle cx="512.2" cy="56.6" r="1.35"/></g>
<g fill="#e0141c"><circle cx="502.7" cy="115.1" r="1.15"/><circle cx="498.7" cy="113.2" r="1.15"/><circle cx="477.4" cy="108.8" r="1.15"/><circle cx="493.9" cy="106.7" r="1.15"/><circle cx="498.0" cy="115.6" r="1.15"/><circle cx="513.5" cy="113.5" r="1.15"/><circle cx="463.9" cy="116.0" r="1.15"/><circle cx="512.7" cy="118.5" r="1.15"/><circle cx="463.4" cy="118.4" r="1.15"/><circle cx="444.7" cy="115.8" r="1.15"/><circle cx="473.4" cy="111.7" r="1.15"/><circle cx="501.9" cy="113.6" r="1.15"/><circle cx="441.7" cy="116.0" r="1.15"/><circle cx="443.1" cy="115.0" r="1.15"/><circle cx="490.7" cy="114.4" r="1.15"/><circle cx="435.5" cy="116.0" r="1.15"/><circle cx="465.3" cy="111.3" r="1.15"/><circle cx="454.2" cy="116.7" r="1.15"/><circle cx="461.6" cy="120.5" r="1.15"/><circle cx="462.1" cy="116.4" r="1.15"/><circle cx="446.1" cy="119.5" r="1.15"/><circle cx="499.2" cy="121.1" r="1.15"/><circle cx="473.7" cy="119.9" r="1.15"/><circle cx="498.6" cy="107.7" r="1.15"/><circle cx="476.7" cy="110.9" r="1.15"/><circle cx="497.2" cy="115.6" r="1.15"/><circle cx="451.1" cy="121.3" r="1.15"/><circle cx="489.8" cy="107.7" r="1.15"/><circle cx="490.5" cy="117.0" r="1.15"/><circle cx="482.1" cy="121.3" r="1.15"/><circle cx="477.1" cy="111.2" r="1.15"/><circle cx="438.7" cy="116.4" r="1.15"/><circle cx="442.8" cy="117.8" r="1.15"/><circle cx="483.9" cy="107.5" r="1.15"/><circle cx="447.3" cy="117.8" r="1.15"/><circle cx="490.1" cy="110.0" r="1.15"/><circle cx="467.0" cy="116.0" r="1.15"/><circle cx="498.6" cy="117.6" r="1.15"/><circle cx="509.4" cy="112.7" r="1.15"/><circle cx="494.4" cy="116.1" r="1.15"/><circle cx="493.1" cy="119.1" r="1.15"/><circle cx="489.2" cy="118.0" r="1.15"/><circle cx="499.7" cy="119.1" r="1.15"/><circle cx="452.7" cy="118.5" r="1.15"/><circle cx="484.3" cy="118.4" r="1.15"/><circle cx="475.9" cy="116.6" r="1.15"/><circle cx="458.0" cy="119.7" r="1.15"/><circle cx="509.6" cy="115.2" r="1.15"/><circle cx="495.2" cy="113.0" r="1.15"/><circle cx="500.6" cy="118.6" r="1.15"/><circle cx="478.6" cy="112.3" r="1.15"/><circle cx="476.1" cy="117.0" r="1.15"/><circle cx="512.6" cy="117.7" r="1.15"/><circle cx="492.6" cy="109.1" r="1.15"/><circle cx="489.6" cy="113.1" r="1.15"/><circle cx="478.4" cy="123.0" r="1.15"/><circle cx="491.9" cy="120.6" r="1.15"/><circle cx="486.7" cy="120.9" r="1.15"/><circle cx="480.3" cy="120.6" r="1.15"/><circle cx="474.6" cy="114.4" r="1.15"/><circle cx="497.8" cy="110.4" r="1.15"/><circle cx="463.3" cy="113.7" r="1.15"/><circle cx="483.0" cy="123.5" r="1.15"/><circle cx="504.4" cy="117.3" r="1.15"/><circle cx="482.4" cy="116.0" r="1.15"/><circle cx="467.4" cy="112.2" r="1.15"/><circle cx="483.3" cy="113.3" r="1.15"/><circle cx="449.4" cy="117.9" r="1.15"/><circle cx="458.9" cy="118.4" r="1.15"/><circle cx="481.2" cy="119.3" r="1.15"/><circle cx="492.7" cy="118.9" r="1.15"/><circle cx="506.3" cy="112.1" r="1.15"/><circle cx="484.0" cy="119.9" r="1.15"/><circle cx="490.5" cy="112.8" r="1.15"/><circle cx="458.2" cy="123.4" r="1.15"/><circle cx="477.5" cy="115.3" r="1.15"/><circle cx="502.7" cy="112.8" r="1.15"/><circle cx="486.9" cy="107.2" r="1.15"/><circle cx="455.5" cy="118.7" r="1.15"/><circle cx="472.3" cy="117.7" r="1.15"/><circle cx="495.4" cy="107.0" r="1.15"/><circle cx="441.0" cy="117.8" r="1.15"/><circle cx="502.7" cy="119.4" r="1.15"/><circle cx="519.2" cy="118.0" r="1.15"/><circle cx="470.0" cy="116.7" r="1.15"/><circle cx="478.4" cy="113.0" r="1.15"/><circle cx="478.5" cy="111.1" r="1.15"/><circle cx="497.7" cy="116.3" r="1.15"/><circle cx="494.1" cy="107.7" r="1.15"/><circle cx="515.3" cy="113.2" r="1.15"/><circle cx="456.1" cy="120.5" r="1.15"/><circle cx="486.2" cy="112.2" r="1.15"/><circle cx="512.2" cy="113.2" r="1.15"/><circle cx="438.0" cy="116.8" r="1.15"/><circle cx="503.1" cy="120.8" r="1.15"/></g>
<line x1="403.1" y1="104.8" x2="463.0" y2="126.0" stroke="#c8c8c8" stroke-width="0.6" />
<line x1="463.0" y1="126.0" x2="532.7" y2="107.9" stroke="#c8c8c8" stroke-width="0.6" />
<line x1="463.0" y1="44.0" x2="463.0" y2="126.0" stroke="#c8c8c8" stroke-width="0.6" />
<line x1="507.0" y1="33.6" x2="532.7" y2="36.7" stroke="#c8c8c8" stroke-width="0.6" />
<line x1="506.0" y1="104.0" x2="532.7" y2="107.9" stroke="#c8c8c8" stroke-width="0.6" />
</g>
<path d="M365,73.9 L385.5,73.9 L385.5,71.6 L392.7,76.7 L385.5,81.6 L385.5,79.6 L365,79.6 Z" fill="#bdbdbd"/>
<path d="M365,199.5 L385.5,199.5 L385.5,197.2 L392.7,202.3 L385.5,207.2 L385.5,205.2 L365,205.2 Z" fill="#bdbdbd"/>
<text x="332.6" y="28.2" font-size="6.9" text-anchor="start" font-weight="700" fill="#111" font-family="'Liberation Sans', Arial, sans-serif" >PM<tspan font-size="4.8" dy="1.4" font-weight="400">0.3</tspan></text>
<path d="M328.5,27.8 L321.0,33.2" stroke="#111" stroke-width="1"/><path d="M319.3,34.6 L320.0,31.2 L322.6,33.6 Z" fill="#111"/>
<text x="293.6" y="115.5" font-size="6.95" text-anchor="start" font-weight="700" fill="#111" font-family="'Liberation Sans', Arial, sans-serif" >Charged nanofibers</text>
<path d="M302.8,105.4 L294.2,96.8" stroke="#111" stroke-width="1"/><path d="M292.6,95.2 L296.0,96.0 L293.4,98.6 Z" fill="#111"/>
<text x="295.4" y="246.6" font-size="6.9" text-anchor="start" font-weight="700" fill="#111" font-family="'Liberation Sans', Arial, sans-serif" >Neutral nanofibers</text>
<path d="M302.7,237.7 L293.4,229.2" stroke="#111" stroke-width="1"/><path d="M291.6,227.6 L295.2,228.3 L292.6,231.0 Z" fill="#111"/>
<rect x="48.6" y="147.0" width="134.0" height="26.0" fill="#e1f0ca"/>
<rect x="48.6" y="173.0" width="134.0" height="30.599999999999994" fill="#fdeec5"/>
<rect x="48.6" y="203.6" width="134.0" height="36.0" fill="#fcdadc"/>
<rect x="98.3" y="211.8" width="84.3" height="32.39999999999998" fill="#fff" stroke="#bbb" stroke-width="0.6"/>
<line x1="98.3" y1="211.9" x2="182.6" y2="211.9" stroke="#999" stroke-width="0.8" />
<rect x="48.6" y="147.0" width="134.0" height="100.0" fill="none" stroke="#555" stroke-width="0.9"/>
<line x1="46.6" y1="147.0" x2="48.6" y2="147.0" stroke="#555" stroke-width="0.8" />
<text x="43.6" y="149.2" font-size="6.4" text-anchor="end" font-weight="400" fill="#262626" font-family="'Liberation Sans', Arial, sans-serif" stroke="#262626" stroke-width="0.1" >99.9995</text>
<line x1="46.6" y1="173.1" x2="48.6" y2="173.1" stroke="#555" stroke-width="0.8" />
<text x="43.6" y="175.3" font-size="6.4" text-anchor="end" font-weight="400" fill="#262626" font-family="'Liberation Sans', Arial, sans-serif" stroke="#262626" stroke-width="0.1" >99.995</text>
<line x1="46.6" y1="203.6" x2="48.6" y2="203.6" stroke="#555" stroke-width="0.8" />
<text x="43.6" y="205.8" font-size="6.4" text-anchor="end" font-weight="400" fill="#262626" font-family="'Liberation Sans', Arial, sans-serif" stroke="#262626" stroke-width="0.1" >99.95</text>
<line x1="46.6" y1="239.6" x2="48.6" y2="239.6" stroke="#555" stroke-width="0.8" />
<text x="43.6" y="241.8" font-size="6.4" text-anchor="end" font-weight="400" fill="#262626" font-family="'Liberation Sans', Arial, sans-serif" stroke="#262626" stroke-width="0.1" >99.5</text>
<line x1="48.5" y1="247.0" x2="48.5" y2="249.0" stroke="#555" stroke-width="0.8" />
<text x="48.5" y="254.1" font-size="6.4" text-anchor="middle" font-weight="400" fill="#262626" font-family="'Liberation Sans', Arial, sans-serif" stroke="#262626" stroke-width="0.1" >0</text>
<line x1="59.1" y1="247.0" x2="59.1" y2="248.2" stroke="#555" stroke-width="0.6" />
<line x1="69.8" y1="247.0" x2="69.8" y2="249.0" stroke="#555" stroke-width="0.8" />
<text x="69.8" y="254.1" font-size="6.4" text-anchor="middle" font-weight="400" fill="#262626" font-family="'Liberation Sans', Arial, sans-serif" stroke="#262626" stroke-width="0.1" >60</text>
<line x1="80.5" y1="247.0" x2="80.5" y2="248.2" stroke="#555" stroke-width="0.6" />
<line x1="91.1" y1="247.0" x2="91.1" y2="249.0" stroke="#555" stroke-width="0.8" />
<text x="91.1" y="254.1" font-size="6.4" text-anchor="middle" font-weight="400" fill="#262626" font-family="'Liberation Sans', Arial, sans-serif" stroke="#262626" stroke-width="0.1" >120</text>
<line x1="101.8" y1="247.0" x2="101.8" y2="248.2" stroke="#555" stroke-width="0.6" />
<line x1="112.4" y1="247.0" x2="112.4" y2="249.0" stroke="#555" stroke-width="0.8" />
<text x="112.4" y="254.1" font-size="6.4" text-anchor="middle" font-weight="400" fill="#262626" font-family="'Liberation Sans', Arial, sans-serif" stroke="#262626" stroke-width="0.1" >180</text>
<line x1="123.1" y1="247.0" x2="123.1" y2="248.2" stroke="#555" stroke-width="0.6" />
<line x1="133.7" y1="247.0" x2="133.7" y2="249.0" stroke="#555" stroke-width="0.8" />
<text x="133.7" y="254.1" font-size="6.4" text-anchor="middle" font-weight="400" fill="#262626" font-family="'Liberation Sans', Arial, sans-serif" stroke="#262626" stroke-width="0.1" >240</text>
<line x1="144.3" y1="247.0" x2="144.3" y2="248.2" stroke="#555" stroke-width="0.6" />
<line x1="155.0" y1="247.0" x2="155.0" y2="249.0" stroke="#555" stroke-width="0.8" />
<text x="155.0" y="254.1" font-size="6.4" text-anchor="middle" font-weight="400" fill="#262626" font-family="'Liberation Sans', Arial, sans-serif" stroke="#262626" stroke-width="0.1" >300</text>
<line x1="165.7" y1="247.0" x2="165.7" y2="248.2" stroke="#555" stroke-width="0.6" />
<line x1="176.3" y1="247.0" x2="176.3" y2="249.0" stroke="#555" stroke-width="0.8" />
<text x="176.3" y="254.1" font-size="6.4" text-anchor="middle" font-weight="400" fill="#262626" font-family="'Liberation Sans', Arial, sans-serif" stroke="#262626" stroke-width="0.1" >360</text>
<text x="115.5" y="262.4" font-size="6.7" text-anchor="middle" font-weight="700" fill="#222" font-family="'Liberation Sans', Arial, sans-serif" >Pressure drop (Pa)</text>
<text x="0.0" y="0.0" font-size="6.5" text-anchor="middle" font-weight="700" fill="#222" font-family="'Liberation Sans', Arial, sans-serif" transform="translate(21.2,194.5) rotate(-90)">Filtration efficiency (%)</text>
<polygon points="68.00,168.00 68.99,170.64 71.80,170.76 69.60,172.52 70.35,175.24 68.00,173.68 65.65,175.24 66.40,172.52 64.20,170.76 67.01,170.64" fill="#ec1c24"/>
<polygon points="65.80,198.70 66.79,201.34 69.60,201.46 67.40,203.22 68.15,205.94 65.80,204.38 63.45,205.94 64.20,203.22 62.00,201.46 64.81,201.34" fill="#ec1c24"/>
<polygon points="60.00,222.40 60.99,225.04 63.80,225.16 61.60,226.92 62.35,229.64 60.00,228.08 57.65,229.64 58.40,226.92 56.20,225.16 59.01,225.04" fill="#ec1c24"/>
<circle cx="87.4" cy="162.7" r="2.6" fill="#fff" stroke="#1b22c8" stroke-width="0.7"/>
<path d="M84.85,163.40 A2.6,2.6 0 1 1 89.95,163.40 Z" fill="#1b22c8"/>
<circle cx="71.9" cy="190.7" r="2.6" fill="#fff" stroke="#1b22c8" stroke-width="0.7"/>
<path d="M69.35,191.40 A2.6,2.6 0 1 1 74.45,191.40 Z" fill="#1b22c8"/>
<circle cx="89.1" cy="236.4" r="2.6" fill="#fff" stroke="#1b22c8" stroke-width="0.7"/>
<path d="M86.55,237.10 A2.6,2.6 0 1 1 91.65,237.10 Z" fill="#1b22c8"/>
<polygon points="92.4,151.6 95.5,154.7 92.4,157.79999999999998 89.30000000000001,154.7" fill="#f7851f"/>
<polygon points="76.7,220.5 79.8,223.6 76.7,226.7 73.60000000000001,223.6" fill="#f7851f"/>
<polygon points="66.0,232.9 69.1,236.0 66.0,239.1 62.9,236.0" fill="#f7851f"/>
<polygon points="172.70,164.10 175.74,166.31 174.58,169.89 170.82,169.89 169.66,166.31" fill="#0c8a22"/>
<polygon points="155.80,175.50 158.84,177.71 157.68,181.29 153.92,181.29 152.76,177.71" fill="#0c8a22"/>
<polygon points="148.20,187.30 151.24,189.51 150.08,193.09 146.32,193.09 145.16,189.51" fill="#0c8a22"/>
<polygon points="105.50,212.00 106.49,214.64 109.30,214.76 107.10,216.52 107.85,219.24 105.50,217.68 103.15,219.24 103.90,216.52 101.70,214.76 104.51,214.64" fill="#ec1c24"/>
<text x="114.5" y="218.2" font-size="6.2" text-anchor="start" font-weight="400" fill="#262626" font-family="'Liberation Sans', Arial, sans-serif" stroke="#262626" stroke-width="0.1" >This work</text>
<circle cx="105.5" cy="224.2" r="2.6" fill="#fff" stroke="#1b22c8" stroke-width="0.7"/>
<path d="M102.95,224.90 A2.6,2.6 0 1 1 108.05,224.90 Z" fill="#1b22c8"/>
<text x="114.5" y="226.4" font-size="6.2" text-anchor="start" font-weight="400" fill="#262626" font-family="'Liberation Sans', Arial, sans-serif" stroke="#262626" stroke-width="0.1" >Electrospun fibers<tspan font-size="3.6" dy="-2.6">14,24,34</tspan></text>
<polygon points="105.5,229.3 108.6,232.4 105.5,235.5 102.4,232.4" fill="#f7851f"/>
<text x="114.5" y="234.6" font-size="6.2" text-anchor="start" font-weight="400" fill="#262626" font-family="'Liberation Sans', Arial, sans-serif" stroke="#262626" stroke-width="0.1" >Melt-blow fibers</text>
<polygon points="105.50,237.00 108.54,239.21 107.38,242.79 103.62,242.79 102.46,239.21" fill="#0c8a22"/>
<text x="114.5" y="242.4" font-size="6.2" text-anchor="start" font-weight="400" fill="#262626" font-family="'Liberation Sans', Arial, sans-serif" stroke="#262626" stroke-width="0.1" >Glass fibers</text>
<rect x="47.8" y="282.4" width="134.60000000000002" height="100.80000000000001" fill="#fff" stroke="#555" stroke-width="0.9"/>
<rect x="47.8" y="287.6" width="122.7" height="10.6" fill="#fc1424"/>
<rect x="47.8" y="301.3" width="20.400000000000006" height="10.2" fill="#14873a"/>
<rect x="47.8" y="321.7" width="98.60000000000001" height="10.6" fill="#fc1424"/>
<rect x="47.8" y="335.3" width="17.900000000000006" height="10.5" fill="#14873a"/>
<rect x="47.8" y="353.3" width="28.0" height="10.6" fill="#fc1424"/>
<rect x="47.8" y="366.6" width="11.900000000000006" height="10.6" fill="#14873a"/>
<line x1="47.8" y1="314.8" x2="182.4" y2="314.8" stroke="#555" stroke-width="1.3" stroke-dasharray="2.4,1.6"/>
<line x1="47.8" y1="348.4" x2="182.4" y2="348.4" stroke="#555" stroke-width="1.3" stroke-dasharray="2.4,1.6"/>
<text x="45.0" y="301.8" font-size="6.5" text-anchor="end" font-weight="400" fill="#262626" font-family="'Liberation Sans', Arial, sans-serif" stroke="#262626" stroke-width="0.1" >H14</text>
<text x="45.0" y="336.7" font-size="6.5" text-anchor="end" font-weight="400" fill="#262626" font-family="'Liberation Sans', Arial, sans-serif" stroke="#262626" stroke-width="0.1" >H13</text>
<text x="45.0" y="367.3" font-size="6.5" text-anchor="end" font-weight="400" fill="#262626" font-family="'Liberation Sans', Arial, sans-serif" stroke="#262626" stroke-width="0.1" >H12</text>
<line x1="48.2" y1="383.2" x2="48.2" y2="385.2" stroke="#555" stroke-width="0.8" />
<text x="48.2" y="390.9" font-size="6.5" text-anchor="middle" font-weight="400" fill="#262626" font-family="'Liberation Sans', Arial, sans-serif" stroke="#262626" stroke-width="0.1" >0</text>
<line x1="60.0" y1="383.2" x2="60.0" y2="384.4" stroke="#555" stroke-width="0.6" />
<line x1="71.8" y1="383.2" x2="71.8" y2="385.2" stroke="#555" stroke-width="0.8" />
<text x="71.8" y="390.9" font-size="6.5" text-anchor="middle" font-weight="400" fill="#262626" font-family="'Liberation Sans', Arial, sans-serif" stroke="#262626" stroke-width="0.1" >3</text>
<line x1="83.5" y1="383.2" x2="83.5" y2="384.4" stroke="#555" stroke-width="0.6" />
<line x1="95.3" y1="383.2" x2="95.3" y2="385.2" stroke="#555" stroke-width="0.8" />
<text x="95.3" y="390.9" font-size="6.5" text-anchor="middle" font-weight="400" fill="#262626" font-family="'Liberation Sans', Arial, sans-serif" stroke="#262626" stroke-width="0.1" >6</text>
<line x1="107.1" y1="383.2" x2="107.1" y2="384.4" stroke="#555" stroke-width="0.6" />
<line x1="118.9" y1="383.2" x2="118.9" y2="385.2" stroke="#555" stroke-width="0.8" />
<text x="118.9" y="390.9" font-size="6.5" text-anchor="middle" font-weight="400" fill="#262626" font-family="'Liberation Sans', Arial, sans-serif" stroke="#262626" stroke-width="0.1" >9</text>
<line x1="130.7" y1="383.2" x2="130.7" y2="384.4" stroke="#555" stroke-width="0.6" />
<line x1="142.4" y1="383.2" x2="142.4" y2="385.2" stroke="#555" stroke-width="0.8" />
<text x="142.4" y="390.9" font-size="6.5" text-anchor="middle" font-weight="400" fill="#262626" font-family="'Liberation Sans', Arial, sans-serif" stroke="#262626" stroke-width="0.1" >12</text>
<line x1="154.2" y1="383.2" x2="154.2" y2="384.4" stroke="#555" stroke-width="0.6" />
<line x1="166.0" y1="383.2" x2="166.0" y2="385.2" stroke="#555" stroke-width="0.8" />
<text x="166.0" y="390.9" font-size="6.5" text-anchor="middle" font-weight="400" fill="#262626" font-family="'Liberation Sans', Arial, sans-serif" stroke="#262626" stroke-width="0.1" >15</text>
<line x1="177.8" y1="383.2" x2="177.8" y2="384.4" stroke="#555" stroke-width="0.6" />
<text x="114.6" y="399.9" font-size="7.0" text-anchor="middle" font-weight="700" fill="#222" font-family="'Liberation Sans', Arial, sans-serif" >Energy consumption (Φ)</text>
<text x="0.0" y="0.0" font-size="6.8" text-anchor="middle" font-weight="700" fill="#222" font-family="'Liberation Sans', Arial, sans-serif" transform="translate(30.5,332.7) rotate(-90)">Filtration levels</text>
<rect x="76.7" y="366.2" width="13.3" height="6.1" fill="#fc1424"/>
<rect x="76.7" y="374.0" width="13.3" height="6.0" fill="#14873a"/>
<text x="91.8" y="371.2" font-size="6.1" text-anchor="start" font-weight="400" fill="#262626" font-family="'Liberation Sans', Arial, sans-serif" stroke="#262626" stroke-width="0.1" >Commercial filter</text>
<text x="91.8" y="379.3" font-size="6.1" text-anchor="start" font-weight="400" fill="#262626" font-family="'Liberation Sans', Arial, sans-serif" stroke="#262626" stroke-width="0.1" >Nano-wool felts</text>
<defs>
<linearGradient id="batg" x1="0" x2="1" y1="0" y2="0">
<stop offset="0" stop-color="#1eae42"/><stop offset="0.35" stop-color="#3edc62"/><stop offset="0.7" stop-color="#2cc84e"/><stop offset="1" stop-color="#189e3a"/></linearGradient>
<linearGradient id="batt" x1="0" x2="1" y1="0" y2="0">
<stop offset="0" stop-color="#8a8a8a"/><stop offset="0.4" stop-color="#c8c8c8"/><stop offset="1" stop-color="#8c8c8c"/></linearGradient>
<linearGradient id="batc" x1="0" x2="1" y1="0" y2="0">
<stop offset="0" stop-color="#b0b0b0"/><stop offset="0.5" stop-color="#e8e8e8"/><stop offset="1" stop-color="#a8a8a8"/></linearGradient>
</defs>
<rect x="159.7" y="324.8" width="6.9" height="5.2" rx="1.2" fill="url(#batc)"/>
<path d="M148.1,339.8 L148.1,331.5 Q148.1,329 151,329 L175.7,329 Q178.6,329 178.6,331.5 L178.6,339.8 Z" fill="url(#batt)"/>
<path d="M148.1,339.6 L178.6,339.6 L178.6,374.5 Q178.6,377.8 174,377.8 L152.7,377.8 Q148.1,377.8 148.1,374.5 Z" fill="url(#batg)"/>
<text x="163.3" y="348.3" font-size="6.6" text-anchor="middle" font-weight="700" fill="#eaffea" font-family="'Liberation Sans', Arial, sans-serif" >Energy</text>
<text x="163.3" y="356.6" font-size="6.6" text-anchor="middle" font-weight="700" fill="#eaffea" font-family="'Liberation Sans', Arial, sans-serif" >saving</text>
<path d="M156,360.4 L163.4,359.6 L164.3,364.4 L162.7,364.7 L165.8,368.6 L164.3,368.9 L168,375.6 L160.6,368.4 L162.3,368.1 L158.8,364.8 L160.5,364.5 Z" fill="#f6fff6"/>
<path d="M156,360.4 L158.8,364.8 L160.5,364.5 Z M160.6,368.4 L162.3,368.1 L168,375.6 Z" fill="#cfd8cf"/>
<path d="M399.6,281.4 L226.2,281.4 A9,9 0 0 0 217.2,290.4 L217.2,390.8 A9,9 0 0 0 226.2,399.8 L399.7,399.8 A9,9 0 0 0 408.7,390.8 L408.7,285.6" fill="none" stroke="#9a9a9a" stroke-width="1"/>
<polygon points="295.20,296.50 331.16,313.82 340.05,352.74 315.16,383.94 275.24,383.94 250.35,352.74 259.24,313.82" fill="none" stroke="#cfcfcf" stroke-width="0.9"/>
<polygon points="295.20,334.22 326.49,317.55 334.22,351.41 312.56,378.56 280.83,372.34 256.41,351.35 264.27,317.83" fill="#fbf8b8"/>
<polygon points="295.20,333.30 302.39,336.76 304.17,344.55 299.19,350.79 291.21,350.79 286.23,344.55 288.01,336.76" fill="none" stroke="#d8d6b0" stroke-width="0.5" opacity="0.8"/>
<polygon points="295.20,324.10 309.59,331.03 313.14,346.59 303.18,359.08 287.22,359.08 277.26,346.59 280.81,331.03" fill="none" stroke="#d8d6b0" stroke-width="0.5" opacity="0.8"/>
<polygon points="295.20,314.90 316.78,325.29 322.11,348.64 307.18,367.37 283.22,367.37 268.29,348.64 273.62,325.29" fill="none" stroke="#d8d6b0" stroke-width="0.5" opacity="0.8"/>
<polygon points="295.20,305.70 323.97,319.56 331.08,350.69 311.17,375.66 279.23,375.66 259.32,350.69 266.43,319.56" fill="none" stroke="#d8d6b0" stroke-width="0.5" opacity="0.8"/>
<line x1="295.2" y1="342.5" x2="295.2" y2="296.5" stroke="#d8d6b0" stroke-width="0.5" opacity="0.8"/>
<line x1="295.2" y1="342.5" x2="331.2" y2="313.8" stroke="#d8d6b0" stroke-width="0.5" opacity="0.8"/>
<line x1="295.2" y1="342.5" x2="340.0" y2="352.7" stroke="#d8d6b0" stroke-width="0.5" opacity="0.8"/>
<line x1="295.2" y1="342.5" x2="315.2" y2="383.9" stroke="#d8d6b0" stroke-width="0.5" opacity="0.8"/>
<line x1="295.2" y1="342.5" x2="275.2" y2="383.9" stroke="#d8d6b0" stroke-width="0.5" opacity="0.8"/>
<line x1="295.2" y1="342.5" x2="250.4" y2="352.7" stroke="#d8d6b0" stroke-width="0.5" opacity="0.8"/>
<line x1="295.2" y1="342.5" x2="259.2" y2="313.8" stroke="#d8d6b0" stroke-width="0.5" opacity="0.8"/>
<polygon points="295.20,300.18 328.29,316.11 336.46,351.92 313.56,380.63 276.84,380.63 253.94,351.92 262.11,316.11" fill="none" stroke="#e2e2e2" stroke-width="0.6"/>
<polygon points="295.20,322.72 305.99,333.90 327.49,349.87 308.57,370.27 280.03,374.00 262.91,349.87 272.90,324.72" fill="none" stroke="#0d9a4a" stroke-width="1.0"/>
<polygon points="295.20,322.72 300.95,337.91 321.21,348.44 307.97,369.02 277.84,378.56 269.64,348.33 272.18,324.14" fill="none" stroke="#3a3a3a" stroke-width="0.9"/>
<polygon points="295.20,302.94 300.23,338.48 333.77,351.30 300.59,353.69 289.81,353.69 283.99,345.06 264.27,317.83" fill="none" stroke="#3a4aa8" stroke-width="1.0"/>
<polygon points="295.20,334.22 326.49,317.55 334.22,351.41 312.56,378.56 280.83,372.34 256.41,351.35 264.27,317.83" fill="none" stroke="#e63c3c" stroke-width="1.1"/>
<circle cx="295.20" cy="334.22" r="1.6" fill="#ee1c2a"/>
<circle cx="326.49" cy="317.55" r="1.6" fill="#ee1c2a"/>
<circle cx="334.22" cy="351.41" r="1.6" fill="#ee1c2a"/>
<circle cx="312.56" cy="378.56" r="1.6" fill="#ee1c2a"/>
<circle cx="280.83" cy="372.34" r="1.6" fill="#ee1c2a"/>
<circle cx="256.41" cy="351.35" r="1.6" fill="#ee1c2a"/>
<circle cx="264.27" cy="317.83" r="1.6" fill="#ee1c2a"/>
<text x="295.5" y="292.0" font-size="6.8" text-anchor="middle" font-weight="700" fill="#222" font-family="'Liberation Sans', Arial, sans-serif" >Fiber diameter</text>
<text x="226.8" y="315.6" font-size="6.7" text-anchor="start" font-weight="700" fill="#222" font-family="'Liberation Sans', Arial, sans-serif" >Porosity</text>
<text x="337.3" y="315.4" font-size="6.8" text-anchor="start" font-weight="700" fill="#222" font-family="'Liberation Sans', Arial, sans-serif" >Electret effect</text>
<text x="234.1" y="351.2" font-size="6.85" text-anchor="middle" font-weight="700" fill="#222" font-family="'Liberation Sans', Arial, sans-serif" >Filtration</text>
<text x="234.0" y="358.7" font-size="6.85" text-anchor="middle" font-weight="700" fill="#222" font-family="'Liberation Sans', Arial, sans-serif" >efficacy</text>
<text x="344.1" y="354.1" font-size="6.8" text-anchor="start" font-weight="700" fill="#222" font-family="'Liberation Sans', Arial, sans-serif" >1/Energy cost</text>
<text x="243.6" y="393.6" font-size="6.8" text-anchor="start" font-weight="700" fill="#222" font-family="'Liberation Sans', Arial, sans-serif" >Cost efficiency</text>
<text x="307.5" y="393.4" font-size="6.8" text-anchor="start" font-weight="700" fill="#222" font-family="'Liberation Sans', Arial, sans-serif" >Multifunctionality</text>
<line x1="343.5" y1="359.0" x2="355.5" y2="359.0" stroke="#e63c3c" stroke-width="0.9" />
<circle cx="349.5" cy="359.0" r="1.4" fill="#ee1c2a"/>
<text x="356.6" y="360.8" font-size="5.1" text-anchor="start" font-weight="400" fill="#262626" font-family="'Liberation Sans', Arial, sans-serif" stroke="#262626" stroke-width="0.1" >Nano-wool</text>
<line x1="338.0" y1="365.6" x2="348.9" y2="365.6" stroke="#5a6ac0" stroke-width="0.9" />
<text x="350.0" y="367.4" font-size="5.1" text-anchor="start" font-weight="400" fill="#262626" font-family="'Liberation Sans', Arial, sans-serif" stroke="#262626" stroke-width="0.1" >Natural wool</text>
<line x1="332.5" y1="371.9" x2="344.5" y2="371.9" stroke="#0d9a4a" stroke-width="0.9" />
<text x="346.0" y="373.7" font-size="5.15" text-anchor="start" font-weight="400" fill="#262626" font-family="'Liberation Sans', Arial, sans-serif" stroke="#262626" stroke-width="0.1" >Commercial electret filters</text>
<line x1="327.0" y1="378.4" x2="339.0" y2="378.4" stroke="#3a3a3a" stroke-width="0.9" />
<text x="340.0" y="380.2" font-size="5.15" text-anchor="start" font-weight="400" fill="#262626" font-family="'Liberation Sans', Arial, sans-serif" stroke="#262626" stroke-width="0.1" >Commercial neutral filters</text>
<defs>
<linearGradient id="fbg" x1="0" x2="1" y1="0" y2="0">
<stop offset="0" stop-color="#d2d0ca"/><stop offset="0.1" stop-color="#dbd9d4"/><stop offset="0.3" stop-color="#e2e1dc"/><stop offset="0.8" stop-color="#e2e1dc"/><stop offset="0.95" stop-color="#d8d7d2"/><stop offset="1" stop-color="#c8c6c1"/></linearGradient>
<linearGradient id="fsheet" x1="0" x2="0" y1="0" y2="1">
<stop offset="0" stop-color="#f4f4f2"/><stop offset="1" stop-color="#ecebe8"/></linearGradient>
<linearGradient id="brown" x1="0" x2="1" y1="0" y2="1">
<stop offset="0" stop-color="#a8683e"/><stop offset="0.5" stop-color="#b87a4c"/><stop offset="1" stop-color="#9c5e36"/></linearGradient>
<linearGradient id="cyl" x1="0" x2="1" y1="0" y2="0">
<stop offset="0" stop-color="#d8d4c8"/><stop offset="0.3" stop-color="#fbf8ee"/><stop offset="0.7" stop-color="#f4f0e2"/><stop offset="1" stop-color="#c8c4b8"/></linearGradient>
</defs>
<rect x="421.2" y="283.3" width="122.3" height="115.8" fill="url(#fbg)"/>
<path d="M436,288.5 Q480,287 537,290.5 L538,388 Q480,389.5 437,388 Z" fill="url(#fsheet)" opacity="0.95"/>
<rect x="450.9" y="283.3" width="67.6" height="4.4" fill="#111"/>
<path d="M458.6,396.2 Q490,395.2 521,396 L521,399.1 L458.6,399.1 Z" fill="#151515"/>
<path d="M421.8,295.5 Q421.2,307 425.6,315.8 L427.8,314.6 Q426.6,305 428.4,296 Z" fill="#121214"/>
<path d="M541.2,292 Q539,305 540.2,318 L542.6,318 Q542,305 543.4,292 Z" fill="#202028"/>
<path d="M421.6,287.6 L425.5,284.6 L428.6,284.2 L430.6,285.6 L433.2,285.0 L438.6,289.0 L438.8,291.6 L432.0,291.2 L428.8,293.6 L428.4,298.0 L423.2,297.6 L421.4,293.0 Z" fill="#1e20c0"/>
<path d="M425.5,284.6 L428.6,284.2 L430.6,285.6 L429.5,289.5 L426,290 Z" fill="#2a30d8" opacity="0.8"/>
<path d="M534.8,288.2 L541.5,286.8 L543.5,288 L543.5,293.6 L541.0,294.4 L538.0,291.8 Z" fill="#2224c0"/>
<rect x="493.1" y="292.4" width="42.6" height="41.4" fill="url(#brown)"/>
<ellipse cx="514.2" cy="302.6" rx="10.8" ry="9.2" fill="#eef2f2"/>
<ellipse cx="512" cy="301" rx="3" ry="2" fill="#b8d8e0" opacity="0.8"/><ellipse cx="517" cy="306" rx="2.5" ry="1.6" fill="#f0c890" opacity="0.8"/><ellipse cx="509" cy="306" rx="2" ry="1.4" fill="#a0d0c0" opacity="0.7"/>
<path d="M494.6,318.5 Q496,311.5 502,309.2 Q508.5,307.5 513.4,312 L514,326.5 Q510,332.5 505.5,333.2 Q499,332 496.6,328 Z" fill="#88e858"/>
<path d="M503.8,309 Q504.5,322 505.5,333" stroke="#60c038" stroke-width="0.7" fill="none"/>
<ellipse cx="504.5" cy="318" rx="2.2" ry="1.6" fill="#3a7a30" opacity="0.6"/>
<path d="M513.8,314 Q516.5,307.5 521.5,305.6 Q529,304.6 533.8,310.5 L534.2,326 Q530,332.5 525,333.2 Q518,332 515.6,328.5 Z" fill="#24b4dc"/>
<path d="M522,305.8 Q523.5,320 524.6,333" stroke="#1890b0" stroke-width="0.7" fill="none"/>
<ellipse cx="528" cy="316" rx="2" ry="1.5" fill="#1a6a90" opacity="0.6"/>
<rect x="492.9" y="341.3" width="42.9" height="41.5" fill="#37332f"/>
<rect x="492.9" y="341.3" width="42.9" height="6" fill="#6a5a48"/>
<rect x="495" y="343" width="5" height="4" fill="#c8a070"/>
<rect x="493.8" y="349.2" width="15.2" height="27" fill="#2a2a2a"/>
<rect x="495.2" y="351" width="12.4" height="23" fill="#e8e4dc"/>
<line x1="496.0" y1="351.0" x2="496.0" y2="374.0" stroke="#c4c0b6" stroke-width="0.5" />
<line x1="498.1" y1="351.0" x2="498.1" y2="374.0" stroke="#c4c0b6" stroke-width="0.5" />
<line x1="500.2" y1="351.0" x2="500.2" y2="374.0" stroke="#c4c0b6" stroke-width="0.5" />
<line x1="502.3" y1="351.0" x2="502.3" y2="374.0" stroke="#c4c0b6" stroke-width="0.5" />
<line x1="504.4" y1="351.0" x2="504.4" y2="374.0" stroke="#c4c0b6" stroke-width="0.5" />
<line x1="506.5" y1="351.0" x2="506.5" y2="374.0" stroke="#c4c0b6" stroke-width="0.5" />
<path d="M511,351 Q522,347 533.5,351 L533.5,377 Q522,380 511,377 Z" fill="#2c2c2c"/>
<path d="M511.8,352.6 Q522,349.5 532.8,352.6 L532.8,373 Q522,375.6 511.8,373 Z" fill="url(#cyl)"/>
<line x1="513.5" y1="352.0" x2="513.5" y2="374.0" stroke="#e2ddd0" stroke-width="0.4" />
<line x1="515.8" y1="352.0" x2="515.8" y2="374.0" stroke="#e2ddd0" stroke-width="0.4" />
<line x1="518.1" y1="352.0" x2="518.1" y2="374.0" stroke="#e2ddd0" stroke-width="0.4" />
<line x1="520.4" y1="352.0" x2="520.4" y2="374.0" stroke="#e2ddd0" stroke-width="0.4" />
<line x1="522.7" y1="352.0" x2="522.7" y2="374.0" stroke="#e2ddd0" stroke-width="0.4" />
<line x1="525.0" y1="352.0" x2="525.0" y2="374.0" stroke="#e2ddd0" stroke-width="0.4" />
<line x1="527.3" y1="352.0" x2="527.3" y2="374.0" stroke="#e2ddd0" stroke-width="0.4" />
<line x1="529.6" y1="352.0" x2="529.6" y2="374.0" stroke="#e2ddd0" stroke-width="0.4" />
<line x1="531.9" y1="352.0" x2="531.9" y2="374.0" stroke="#e2ddd0" stroke-width="0.4" />
<line x1="438.2" y1="289.5" x2="438.2" y2="394.0" stroke="#f02834" stroke-width="1.6" stroke-dasharray="3.6,2"/>
<line x1="431.0" y1="388.1" x2="538.0" y2="388.1" stroke="#f02834" stroke-width="1.7" stroke-dasharray="4,2"/>
<text x="0.0" y="0.0" font-size="6.6" text-anchor="middle" font-weight="700" fill="#222" font-family="'Liberation Sans', Arial, sans-serif" transform="translate(442.0,338.5) rotate(90)" textLength="17.2" lengthAdjust="spacingAndGlyphs">60 cm</text>
<text x="482.5" y="385.7" font-size="6.2" text-anchor="middle" font-weight="700" fill="#222" font-family="'Liberation Sans', Arial, sans-serif" textLength="17" lengthAdjust="spacingAndGlyphs">60 cm</text>
</svg>
</body></html>
